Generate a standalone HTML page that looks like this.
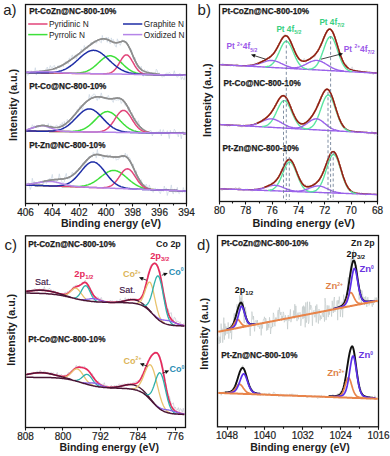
<!DOCTYPE html>
<html><head><meta charset="utf-8"><style>
html,body{margin:0;padding:0;background:#fff;width:390px;height:456px;overflow:hidden;}
body{position:relative;font-family:"Liberation Sans",sans-serif;}
</style></head><body>
<svg width="390" height="456" viewBox="0 0 390 456" style="position:absolute;left:0;top:0">
<g font-family='"Liberation Sans", sans-serif'>
<rect x="25.5" y="4.5" width="161.00" height="199.00" fill="none" stroke="#141414" stroke-width="1.3"/>
<line x1="25.50" y1="203.5" x2="25.50" y2="206.5" stroke="#141414" stroke-width="1.1"/>
<line x1="52.50" y1="203.5" x2="52.50" y2="206.5" stroke="#141414" stroke-width="1.1"/>
<line x1="79.50" y1="203.5" x2="79.50" y2="206.5" stroke="#141414" stroke-width="1.1"/>
<line x1="106.50" y1="203.5" x2="106.50" y2="206.5" stroke="#141414" stroke-width="1.1"/>
<line x1="132.50" y1="203.5" x2="132.50" y2="206.5" stroke="#141414" stroke-width="1.1"/>
<line x1="159.50" y1="203.5" x2="159.50" y2="206.5" stroke="#141414" stroke-width="1.1"/>
<line x1="186.50" y1="203.5" x2="186.50" y2="206.5" stroke="#141414" stroke-width="1.1"/>
<line x1="38.50" y1="203.5" x2="38.50" y2="205.5" stroke="#141414" stroke-width="1.1"/>
<line x1="65.50" y1="203.5" x2="65.50" y2="205.5" stroke="#141414" stroke-width="1.1"/>
<line x1="92.50" y1="203.5" x2="92.50" y2="205.5" stroke="#141414" stroke-width="1.1"/>
<line x1="119.50" y1="203.5" x2="119.50" y2="205.5" stroke="#141414" stroke-width="1.1"/>
<line x1="146.50" y1="203.5" x2="146.50" y2="205.5" stroke="#141414" stroke-width="1.1"/>
<line x1="173.50" y1="203.5" x2="173.50" y2="205.5" stroke="#141414" stroke-width="1.1"/>
<text x="3.2" y="14.7" font-size="15" fill="#222" font-weight="normal" text-anchor="start" >a)</text>
<text x="25.5" y="215.5" font-size="10" fill="#1e1e1e" font-weight="normal" text-anchor="middle" stroke="#1e1e1e" stroke-width="0.2" >406</text>
<text x="52.33333333333333" y="215.5" font-size="10" fill="#1e1e1e" font-weight="normal" text-anchor="middle" stroke="#1e1e1e" stroke-width="0.2" >404</text>
<text x="79.16666666666666" y="215.5" font-size="10" fill="#1e1e1e" font-weight="normal" text-anchor="middle" stroke="#1e1e1e" stroke-width="0.2" >402</text>
<text x="106.0" y="215.5" font-size="10" fill="#1e1e1e" font-weight="normal" text-anchor="middle" stroke="#1e1e1e" stroke-width="0.2" >400</text>
<text x="132.83333333333331" y="215.5" font-size="10" fill="#1e1e1e" font-weight="normal" text-anchor="middle" stroke="#1e1e1e" stroke-width="0.2" >398</text>
<text x="159.66666666666666" y="215.5" font-size="10" fill="#1e1e1e" font-weight="normal" text-anchor="middle" stroke="#1e1e1e" stroke-width="0.2" >396</text>
<text x="186.5" y="215.5" font-size="10" fill="#1e1e1e" font-weight="normal" text-anchor="middle" stroke="#1e1e1e" stroke-width="0.2" >394</text>
<text x="111" y="227.1" font-size="10.62" fill="#1c1c1c" font-weight="bold" text-anchor="middle" >Binding energy (eV)</text>
<text x="17.3" y="105" font-size="10.6" fill="#1c1c1c" font-weight="bold" text-anchor="middle" transform="rotate(-90 17.3 105)">Intensity (a.u.)</text>
<path d="M26.3 72.3L27.3 75.2L28.3 74.9L29.3 71.0L30.3 71.4L31.3 70.8L32.3 73.2L33.3 71.7L34.3 73.4L35.3 67.7L36.3 75.1L37.3 71.3L38.3 73.0L39.3 71.1L40.3 70.4L41.3 72.2L42.3 72.9L43.3 70.5L44.3 70.5L45.3 72.2L46.3 68.6L47.3 67.0L48.3 71.0L49.3 68.5L50.3 65.5L51.3 67.7L52.3 68.2L53.3 66.3L54.3 65.3L55.3 68.3L56.3 69.9L57.3 67.0L58.3 65.4L59.3 67.5L60.3 67.7L61.3 65.0L62.3 66.3L63.3 66.9L64.3 63.5L65.3 61.6L66.3 63.5L67.3 62.7L68.3 63.9L69.3 58.0L70.3 58.7L71.3 57.6L72.3 54.9L73.3 58.2L74.3 58.4L75.3 54.8L76.3 58.8L77.3 56.7L78.3 55.5L79.3 54.3L80.3 54.7L81.3 48.9L82.3 52.4L83.3 51.5L84.3 45.5L85.3 49.4L86.3 47.3L87.3 48.8L88.3 45.3L89.3 45.5L90.3 45.6L91.3 42.1L92.3 44.7L93.3 42.5L94.3 43.1L95.3 40.3L96.3 43.3L97.3 41.7L98.3 39.5L99.3 40.9L100.3 42.0L101.3 42.9L102.3 35.4L103.3 40.7L104.3 39.9L105.3 38.8L106.3 37.0L107.3 42.3L108.3 37.2L109.3 41.7L110.3 43.8L111.3 37.9L112.3 41.2L113.3 39.4L114.3 43.1L115.3 46.0L116.3 47.2L117.3 38.8L118.3 41.2L119.3 43.7L120.3 45.3L121.3 42.4L122.3 39.7L123.3 41.9L124.3 41.5L125.3 41.6L126.3 41.3L127.3 45.0L128.3 46.3L129.3 47.3L130.3 49.1L131.3 49.1L132.3 53.2L133.3 59.2L134.3 58.4L135.3 57.8L136.3 65.9L137.3 65.9L138.3 70.9L139.3 67.7L140.3 67.6L141.3 66.3L142.3 73.1L143.3 76.3L144.3 69.5L145.3 70.3L146.3 73.3L147.3 70.5L148.3 71.9L149.3 72.0L150.3 73.3L151.3 75.5L152.3 73.3L153.3 75.4L154.3 72.6L155.3 74.4L156.3 69.1L157.3 70.7L158.3 75.8L159.3 72.8L160.3 75.5L161.3 75.5L162.3 77.3L163.3 76.2L164.3 76.7L165.3 74.3L166.3 73.1L167.3 73.1L168.3 73.6L169.3 72.3L170.3 73.6L171.3 74.6L172.3 75.4L173.3 74.2L174.3 70.7L175.3 74.8L176.3 75.5L177.3 77.4L178.3 76.3L179.3 73.6L180.3 73.5L181.3 79.5L182.3 76.8L183.3 79.2L184.3 79.8L185.3 73.4" fill="none" stroke="#cad6e2" stroke-width="0.7" stroke-linejoin="round" />
<path d="M30.7 72.0L31.4 72.0L32.2 71.9L33.0 71.9L33.7 71.8L34.5 71.8L35.2 71.7L36.0 71.7L36.7 71.6L37.5 71.5L38.2 71.5L39.0 71.4L39.7 71.3L40.5 71.3L41.2 71.2L42.0 71.1L42.7 71.0L43.5 70.9L44.2 70.8L45.0 70.7L45.7 70.6L46.5 70.5L47.2 70.3L48.0 70.2L48.7 70.1L49.5 69.9L50.2 69.7L51.0 69.6L51.7 69.4L52.5 69.2L53.2 69.0L54.0 68.7L54.7 68.5L55.5 68.2L56.2 67.9L57.0 67.6L57.7 67.3L58.5 67.0L59.2 66.7L60.0 66.3L60.7 66.0L61.5 65.6L62.2 65.2L63.0 64.8L63.7 64.3L64.5 63.9L65.2 63.5L66.0 63.0L66.7 62.5L67.5 62.0L68.2 61.5L69.0 61.0L69.7 60.5L70.5 60.0L71.2 59.5L72.0 58.9L72.7 58.4L73.5 57.9L74.2 57.3L75.0 56.7L75.7 56.2L76.5 55.6L77.2 55.0L78.0 54.4L78.7 53.8L79.5 53.3L80.2 52.7L81.0 52.1L81.7 51.5L82.5 50.9L83.2 50.3L84.0 49.7L84.7 49.1L85.5 48.5L86.2 47.9L87.0 47.3L87.7 46.8L88.5 46.2L89.2 45.6L90.0 45.1L90.7 44.5L91.5 44.0L92.2 43.4L93.0 42.9L93.7 42.4L94.5 41.9L95.2 41.5L96.0 41.1L96.7 40.7L97.5 40.3L98.2 39.9L99.0 39.6L99.7 39.4L100.5 39.2L101.2 39.0L102.0 38.9L102.7 38.8L103.5 38.8L104.2 38.8L105.0 38.9L105.7 39.1L106.5 39.3L107.2 39.5L108.0 39.8L108.7 40.1L109.5 40.5L110.2 40.9L111.0 41.2L111.7 41.6L112.5 41.9L113.2 42.2L114.0 42.5L114.7 42.6L115.5 42.7L116.2 42.8L117.0 42.7L117.7 42.6L118.5 42.4L119.2 42.2L120.0 41.9L120.7 41.7L121.5 41.5L122.2 41.3L123.0 41.3L123.7 41.3L124.5 41.5L125.2 41.9L126.0 42.5L126.7 43.3L127.5 44.3L128.2 45.5L128.9 46.8L129.7 48.3L130.4 49.9L131.2 51.6L131.9 53.4L132.7 55.2L133.4 56.9L134.2 58.6L134.9 60.3L135.7 61.8L136.4 63.2L137.2 64.6L137.9 65.7L138.7 66.8L139.4 67.7L140.2 68.5L140.9 69.2L141.7 69.8L142.4 70.3L143.2 70.8L143.9 71.1L144.7 71.5L145.4 71.8L146.2 72.0L146.9 72.2L147.7 72.4L148.4 72.6L149.2 72.7L149.9 72.9L150.7 73.0L151.4 73.1L152.2 73.2L152.9 73.3L153.7 73.5L154.4 73.6L155.2 73.6L155.9 73.7L156.7 73.8L157.4 73.9L158.2 74.0L158.9 74.1L159.7 74.1" fill="none" stroke="#8e8e8e" stroke-width="1.5" stroke-linejoin="round"/>
<path d="M26.2 72.6L26.9 72.6L27.7 72.6L28.4 72.6L29.2 72.7L29.9 72.7L30.7 72.7L31.4 72.7L32.2 72.7L33.0 72.7L33.7 72.7L34.5 72.7L35.2 72.8L36.0 72.8L36.7 72.8L37.5 72.8L38.2 72.8L39.0 72.8L39.7 72.8L40.5 72.8L41.2 72.9L42.0 72.9L42.7 72.9L43.5 72.9L44.2 72.9L45.0 72.9L45.7 72.9L46.5 72.9L47.2 73.0L48.0 73.0L48.7 73.0L49.5 73.0L50.2 73.0L51.0 73.0L51.7 73.0L52.5 73.0L53.2 73.0L54.0 73.1L54.7 73.1L55.5 73.1L56.2 73.1L57.0 73.1L57.7 73.1L58.5 73.1L59.2 73.1L60.0 73.2L60.7 73.2L61.5 73.2L62.2 73.2L63.0 73.2L63.7 73.2L64.5 73.2L65.2 73.2L66.0 73.2L66.7 73.2L67.5 73.3L68.2 73.3L69.0 73.3L69.7 73.3L70.5 73.3L71.2 73.3L72.0 73.3L72.7 73.3L73.5 73.3L74.2 73.2L75.0 73.2L75.7 73.2L76.5 73.2L77.2 73.1L78.0 73.1L78.7 73.0L79.5 72.9L80.2 72.8L81.0 72.7L81.7 72.6L82.5 72.5L83.2 72.3L84.0 72.1L84.7 71.9L85.5 71.7L86.2 71.4L87.0 71.1L87.7 70.8L88.5 70.4L89.2 70.0L90.0 69.6L90.7 69.2L91.5 68.7L92.2 68.1L93.0 67.6L93.7 67.0L94.5 66.4L95.2 65.7L96.0 65.1L96.7 64.4L97.5 63.7L98.2 63.0L99.0 62.3L99.7 61.6L100.5 60.9L101.2 60.3L102.0 59.6L102.7 59.0L103.5 58.4L104.2 57.9L105.0 57.4L105.7 57.0L106.5 56.6L107.2 56.3L108.0 56.0L108.7 55.9L109.5 55.8L110.2 55.8L111.0 55.8L111.7 56.0L112.5 56.2L113.2 56.5L114.0 56.8L114.7 57.2L115.5 57.7L116.2 58.2L117.0 58.8L117.7 59.4L118.5 60.1L119.2 60.7L120.0 61.4L120.7 62.1L121.5 62.9L122.2 63.6L123.0 64.3L123.7 65.0L124.5 65.7L125.2 66.4L126.0 67.1L126.7 67.7L127.5 68.3L128.2 68.9L128.9 69.4L129.7 69.9L130.4 70.4L131.2 70.8L131.9 71.2L132.7 71.6L133.4 71.9L134.2 72.3L134.9 72.5L135.7 72.8L136.4 73.0L137.2 73.2L137.9 73.4L138.7 73.6L139.4 73.7L140.2 73.8L140.9 73.9L141.7 74.0L142.4 74.1L143.2 74.2L143.9 74.3L144.7 74.3L145.4 74.4L146.2 74.4L146.9 74.4L147.7 74.5L148.4 74.5L149.2 74.5L149.9 74.6L150.7 74.6L151.4 74.6L152.2 74.6L152.9 74.6L153.7 74.7L154.4 74.7L155.2 74.7L155.9 74.7L156.7 74.7L157.4 74.7L158.2 74.7L158.9 74.8L159.7 74.8L160.4 74.8L161.2 74.8L161.9 74.8L162.7 74.8L163.4 74.8L164.2 74.8L164.9 74.9L165.7 74.9L166.4 74.9L167.2 74.9L167.9 74.9L168.7 74.9L169.4 74.9L170.2 74.9L170.9 74.9L171.7 75.0L172.4 75.0L173.2 75.0L173.9 75.0L174.7 75.0L175.4 75.0L176.2 75.0L176.9 75.0L177.7 75.1L178.4 75.1L179.2 75.1L179.9 75.1L180.7 75.1L181.4 75.1L182.2 75.1L182.9 75.1L183.7 75.2L184.4 75.2L185.2 75.2L185.9 75.2" fill="none" stroke="#3ee03a" stroke-width="1.5" stroke-linejoin="round" />
<path d="M26.2 72.6L26.9 72.6L27.7 72.6L28.4 72.6L29.2 72.7L29.9 72.7L30.7 72.7L31.4 72.7L32.2 72.7L33.0 72.7L33.7 72.7L34.5 72.7L35.2 72.8L36.0 72.8L36.7 72.8L37.5 72.8L38.2 72.8L39.0 72.8L39.7 72.8L40.5 72.8L41.2 72.9L42.0 72.9L42.7 72.9L43.5 72.9L44.2 72.9L45.0 72.9L45.7 72.9L46.5 72.9L47.2 73.0L48.0 73.0L48.7 73.0L49.5 73.0L50.2 73.0L51.0 73.0L51.7 73.0L52.5 73.0L53.2 73.0L54.0 73.1L54.7 73.1L55.5 73.1L56.2 73.1L57.0 73.1L57.7 73.1L58.5 73.1L59.2 73.1L60.0 73.2L60.7 73.2L61.5 73.2L62.2 73.2L63.0 73.2L63.7 73.2L64.5 73.2L65.2 73.2L66.0 73.3L66.7 73.3L67.5 73.3L68.2 73.3L69.0 73.3L69.7 73.3L70.5 73.3L71.2 73.3L72.0 73.4L72.7 73.4L73.5 73.4L74.2 73.4L75.0 73.4L75.7 73.4L76.5 73.4L77.2 73.4L78.0 73.4L78.7 73.5L79.5 73.5L80.2 73.5L81.0 73.5L81.7 73.5L82.5 73.5L83.2 73.5L84.0 73.5L84.7 73.6L85.5 73.6L86.2 73.6L87.0 73.6L87.7 73.6L88.5 73.6L89.2 73.6L90.0 73.6L90.7 73.7L91.5 73.7L92.2 73.7L93.0 73.7L93.7 73.7L94.5 73.7L95.2 73.7L96.0 73.7L96.7 73.7L97.5 73.8L98.2 73.8L99.0 73.8L99.7 73.8L100.5 73.8L101.2 73.8L102.0 73.8L102.7 73.8L103.5 73.8L104.2 73.8L105.0 73.8L105.7 73.7L106.5 73.7L107.2 73.6L108.0 73.5L108.7 73.4L109.5 73.2L110.2 72.9L111.0 72.6L111.7 72.2L112.5 71.8L113.2 71.2L114.0 70.6L114.7 69.8L115.5 68.9L116.2 68.0L117.0 66.9L117.7 65.7L118.5 64.5L119.2 63.2L120.0 61.9L120.7 60.6L121.5 59.4L122.2 58.2L123.0 57.2L123.7 56.3L124.5 55.6L125.2 55.1L126.0 54.9L126.7 54.9L127.5 55.1L128.2 55.5L128.9 56.2L129.7 57.1L130.4 58.1L131.2 59.3L131.9 60.6L132.7 61.9L133.4 63.2L134.2 64.5L134.9 65.8L135.7 67.0L136.4 68.1L137.2 69.1L137.9 70.0L138.7 70.8L139.4 71.5L140.2 72.1L140.9 72.6L141.7 73.0L142.4 73.4L143.2 73.7L143.9 73.9L144.7 74.1L145.4 74.2L146.2 74.3L146.9 74.4L147.7 74.4L148.4 74.5L149.2 74.5L149.9 74.6L150.7 74.6L151.4 74.6L152.2 74.6L152.9 74.7L153.7 74.7L154.4 74.7L155.2 74.7L155.9 74.7L156.7 74.7L157.4 74.7L158.2 74.7L158.9 74.8L159.7 74.8L160.4 74.8L161.2 74.8L161.9 74.8L162.7 74.8L163.4 74.8L164.2 74.8L164.9 74.9L165.7 74.9L166.4 74.9L167.2 74.9L167.9 74.9L168.7 74.9L169.4 74.9L170.2 74.9L170.9 74.9L171.7 75.0L172.4 75.0L173.2 75.0L173.9 75.0L174.7 75.0L175.4 75.0L176.2 75.0L176.9 75.0L177.7 75.1L178.4 75.1L179.2 75.1L179.9 75.1L180.7 75.1L181.4 75.1L182.2 75.1L182.9 75.1L183.7 75.2L184.4 75.2L185.2 75.2L185.9 75.2" fill="none" stroke="#e2457a" stroke-width="1.5" stroke-linejoin="round" />
<path d="M26.2 72.6L26.9 72.6L27.7 72.6L28.4 72.6L29.2 72.7L29.9 72.7L30.7 72.7L31.4 72.7L32.2 72.7L33.0 72.7L33.7 72.7L34.5 72.7L35.2 72.7L36.0 72.8L36.7 72.8L37.5 72.8L38.2 72.8L39.0 72.8L39.7 72.8L40.5 72.8L41.2 72.8L42.0 72.8L42.7 72.8L43.5 72.8L44.2 72.8L45.0 72.8L45.7 72.8L46.5 72.7L47.2 72.7L48.0 72.7L48.7 72.7L49.5 72.6L50.2 72.6L51.0 72.6L51.7 72.5L52.5 72.4L53.2 72.4L54.0 72.3L54.7 72.2L55.5 72.1L56.2 72.0L57.0 71.8L57.7 71.7L58.5 71.5L59.2 71.3L60.0 71.1L60.7 70.9L61.5 70.7L62.2 70.4L63.0 70.1L63.7 69.8L64.5 69.5L65.2 69.2L66.0 68.8L66.7 68.4L67.5 68.0L68.2 67.5L69.0 67.0L69.7 66.5L70.5 66.0L71.2 65.4L72.0 64.9L72.7 64.3L73.5 63.7L74.2 63.0L75.0 62.4L75.7 61.7L76.5 61.0L77.2 60.4L78.0 59.7L78.7 59.0L79.5 58.3L80.2 57.6L81.0 56.9L81.7 56.3L82.5 55.6L83.2 55.0L84.0 54.4L84.7 53.8L85.5 53.3L86.2 52.8L87.0 52.3L87.7 51.9L88.5 51.5L89.2 51.2L90.0 50.9L90.7 50.7L91.5 50.5L92.2 50.4L93.0 50.3L93.7 50.3L94.5 50.4L95.2 50.5L96.0 50.6L96.7 50.8L97.5 51.1L98.2 51.4L99.0 51.8L99.7 52.2L100.5 52.7L101.2 53.2L102.0 53.7L102.7 54.3L103.5 54.9L104.2 55.5L105.0 56.2L105.7 56.8L106.5 57.5L107.2 58.2L108.0 58.9L108.7 59.7L109.5 60.4L110.2 61.1L111.0 61.8L111.7 62.5L112.5 63.2L113.2 63.8L114.0 64.5L114.7 65.1L115.5 65.7L116.2 66.3L117.0 66.9L117.7 67.4L118.5 68.0L119.2 68.4L120.0 68.9L120.7 69.4L121.5 69.8L122.2 70.2L123.0 70.5L123.7 70.9L124.5 71.2L125.2 71.5L126.0 71.8L126.7 72.0L127.5 72.3L128.2 72.5L128.9 72.7L129.7 72.9L130.4 73.1L131.2 73.2L131.9 73.3L132.7 73.5L133.4 73.6L134.2 73.7L134.9 73.8L135.7 73.9L136.4 74.0L137.2 74.0L137.9 74.1L138.7 74.1L139.4 74.2L140.2 74.2L140.9 74.3L141.7 74.3L142.4 74.4L143.2 74.4L143.9 74.4L144.7 74.4L145.4 74.5L146.2 74.5L146.9 74.5L147.7 74.5L148.4 74.6L149.2 74.6L149.9 74.6L150.7 74.6L151.4 74.6L152.2 74.6L152.9 74.6L153.7 74.7L154.4 74.7L155.2 74.7L155.9 74.7L156.7 74.7L157.4 74.7L158.2 74.7L158.9 74.8L159.7 74.8L160.4 74.8L161.2 74.8L161.9 74.8L162.7 74.8L163.4 74.8L164.2 74.8L164.9 74.9L165.7 74.9L166.4 74.9L167.2 74.9L167.9 74.9L168.7 74.9L169.4 74.9L170.2 74.9L170.9 74.9L171.7 75.0L172.4 75.0L173.2 75.0L173.9 75.0L174.7 75.0L175.4 75.0L176.2 75.0L176.9 75.0L177.7 75.1L178.4 75.1L179.2 75.1L179.9 75.1L180.7 75.1L181.4 75.1L182.2 75.1L182.9 75.1L183.7 75.2L184.4 75.2L185.2 75.2L185.9 75.2" fill="none" stroke="#1e2da6" stroke-width="1.5" stroke-linejoin="round" />
<path d="M26.2 72.3L26.9 72.2L27.7 72.2L28.4 72.2L29.2 72.2L29.9 72.1L30.7 72.1L31.4 72.1L32.2 72.0L33.0 72.0L33.7 72.0L34.5 71.9L35.2 71.9L36.0 71.9L36.7 71.8L37.5 71.8L38.2 71.8L39.0 71.8L39.7 71.7L40.5 71.7L41.2 71.7L42.0 71.7L42.7 71.7L43.5 71.7L44.2 71.7L45.0 71.7L45.7 71.7L46.5 71.7L47.2 71.8L48.0 71.8L48.7 71.8L49.5 71.9L50.2 71.9L51.0 71.9L51.7 72.0L52.5 72.0L53.2 72.1L54.0 72.2L54.7 72.2L55.5 72.3L56.2 72.3L57.0 72.4L57.7 72.4L58.5 72.5L59.2 72.5L60.0 72.6L60.7 72.7L61.5 72.7L62.2 72.8L63.0 72.8L63.7 72.9L64.5 72.9L65.2 73.0L66.0 73.0L66.7 73.0L67.5 73.1L68.2 73.1L69.0 73.1L69.7 73.2L70.5 73.2L71.2 73.2L72.0 73.3L72.7 73.3L73.5 73.3L74.2 73.3L75.0 73.3L75.7 73.4L76.5 73.4L77.2 73.4L78.0 73.4L78.7 73.4L79.5 73.5L80.2 73.5L81.0 73.5L81.7 73.5L82.5 73.5L83.2 73.5L84.0 73.5L84.7 73.6L85.5 73.6L86.2 73.6L87.0 73.6L87.7 73.6L88.5 73.6L89.2 73.6L90.0 73.6L90.7 73.7L91.5 73.7L92.2 73.7L93.0 73.7L93.7 73.7L94.5 73.7L95.2 73.7L96.0 73.7L96.7 73.7L97.5 73.8L98.2 73.8L99.0 73.8L99.7 73.8L100.5 73.8L101.2 73.8L102.0 73.8L102.7 73.8L103.5 73.9L104.2 73.9L105.0 73.9L105.7 73.9L106.5 73.9L107.2 73.9L108.0 73.9L108.7 73.9L109.5 74.0L110.2 74.0L111.0 74.0L111.7 74.0L112.5 74.0L113.2 74.0L114.0 74.0L114.7 74.0L115.5 74.1L116.2 74.1L117.0 74.1L117.7 74.1L118.5 74.1L119.2 74.1L120.0 74.1L120.7 74.1L121.5 74.1L122.2 74.2L123.0 74.2L123.7 74.2L124.5 74.2L125.2 74.2L126.0 74.2L126.7 74.2L127.5 74.2L128.2 74.3L128.9 74.3L129.7 74.3L130.4 74.3L131.2 74.3L131.9 74.3L132.7 74.3L133.4 74.3L134.2 74.4L134.9 74.4L135.7 74.4L136.4 74.4L137.2 74.4L137.9 74.4L138.7 74.4L139.4 74.4L140.2 74.5L140.9 74.5L141.7 74.5L142.4 74.5L143.2 74.5L143.9 74.5L144.7 74.5L145.4 74.5L146.2 74.5L146.9 74.6L147.7 74.6L148.4 74.6L149.2 74.6L149.9 74.6L150.7 74.6L151.4 74.6L152.2 74.6L152.9 74.7L153.7 74.7L154.4 74.7L155.2 74.7L155.9 74.7L156.7 74.7L157.4 74.7L158.2 74.7L158.9 74.8L159.7 74.8L160.4 74.8L161.2 74.8L161.9 74.8L162.7 74.8L163.4 74.8L164.2 74.8L164.9 74.9L165.7 74.9L166.4 74.9L167.2 74.9L167.9 74.9L168.7 74.9L169.4 74.9L170.2 74.9L170.9 74.9L171.7 75.0L172.4 75.0L173.2 75.0L173.9 75.0L174.7 75.0L175.4 75.0L176.2 75.0L176.9 75.0L177.7 75.1L178.4 75.1L179.2 75.1L179.9 75.1L180.7 75.1L181.4 75.1L182.2 75.1L182.9 75.1L183.7 75.2L184.4 75.2L185.2 75.2L185.9 75.2" fill="none" stroke="#b585e8" stroke-width="1.5" stroke-linejoin="round" />
<path d="M53.2 69.0L54.0 68.7L54.7 68.5L55.5 68.2L56.2 67.9L57.0 67.6L57.7 67.3L58.5 67.0L59.2 66.7L60.0 66.3L60.7 66.0L61.5 65.6L62.2 65.2L63.0 64.8L63.7 64.3L64.5 63.9L65.2 63.5L66.0 63.0L66.7 62.5L67.5 62.0L68.2 61.5L69.0 61.0L69.7 60.5L70.5 60.0L71.2 59.5L72.0 58.9L72.7 58.4L73.5 57.9L74.2 57.3L75.0 56.7L75.7 56.2L76.5 55.6L77.2 55.0L78.0 54.4L78.7 53.8L79.5 53.3L80.2 52.7L81.0 52.1L81.7 51.5L82.5 50.9L83.2 50.3L84.0 49.7L84.7 49.1L85.5 48.5L86.2 47.9L87.0 47.3L87.7 46.8L88.5 46.2L89.2 45.6L90.0 45.1L90.7 44.5L91.5 44.0L92.2 43.4L93.0 42.9L93.7 42.4L94.5 41.9L95.2 41.5L96.0 41.1L96.7 40.7L97.5 40.3L98.2 39.9L99.0 39.6L99.7 39.4L100.5 39.2L101.2 39.0L102.0 38.9L102.7 38.8L103.5 38.8L104.2 38.8L105.0 38.9L105.7 39.1L106.5 39.3L107.2 39.5L108.0 39.8L108.7 40.1L109.5 40.5L110.2 40.9L111.0 41.2L111.7 41.6L112.5 41.9L113.2 42.2L114.0 42.5L114.7 42.6L115.5 42.7L116.2 42.8L117.0 42.7L117.7 42.6L118.5 42.4L119.2 42.2L120.0 41.9L120.7 41.7L121.5 41.5L122.2 41.3L123.0 41.3L123.7 41.3L124.5 41.5L125.2 41.9L126.0 42.5L126.7 43.3L127.5 44.3L128.2 45.5L128.9 46.8L129.7 48.3L130.4 49.9L131.2 51.6L131.9 53.4L132.7 55.2L133.4 56.9L134.2 58.6L134.9 60.3L135.7 61.8L136.4 63.2L137.2 64.6L137.9 65.7L138.7 66.8L139.4 67.7L140.2 68.5L140.9 69.2L141.7 69.8L142.4 70.3" fill="none" stroke="#8e8e8e" stroke-width="1.5" stroke-linejoin="round"/>
<text x="29.2" y="14.3" font-size="8.2" fill="#1c1c1c" font-weight="bold" text-anchor="start" stroke="#1c1c1c" stroke-width="0.25" >Pt-CoZn@NC-800-10%</text>
<path d="M26.3 130.7L27.3 130.6L28.3 130.5L29.3 130.2L30.3 129.1L31.3 128.7L32.3 124.7L33.3 127.3L34.3 125.6L35.3 127.2L36.3 125.6L37.3 127.7L38.3 127.8L39.3 126.5L40.3 126.4L41.3 125.8L42.3 124.6L43.3 125.2L44.3 124.6L45.3 126.6L46.3 126.0L47.3 127.4L48.3 123.5L49.3 128.6L50.3 125.2L51.3 125.5L52.3 126.8L53.3 126.2L54.3 128.2L55.3 126.3L56.3 125.2L57.3 125.6L58.3 130.2L59.3 127.2L60.3 124.2L61.3 126.4L62.3 122.5L63.3 129.3L64.3 121.4L65.3 125.1L66.3 124.5L67.3 119.3L68.3 122.2L69.3 122.8L70.3 120.6L71.3 119.1L72.3 119.5L73.3 116.7L74.3 115.9L75.3 113.7L76.3 114.1L77.3 109.5L78.3 112.1L79.3 108.0L80.3 105.5L81.3 107.6L82.3 109.4L83.3 106.7L84.3 102.5L85.3 104.2L86.3 100.8L87.3 100.7L88.3 100.4L89.3 94.4L90.3 99.3L91.3 96.1L92.3 96.4L93.3 94.3L94.3 93.9L95.3 95.0L96.3 98.7L97.3 100.5L98.3 96.7L99.3 99.2L100.3 96.4L101.3 92.9L102.3 97.6L103.3 98.5L104.3 96.8L105.3 98.7L106.3 99.5L107.3 96.5L108.3 95.4L109.3 98.2L110.3 98.3L111.3 98.0L112.3 100.9L113.3 102.4L114.3 97.6L115.3 99.9L116.3 100.3L117.3 99.7L118.3 100.4L119.3 97.4L120.3 100.2L121.3 103.5L122.3 101.5L123.3 99.3L124.3 103.1L125.3 105.8L126.3 105.4L127.3 105.0L128.3 111.4L129.3 107.1L130.3 112.9L131.3 113.6L132.3 112.9L133.3 120.0L134.3 119.8L135.3 118.1L136.3 123.5L137.3 122.6L138.3 120.7L139.3 124.5L140.3 127.6L141.3 129.4L142.3 129.2L143.3 129.7L144.3 131.2L145.3 130.3L146.3 133.8L147.3 131.9L148.3 132.5L149.3 133.3L150.3 130.0L151.3 131.0L152.3 136.0L153.3 133.5L154.3 132.2L155.3 133.6L156.3 131.8L157.3 133.5L158.3 131.5L159.3 133.6L160.3 129.5L161.3 135.9L162.3 131.9L163.3 129.6L164.3 132.6L165.3 132.3L166.3 133.4L167.3 130.6L168.3 134.0L169.3 138.6L170.3 130.3L171.3 133.9L172.3 132.5L173.3 133.6L174.3 129.2L175.3 130.7L176.3 134.3L177.3 133.2L178.3 136.9L179.3 131.7L180.3 133.7L181.3 138.8L182.3 131.7L183.3 131.4L184.3 133.3L185.3 133.3" fill="none" stroke="#cad6e2" stroke-width="0.7" stroke-linejoin="round" />
<path d="M26.2 129.8L26.9 129.7L27.7 129.5L28.4 129.3L29.2 129.0L29.9 128.8L30.7 128.6L31.4 128.3L32.2 128.0L33.0 127.8L33.7 127.5L34.5 127.2L35.2 127.0L36.0 126.7L36.7 126.5L37.5 126.3L38.2 126.1L39.0 125.9L39.7 125.8L40.5 125.7L41.2 125.6L42.0 125.5L42.7 125.5L43.5 125.6L44.2 125.6L45.0 125.7L45.7 125.8L46.5 126.0L47.2 126.1L48.0 126.3L48.7 126.5L49.5 126.7L50.2 126.8L51.0 127.0L51.7 127.1L52.5 127.3L53.2 127.4L54.0 127.5L54.7 127.5L55.5 127.6L56.2 127.6L57.0 127.5L57.7 127.4L58.5 127.3L59.2 127.1L60.0 126.9L60.7 126.6L61.5 126.3L62.2 126.0L63.0 125.6L63.7 125.1L64.5 124.7L65.2 124.1L66.0 123.6L66.7 123.0L67.5 122.3L68.2 121.7L69.0 121.0L69.7 120.2L70.5 119.5L71.2 118.7L72.0 117.8L72.7 117.0L73.5 116.1L74.2 115.3L75.0 114.4L75.7 113.5L76.5 112.6L77.2 111.6L78.0 110.7L78.7 109.8L79.5 108.9L80.2 108.1L81.0 107.2L81.7 106.3L82.5 105.5L83.2 104.7L84.0 104.0L84.7 103.2L85.5 102.5L86.2 101.9L87.0 101.2L87.7 100.6L88.5 100.1L89.2 99.6L90.0 99.1L90.7 98.7L91.5 98.3L92.2 98.0L93.0 97.7L93.7 97.4L94.5 97.2L95.2 97.0L96.0 96.9L96.7 96.8L97.5 96.8L98.2 96.8L99.0 96.8L99.7 96.9L100.5 97.0L101.2 97.1L102.0 97.2L102.7 97.4L103.5 97.6L104.2 97.7L105.0 97.9L105.7 98.1L106.5 98.3L107.2 98.4L108.0 98.6L108.7 98.7L109.5 98.7L110.2 98.8L111.0 98.8L111.7 98.8L112.5 98.7L113.2 98.6L114.0 98.5L114.7 98.4L115.5 98.3L116.2 98.2L117.0 98.1L117.7 98.1L118.5 98.2L119.2 98.3L120.0 98.5L120.7 98.7L121.5 99.1L122.2 99.7L123.0 100.3L123.7 101.1L124.5 101.9L125.2 102.9L126.0 104.0L126.7 105.2L127.5 106.5L128.2 107.8L128.9 109.2L129.7 110.6L130.4 112.0L131.2 113.5L131.9 114.9L132.7 116.2L133.4 117.6L134.2 118.9L134.9 120.1L135.7 121.3L136.4 122.4L137.2 123.4L137.9 124.4L138.7 125.3L139.4 126.2L140.2 127.0L140.9 127.7L141.7 128.3L142.4 129.0L143.2 129.5L143.9 130.0L144.7 130.4L145.4 130.8L146.2 131.2L146.9 131.5L147.7 131.7L148.4 131.9L149.2 132.1" fill="none" stroke="#8e8e8e" stroke-width="1.5" stroke-linejoin="round"/>
<path d="M26.2 131.0L26.9 131.0L27.7 131.0L28.4 131.0L29.2 131.1L29.9 131.1L30.7 131.1L31.4 131.1L32.2 131.1L33.0 131.1L33.7 131.1L34.5 131.1L35.2 131.1L36.0 131.2L36.7 131.2L37.5 131.2L38.2 131.2L39.0 131.2L39.7 131.2L40.5 131.2L41.2 131.2L42.0 131.2L42.7 131.3L43.5 131.3L44.2 131.3L45.0 131.3L45.7 131.3L46.5 131.3L47.2 131.3L48.0 131.3L48.7 131.3L49.5 131.4L50.2 131.4L51.0 131.4L51.7 131.4L52.5 131.4L53.2 131.4L54.0 131.4L54.7 131.4L55.5 131.4L56.2 131.5L57.0 131.5L57.7 131.5L58.5 131.5L59.2 131.5L60.0 131.5L60.7 131.5L61.5 131.5L62.2 131.5L63.0 131.5L63.7 131.5L64.5 131.5L65.2 131.6L66.0 131.6L66.7 131.6L67.5 131.5L68.2 131.5L69.0 131.5L69.7 131.5L70.5 131.5L71.2 131.5L72.0 131.4L72.7 131.4L73.5 131.3L74.2 131.3L75.0 131.2L75.7 131.1L76.5 131.0L77.2 130.9L78.0 130.8L78.7 130.6L79.5 130.5L80.2 130.3L81.0 130.0L81.7 129.8L82.5 129.5L83.2 129.2L84.0 128.9L84.7 128.5L85.5 128.1L86.2 127.6L87.0 127.2L87.7 126.6L88.5 126.1L89.2 125.5L90.0 124.9L90.7 124.2L91.5 123.6L92.2 122.9L93.0 122.1L93.7 121.4L94.5 120.6L95.2 119.9L96.0 119.1L96.7 118.3L97.5 117.6L98.2 116.8L99.0 116.1L99.7 115.4L100.5 114.8L101.2 114.2L102.0 113.6L102.7 113.1L103.5 112.7L104.2 112.3L105.0 112.0L105.7 111.8L106.5 111.7L107.2 111.6L108.0 111.6L108.7 111.7L109.5 111.9L110.2 112.2L111.0 112.5L111.7 112.9L112.5 113.4L113.2 113.9L114.0 114.5L114.7 115.1L115.5 115.8L116.2 116.5L117.0 117.3L117.7 118.0L118.5 118.8L119.2 119.6L120.0 120.4L120.7 121.2L121.5 121.9L122.2 122.7L123.0 123.5L123.7 124.2L124.5 124.9L125.2 125.5L126.0 126.2L126.7 126.8L127.5 127.3L128.2 127.9L128.9 128.4L129.7 128.8L130.4 129.3L131.2 129.6L131.9 130.0L132.7 130.3L133.4 130.6L134.2 130.9L134.9 131.1L135.7 131.3L136.4 131.5L137.2 131.7L137.9 131.9L138.7 132.0L139.4 132.1L140.2 132.2L140.9 132.3L141.7 132.4L142.4 132.4L143.2 132.5L143.9 132.6L144.7 132.6L145.4 132.6L146.2 132.7L146.9 132.7L147.7 132.7L148.4 132.8L149.2 132.8L149.9 132.8L150.7 132.8L151.4 132.9L152.2 132.9L152.9 132.9L153.7 132.9L154.4 132.9L155.2 132.9L155.9 132.9L156.7 133.0L157.4 133.0L158.2 133.0L158.9 133.0L159.7 133.0L160.4 133.0L161.2 133.0L161.9 133.0L162.7 133.0L163.4 133.1L164.2 133.1L164.9 133.1L165.7 133.1L166.4 133.1L167.2 133.1L167.9 133.1L168.7 133.1L169.4 133.1L170.2 133.2L170.9 133.2L171.7 133.2L172.4 133.2L173.2 133.2L173.9 133.2L174.7 133.2L175.4 133.2L176.2 133.2L176.9 133.3L177.7 133.3L178.4 133.3L179.2 133.3L179.9 133.3L180.7 133.3L181.4 133.3L182.2 133.3L182.9 133.3L183.7 133.4L184.4 133.4L185.2 133.4L185.9 133.4" fill="none" stroke="#3ee03a" stroke-width="1.5" stroke-linejoin="round" />
<path d="M26.2 131.0L26.9 131.0L27.7 131.0L28.4 131.0L29.2 131.1L29.9 131.1L30.7 131.1L31.4 131.1L32.2 131.1L33.0 131.1L33.7 131.1L34.5 131.1L35.2 131.1L36.0 131.2L36.7 131.2L37.5 131.2L38.2 131.2L39.0 131.2L39.7 131.2L40.5 131.2L41.2 131.2L42.0 131.2L42.7 131.3L43.5 131.3L44.2 131.3L45.0 131.3L45.7 131.3L46.5 131.3L47.2 131.3L48.0 131.3L48.7 131.3L49.5 131.4L50.2 131.4L51.0 131.4L51.7 131.4L52.5 131.4L53.2 131.4L54.0 131.4L54.7 131.4L55.5 131.4L56.2 131.5L57.0 131.5L57.7 131.5L58.5 131.5L59.2 131.5L60.0 131.5L60.7 131.5L61.5 131.5L62.2 131.5L63.0 131.6L63.7 131.6L64.5 131.6L65.2 131.6L66.0 131.6L66.7 131.6L67.5 131.6L68.2 131.6L69.0 131.6L69.7 131.7L70.5 131.7L71.2 131.7L72.0 131.7L72.7 131.7L73.5 131.7L74.2 131.7L75.0 131.7L75.7 131.7L76.5 131.8L77.2 131.8L78.0 131.8L78.7 131.8L79.5 131.8L80.2 131.8L81.0 131.8L81.7 131.8L82.5 131.8L83.2 131.9L84.0 131.9L84.7 131.9L85.5 131.9L86.2 131.9L87.0 131.9L87.7 131.9L88.5 131.9L89.2 131.9L90.0 132.0L90.7 132.0L91.5 132.0L92.2 132.0L93.0 132.0L93.7 132.0L94.5 132.0L95.2 132.0L96.0 131.9L96.7 131.9L97.5 131.9L98.2 131.8L99.0 131.8L99.7 131.7L100.5 131.6L101.2 131.4L102.0 131.3L102.7 131.0L103.5 130.8L104.2 130.5L105.0 130.1L105.7 129.7L106.5 129.3L107.2 128.7L108.0 128.1L108.7 127.4L109.5 126.6L110.2 125.8L111.0 124.8L111.7 123.9L112.5 122.8L113.2 121.7L114.0 120.6L114.7 119.4L115.5 118.2L116.2 117.1L117.0 115.9L117.7 114.9L118.5 113.9L119.2 113.0L120.0 112.2L120.7 111.5L121.5 111.0L122.2 110.6L123.0 110.4L123.7 110.4L124.5 110.5L125.2 110.8L126.0 111.3L126.7 111.9L127.5 112.7L128.2 113.6L128.9 114.5L129.7 115.6L130.4 116.7L131.2 117.9L131.9 119.1L132.7 120.3L133.4 121.5L134.2 122.6L134.9 123.7L135.7 124.8L136.4 125.7L137.2 126.6L137.9 127.5L138.7 128.2L139.4 128.9L140.2 129.5L140.9 130.0L141.7 130.5L142.4 130.9L143.2 131.2L143.9 131.5L144.7 131.8L145.4 132.0L146.2 132.2L146.9 132.3L147.7 132.4L148.4 132.5L149.2 132.6L149.9 132.7L150.7 132.7L151.4 132.8L152.2 132.8L152.9 132.8L153.7 132.9L154.4 132.9L155.2 132.9L155.9 132.9L156.7 132.9L157.4 133.0L158.2 133.0L158.9 133.0L159.7 133.0L160.4 133.0L161.2 133.0L161.9 133.0L162.7 133.0L163.4 133.1L164.2 133.1L164.9 133.1L165.7 133.1L166.4 133.1L167.2 133.1L167.9 133.1L168.7 133.1L169.4 133.1L170.2 133.2L170.9 133.2L171.7 133.2L172.4 133.2L173.2 133.2L173.9 133.2L174.7 133.2L175.4 133.2L176.2 133.2L176.9 133.3L177.7 133.3L178.4 133.3L179.2 133.3L179.9 133.3L180.7 133.3L181.4 133.3L182.2 133.3L182.9 133.3L183.7 133.4L184.4 133.4L185.2 133.4L185.9 133.4" fill="none" stroke="#e2457a" stroke-width="1.5" stroke-linejoin="round" />
<path d="M26.2 131.0L26.9 131.0L27.7 131.0L28.4 131.0L29.2 131.1L29.9 131.1L30.7 131.1L31.4 131.1L32.2 131.1L33.0 131.1L33.7 131.1L34.5 131.1L35.2 131.1L36.0 131.1L36.7 131.2L37.5 131.2L38.2 131.2L39.0 131.2L39.7 131.2L40.5 131.2L41.2 131.2L42.0 131.2L42.7 131.2L43.5 131.2L44.2 131.2L45.0 131.2L45.7 131.2L46.5 131.2L47.2 131.2L48.0 131.2L48.7 131.1L49.5 131.1L50.2 131.1L51.0 131.0L51.7 131.0L52.5 130.9L53.2 130.9L54.0 130.8L54.7 130.7L55.5 130.6L56.2 130.5L57.0 130.3L57.7 130.2L58.5 130.0L59.2 129.8L60.0 129.6L60.7 129.4L61.5 129.1L62.2 128.8L63.0 128.5L63.7 128.1L64.5 127.7L65.2 127.3L66.0 126.8L66.7 126.3L67.5 125.8L68.2 125.3L69.0 124.7L69.7 124.1L70.5 123.4L71.2 122.8L72.0 122.1L72.7 121.3L73.5 120.6L74.2 119.8L75.0 119.0L75.7 118.3L76.5 117.5L77.2 116.7L78.0 115.9L78.7 115.2L79.5 114.4L80.2 113.7L81.0 113.0L81.7 112.4L82.5 111.7L83.2 111.2L84.0 110.7L84.7 110.2L85.5 109.8L86.2 109.5L87.0 109.2L87.7 109.0L88.5 108.9L89.2 108.9L90.0 108.9L90.7 109.0L91.5 109.2L92.2 109.4L93.0 109.7L93.7 110.1L94.5 110.6L95.2 111.1L96.0 111.6L96.7 112.2L97.5 112.9L98.2 113.6L99.0 114.3L99.7 115.1L100.5 115.8L101.2 116.6L102.0 117.4L102.7 118.2L103.5 119.1L104.2 119.9L105.0 120.6L105.7 121.4L106.5 122.2L107.2 122.9L108.0 123.6L108.7 124.3L109.5 125.0L110.2 125.6L111.0 126.2L111.7 126.7L112.5 127.3L113.2 127.8L114.0 128.2L114.7 128.6L115.5 129.0L116.2 129.4L117.0 129.7L117.7 130.1L118.5 130.3L119.2 130.6L120.0 130.8L120.7 131.0L121.5 131.2L122.2 131.4L123.0 131.5L123.7 131.7L124.5 131.8L125.2 131.9L126.0 132.0L126.7 132.1L127.5 132.2L128.2 132.2L128.9 132.3L129.7 132.3L130.4 132.4L131.2 132.4L131.9 132.5L132.7 132.5L133.4 132.5L134.2 132.5L134.9 132.6L135.7 132.6L136.4 132.6L137.2 132.6L137.9 132.6L138.7 132.7L139.4 132.7L140.2 132.7L140.9 132.7L141.7 132.7L142.4 132.7L143.2 132.7L143.9 132.8L144.7 132.8L145.4 132.8L146.2 132.8L146.9 132.8L147.7 132.8L148.4 132.8L149.2 132.8L149.9 132.9L150.7 132.9L151.4 132.9L152.2 132.9L152.9 132.9L153.7 132.9L154.4 132.9L155.2 132.9L155.9 132.9L156.7 133.0L157.4 133.0L158.2 133.0L158.9 133.0L159.7 133.0L160.4 133.0L161.2 133.0L161.9 133.0L162.7 133.0L163.4 133.1L164.2 133.1L164.9 133.1L165.7 133.1L166.4 133.1L167.2 133.1L167.9 133.1L168.7 133.1L169.4 133.1L170.2 133.2L170.9 133.2L171.7 133.2L172.4 133.2L173.2 133.2L173.9 133.2L174.7 133.2L175.4 133.2L176.2 133.2L176.9 133.3L177.7 133.3L178.4 133.3L179.2 133.3L179.9 133.3L180.7 133.3L181.4 133.3L182.2 133.3L182.9 133.3L183.7 133.4L184.4 133.4L185.2 133.4L185.9 133.4" fill="none" stroke="#1e2da6" stroke-width="1.5" stroke-linejoin="round" />
<path d="M26.2 129.8L26.9 129.7L27.7 129.5L28.4 129.3L29.2 129.1L29.9 128.8L30.7 128.6L31.4 128.3L32.2 128.1L33.0 127.8L33.7 127.5L34.5 127.3L35.2 127.0L36.0 126.8L36.7 126.5L37.5 126.3L38.2 126.2L39.0 126.0L39.7 125.9L40.5 125.8L41.2 125.8L42.0 125.7L42.7 125.8L43.5 125.8L44.2 125.9L45.0 126.1L45.7 126.2L46.5 126.4L47.2 126.7L48.0 126.9L48.7 127.2L49.5 127.5L50.2 127.7L51.0 128.0L51.7 128.3L52.5 128.6L53.2 128.9L54.0 129.1L54.7 129.4L55.5 129.6L56.2 129.9L57.0 130.1L57.7 130.3L58.5 130.5L59.2 130.6L60.0 130.8L60.7 130.9L61.5 131.0L62.2 131.1L63.0 131.2L63.7 131.3L64.5 131.3L65.2 131.4L66.0 131.4L66.7 131.5L67.5 131.5L68.2 131.6L69.0 131.6L69.7 131.6L70.5 131.6L71.2 131.7L72.0 131.7L72.7 131.7L73.5 131.7L74.2 131.7L75.0 131.7L75.7 131.7L76.5 131.8L77.2 131.8L78.0 131.8L78.7 131.8L79.5 131.8L80.2 131.8L81.0 131.8L81.7 131.8L82.5 131.8L83.2 131.9L84.0 131.9L84.7 131.9L85.5 131.9L86.2 131.9L87.0 131.9L87.7 131.9L88.5 131.9L89.2 131.9L90.0 132.0L90.7 132.0L91.5 132.0L92.2 132.0L93.0 132.0L93.7 132.0L94.5 132.0L95.2 132.0L96.0 132.1L96.7 132.1L97.5 132.1L98.2 132.1L99.0 132.1L99.7 132.1L100.5 132.1L101.2 132.1L102.0 132.1L102.7 132.2L103.5 132.2L104.2 132.2L105.0 132.2L105.7 132.2L106.5 132.2L107.2 132.2L108.0 132.2L108.7 132.2L109.5 132.3L110.2 132.3L111.0 132.3L111.7 132.3L112.5 132.3L113.2 132.3L114.0 132.3L114.7 132.3L115.5 132.3L116.2 132.4L117.0 132.4L117.7 132.4L118.5 132.4L119.2 132.4L120.0 132.4L120.7 132.4L121.5 132.4L122.2 132.4L123.0 132.5L123.7 132.5L124.5 132.5L125.2 132.5L126.0 132.5L126.7 132.5L127.5 132.5L128.2 132.5L128.9 132.5L129.7 132.6L130.4 132.6L131.2 132.6L131.9 132.6L132.7 132.6L133.4 132.6L134.2 132.6L134.9 132.6L135.7 132.6L136.4 132.7L137.2 132.7L137.9 132.7L138.7 132.7L139.4 132.7L140.2 132.7L140.9 132.7L141.7 132.7L142.4 132.7L143.2 132.8L143.9 132.8L144.7 132.8L145.4 132.8L146.2 132.8L146.9 132.8L147.7 132.8L148.4 132.8L149.2 132.8L149.9 132.9L150.7 132.9L151.4 132.9L152.2 132.9L152.9 132.9L153.7 132.9L154.4 132.9L155.2 132.9L155.9 132.9L156.7 133.0L157.4 133.0L158.2 133.0L158.9 133.0L159.7 133.0L160.4 133.0L161.2 133.0L161.9 133.0L162.7 133.0L163.4 133.1L164.2 133.1L164.9 133.1L165.7 133.1L166.4 133.1L167.2 133.1L167.9 133.1L168.7 133.1L169.4 133.1L170.2 133.2L170.9 133.2L171.7 133.2L172.4 133.2L173.2 133.2L173.9 133.2L174.7 133.2L175.4 133.2L176.2 133.2L176.9 133.3L177.7 133.3L178.4 133.3L179.2 133.3L179.9 133.3L180.7 133.3L181.4 133.3L182.2 133.3L182.9 133.3L183.7 133.4L184.4 133.4L185.2 133.4L185.9 133.4" fill="none" stroke="#b585e8" stroke-width="1.5" stroke-linejoin="round" />
<path d="M35.2 127.0L36.0 126.7L36.7 126.5L37.5 126.3L38.2 126.1L39.0 125.9L39.7 125.8L40.5 125.7L41.2 125.6L42.0 125.5L42.7 125.5L43.5 125.6L44.2 125.6L45.0 125.7L45.7 125.8L46.5 126.0L47.2 126.1L48.0 126.3L48.7 126.5L49.5 126.7L50.2 126.8L51.0 127.0L51.7 127.1L52.5 127.3L53.2 127.4M57.7 127.4L58.5 127.3L59.2 127.1L60.0 126.9L60.7 126.6L61.5 126.3L62.2 126.0L63.0 125.6L63.7 125.1L64.5 124.7L65.2 124.1L66.0 123.6L66.7 123.0L67.5 122.3L68.2 121.7L69.0 121.0L69.7 120.2L70.5 119.5L71.2 118.7L72.0 117.8L72.7 117.0L73.5 116.1L74.2 115.3L75.0 114.4L75.7 113.5L76.5 112.6L77.2 111.6L78.0 110.7L78.7 109.8L79.5 108.9L80.2 108.1L81.0 107.2L81.7 106.3L82.5 105.5L83.2 104.7L84.0 104.0L84.7 103.2L85.5 102.5L86.2 101.9L87.0 101.2L87.7 100.6L88.5 100.1L89.2 99.6L90.0 99.1L90.7 98.7L91.5 98.3L92.2 98.0L93.0 97.7L93.7 97.4L94.5 97.2L95.2 97.0L96.0 96.9L96.7 96.8L97.5 96.8L98.2 96.8L99.0 96.8L99.7 96.9L100.5 97.0L101.2 97.1L102.0 97.2L102.7 97.4L103.5 97.6L104.2 97.7L105.0 97.9L105.7 98.1L106.5 98.3L107.2 98.4L108.0 98.6L108.7 98.7L109.5 98.7L110.2 98.8L111.0 98.8L111.7 98.8L112.5 98.7L113.2 98.6L114.0 98.5L114.7 98.4L115.5 98.3L116.2 98.2L117.0 98.1L117.7 98.1L118.5 98.2L119.2 98.3L120.0 98.5L120.7 98.7L121.5 99.1L122.2 99.7L123.0 100.3L123.7 101.1L124.5 101.9L125.2 102.9L126.0 104.0L126.7 105.2L127.5 106.5L128.2 107.8L128.9 109.2L129.7 110.6L130.4 112.0L131.2 113.5L131.9 114.9L132.7 116.2L133.4 117.6L134.2 118.9L134.9 120.1L135.7 121.3L136.4 122.4L137.2 123.4L137.9 124.4L138.7 125.3L139.4 126.2L140.2 127.0L140.9 127.7L141.7 128.3" fill="none" stroke="#8e8e8e" stroke-width="1.5" stroke-linejoin="round"/>
<text x="29.2" y="88.9" font-size="8.2" fill="#1c1c1c" font-weight="bold" text-anchor="start" stroke="#1c1c1c" stroke-width="0.25" >Pt-Co@NC-800-10%</text>
<path d="M26.3 186.2L27.3 184.6L28.3 182.6L29.3 184.6L30.3 189.5L31.3 186.7L32.3 178.2L33.3 183.2L34.3 181.4L35.3 184.6L36.3 182.6L37.3 187.0L38.3 184.6L39.3 184.3L40.3 182.5L41.3 181.8L42.3 182.4L43.3 184.3L44.3 182.4L45.3 180.3L46.3 183.6L47.3 181.1L48.3 180.3L49.3 178.6L50.3 178.9L51.3 178.6L52.3 174.4L53.3 182.0L54.3 180.9L55.3 179.1L56.3 181.8L57.3 180.3L58.3 180.1L59.3 173.8L60.3 178.6L61.3 180.2L62.3 182.5L63.3 182.9L64.3 181.8L65.3 175.9L66.3 173.4L67.3 179.2L68.3 177.6L69.3 179.2L70.3 176.3L71.3 176.5L72.3 172.1L73.3 175.6L74.3 172.9L75.3 173.7L76.3 173.0L77.3 170.7L78.3 170.6L79.3 168.7L80.3 169.3L81.3 167.5L82.3 164.0L83.3 162.7L84.3 166.7L85.3 161.5L86.3 162.8L87.3 160.4L88.3 157.4L89.3 156.1L90.3 157.2L91.3 156.8L92.3 157.1L93.3 152.5L94.3 153.6L95.3 154.5L96.3 158.1L97.3 149.4L98.3 155.6L99.3 153.6L100.3 156.0L101.3 154.2L102.3 156.3L103.3 159.2L104.3 156.7L105.3 157.1L106.3 157.1L107.3 154.7L108.3 157.7L109.3 156.1L110.3 154.8L111.3 156.6L112.3 156.3L113.3 158.6L114.3 156.9L115.3 155.9L116.3 160.3L117.3 159.2L118.3 159.7L119.3 158.0L120.3 156.2L121.3 155.3L122.3 155.4L123.3 158.1L124.3 156.3L125.3 153.1L126.3 156.8L127.3 154.6L128.3 159.1L129.3 157.4L130.3 158.9L131.3 163.7L132.3 165.3L133.3 163.9L134.3 171.4L135.3 176.6L136.3 170.7L137.3 180.1L138.3 176.5L139.3 178.7L140.3 181.0L141.3 179.6L142.3 186.9L143.3 186.2L144.3 184.3L145.3 186.2L146.3 184.1L147.3 187.1L148.3 190.4L149.3 184.9L150.3 188.0L151.3 189.5L152.3 191.6L153.3 192.4L154.3 188.6L155.3 188.0L156.3 190.7L157.3 189.0L158.3 189.2L159.3 192.3L160.3 193.7L161.3 190.6L162.3 189.7L163.3 191.4L164.3 186.0L165.3 190.2L166.3 187.9L167.3 195.5L168.3 191.9L169.3 190.7L170.3 190.0L171.3 184.9L172.3 192.0L173.3 194.1L174.3 188.9L175.3 192.1L176.3 192.2L177.3 187.3L178.3 192.8L179.3 193.7L180.3 191.3L181.3 190.7L182.3 192.6L183.3 187.5L184.3 191.1L185.3 193.3" fill="none" stroke="#cad6e2" stroke-width="0.7" stroke-linejoin="round" />
<path d="M26.2 184.4L26.9 184.3L27.7 184.3L28.4 184.2L29.2 184.1L29.9 184.0L30.7 183.9L31.4 183.8L32.2 183.7L33.0 183.6L33.7 183.5L34.5 183.3L35.2 183.2L36.0 183.1L36.7 182.9L37.5 182.7L38.2 182.6L39.0 182.4L39.7 182.3L40.5 182.1L41.2 181.9L42.0 181.8L42.7 181.6L43.5 181.4L44.2 181.3L45.0 181.1L45.7 180.9L46.5 180.8L47.2 180.7L48.0 180.5L48.7 180.4L49.5 180.3L50.2 180.2L51.0 180.0L51.7 179.9L52.5 179.8L53.2 179.8L54.0 179.7L54.7 179.6L55.5 179.5L56.2 179.5L57.0 179.4L57.7 179.4L58.5 179.3L59.2 179.2L60.0 179.2L60.7 179.1L61.5 179.1L62.2 179.0L63.0 178.9L63.7 178.8L64.5 178.6L65.2 178.5L66.0 178.3L66.7 178.1L67.5 177.9L68.2 177.6L69.0 177.3L69.7 176.9L70.5 176.5L71.2 176.1L72.0 175.6L72.7 175.1L73.5 174.5L74.2 173.9L75.0 173.3L75.7 172.6L76.5 171.8L77.2 171.1L78.0 170.3L78.7 169.4L79.5 168.6L80.2 167.7L81.0 166.8L81.7 165.9L82.5 165.0L83.2 164.1L84.0 163.2L84.7 162.4L85.5 161.5L86.2 160.7L87.0 159.9L87.7 159.2L88.5 158.5L89.2 157.8L90.0 157.2L90.7 156.7L91.5 156.2L92.2 155.8L93.0 155.4L93.7 155.1L94.5 154.9L95.2 154.7L96.0 154.6L96.7 154.6L97.5 154.6L98.2 154.6L99.0 154.7L99.7 154.9L100.5 155.0L101.2 155.2L102.0 155.4L102.7 155.6L103.5 155.8L104.2 155.9L105.0 156.1L105.7 156.2L106.5 156.3L107.2 156.4L108.0 156.4L108.7 156.5L109.5 156.6L110.2 156.6L111.0 156.7L111.7 156.7L112.5 156.8L113.2 156.9L114.0 157.0L114.7 157.0L115.5 157.1L116.2 157.1L117.0 157.1L117.7 157.0L118.5 156.9L119.2 156.7L120.0 156.5L120.7 156.4L121.5 156.2L122.2 156.1L123.0 156.0L123.7 156.0L124.5 156.1L125.2 156.3L126.0 156.7L126.7 157.2L127.5 157.8L128.2 158.6L128.9 159.6L129.7 160.7L130.4 161.9L131.2 163.3L131.9 164.7L132.7 166.3L133.4 167.9L134.2 169.5L134.9 171.1L135.7 172.7L136.4 174.3L137.2 175.9L137.9 177.3L138.7 178.7L139.4 180.0L140.2 181.2L140.9 182.3L141.7 183.3L142.4 184.2L143.2 185.0L143.9 185.7L144.7 186.3L145.4 186.9L146.2 187.3L146.9 187.7L147.7 188.1L148.4 188.4L149.2 188.6L149.9 188.8L150.7 189.0" fill="none" stroke="#8e8e8e" stroke-width="1.5" stroke-linejoin="round"/>
<path d="M26.2 185.0L26.9 185.1L27.7 185.1L28.4 185.1L29.2 185.1L29.9 185.2L30.7 185.2L31.4 185.2L32.2 185.2L33.0 185.3L33.7 185.3L34.5 185.3L35.2 185.4L36.0 185.4L36.7 185.4L37.5 185.4L38.2 185.5L39.0 185.5L39.7 185.5L40.5 185.6L41.2 185.6L42.0 185.6L42.7 185.6L43.5 185.7L44.2 185.7L45.0 185.7L45.7 185.8L46.5 185.8L47.2 185.8L48.0 185.8L48.7 185.9L49.5 185.9L50.2 185.9L51.0 185.9L51.7 186.0L52.5 186.0L53.2 186.0L54.0 186.1L54.7 186.1L55.5 186.1L56.2 186.1L57.0 186.2L57.7 186.2L58.5 186.2L59.2 186.3L60.0 186.3L60.7 186.3L61.5 186.3L62.2 186.4L63.0 186.4L63.7 186.4L64.5 186.4L65.2 186.5L66.0 186.5L66.7 186.5L67.5 186.5L68.2 186.6L69.0 186.6L69.7 186.6L70.5 186.6L71.2 186.6L72.0 186.6L72.7 186.6L73.5 186.6L74.2 186.6L75.0 186.6L75.7 186.6L76.5 186.6L77.2 186.6L78.0 186.5L78.7 186.5L79.5 186.4L80.2 186.4L81.0 186.3L81.7 186.2L82.5 186.1L83.2 186.0L84.0 185.9L84.7 185.7L85.5 185.5L86.2 185.3L87.0 185.1L87.7 184.9L88.5 184.6L89.2 184.3L90.0 184.0L90.7 183.7L91.5 183.3L92.2 182.9L93.0 182.5L93.7 182.1L94.5 181.6L95.2 181.1L96.0 180.6L96.7 180.1L97.5 179.5L98.2 179.0L99.0 178.4L99.7 177.8L100.5 177.2L101.2 176.6L102.0 176.0L102.7 175.5L103.5 174.9L104.2 174.3L105.0 173.8L105.7 173.3L106.5 172.8L107.2 172.3L108.0 171.9L108.7 171.6L109.5 171.2L110.2 171.0L111.0 170.7L111.7 170.6L112.5 170.4L113.2 170.4L114.0 170.4L114.7 170.5L115.5 170.6L116.2 170.8L117.0 171.0L117.7 171.3L118.5 171.6L119.2 172.0L120.0 172.4L120.7 172.9L121.5 173.4L122.2 174.0L123.0 174.5L123.7 175.1L124.5 175.7L125.2 176.4L126.0 177.0L126.7 177.7L127.5 178.3L128.2 179.0L128.9 179.6L129.7 180.2L130.4 180.9L131.2 181.5L131.9 182.0L132.7 182.6L133.4 183.1L134.2 183.7L134.9 184.2L135.7 184.6L136.4 185.1L137.2 185.5L137.9 185.9L138.7 186.2L139.4 186.6L140.2 186.9L140.9 187.2L141.7 187.4L142.4 187.7L143.2 187.9L143.9 188.1L144.7 188.3L145.4 188.5L146.2 188.6L146.9 188.8L147.7 188.9L148.4 189.0L149.2 189.1L149.9 189.2L150.7 189.3L151.4 189.4L152.2 189.5L152.9 189.5L153.7 189.6L154.4 189.7L155.2 189.7L155.9 189.8L156.7 189.8L157.4 189.8L158.2 189.9L158.9 189.9L159.7 190.0L160.4 190.0L161.2 190.0L161.9 190.1L162.7 190.1L163.4 190.1L164.2 190.2L164.9 190.2L165.7 190.2L166.4 190.2L167.2 190.3L167.9 190.3L168.7 190.3L169.4 190.4L170.2 190.4L170.9 190.4L171.7 190.4L172.4 190.5L173.2 190.5L173.9 190.5L174.7 190.6L175.4 190.6L176.2 190.6L176.9 190.6L177.7 190.7L178.4 190.7L179.2 190.7L179.9 190.8L180.7 190.8L181.4 190.8L182.2 190.8L182.9 190.9L183.7 190.9L184.4 190.9L185.2 191.0L185.9 191.0" fill="none" stroke="#3ee03a" stroke-width="1.5" stroke-linejoin="round" />
<path d="M26.2 185.0L26.9 185.1L27.7 185.1L28.4 185.1L29.2 185.1L29.9 185.2L30.7 185.2L31.4 185.2L32.2 185.2L33.0 185.3L33.7 185.3L34.5 185.3L35.2 185.4L36.0 185.4L36.7 185.4L37.5 185.4L38.2 185.5L39.0 185.5L39.7 185.5L40.5 185.6L41.2 185.6L42.0 185.6L42.7 185.6L43.5 185.7L44.2 185.7L45.0 185.7L45.7 185.8L46.5 185.8L47.2 185.8L48.0 185.8L48.7 185.9L49.5 185.9L50.2 185.9L51.0 185.9L51.7 186.0L52.5 186.0L53.2 186.0L54.0 186.1L54.7 186.1L55.5 186.1L56.2 186.1L57.0 186.2L57.7 186.2L58.5 186.2L59.2 186.3L60.0 186.3L60.7 186.3L61.5 186.3L62.2 186.4L63.0 186.4L63.7 186.4L64.5 186.5L65.2 186.5L66.0 186.5L66.7 186.5L67.5 186.6L68.2 186.6L69.0 186.6L69.7 186.6L70.5 186.7L71.2 186.7L72.0 186.7L72.7 186.8L73.5 186.8L74.2 186.8L75.0 186.8L75.7 186.9L76.5 186.9L77.2 186.9L78.0 187.0L78.7 187.0L79.5 187.0L80.2 187.0L81.0 187.1L81.7 187.1L82.5 187.1L83.2 187.2L84.0 187.2L84.7 187.2L85.5 187.2L86.2 187.3L87.0 187.3L87.7 187.3L88.5 187.3L89.2 187.4L90.0 187.4L90.7 187.4L91.5 187.5L92.2 187.5L93.0 187.5L93.7 187.5L94.5 187.6L95.2 187.6L96.0 187.6L96.7 187.6L97.5 187.7L98.2 187.7L99.0 187.7L99.7 187.7L100.5 187.7L101.2 187.7L102.0 187.7L102.7 187.7L103.5 187.7L104.2 187.6L105.0 187.6L105.7 187.5L106.5 187.4L107.2 187.2L108.0 187.1L108.7 186.8L109.5 186.6L110.2 186.2L111.0 185.8L111.7 185.4L112.5 184.8L113.2 184.2L114.0 183.5L114.7 182.8L115.5 181.9L116.2 181.0L117.0 180.0L117.7 179.0L118.5 177.9L119.2 176.8L120.0 175.7L120.7 174.6L121.5 173.5L122.2 172.5L123.0 171.6L123.7 170.8L124.5 170.1L125.2 169.5L126.0 169.1L126.7 168.9L127.5 168.8L128.2 168.9L128.9 169.2L129.7 169.6L130.4 170.2L131.2 171.0L131.9 171.8L132.7 172.8L133.4 173.9L134.2 175.0L134.9 176.1L135.7 177.3L136.4 178.4L137.2 179.6L137.9 180.7L138.7 181.7L139.4 182.7L140.2 183.6L140.9 184.4L141.7 185.2L142.4 185.9L143.2 186.5L143.9 187.0L144.7 187.5L145.4 187.9L146.2 188.2L146.9 188.5L147.7 188.7L148.4 188.9L149.2 189.1L149.9 189.2L150.7 189.4L151.4 189.5L152.2 189.6L152.9 189.6L153.7 189.7L154.4 189.7L155.2 189.8L155.9 189.8L156.7 189.9L157.4 189.9L158.2 189.9L158.9 190.0L159.7 190.0L160.4 190.0L161.2 190.1L161.9 190.1L162.7 190.1L163.4 190.1L164.2 190.2L164.9 190.2L165.7 190.2L166.4 190.3L167.2 190.3L167.9 190.3L168.7 190.3L169.4 190.4L170.2 190.4L170.9 190.4L171.7 190.4L172.4 190.5L173.2 190.5L173.9 190.5L174.7 190.6L175.4 190.6L176.2 190.6L176.9 190.6L177.7 190.7L178.4 190.7L179.2 190.7L179.9 190.8L180.7 190.8L181.4 190.8L182.2 190.8L182.9 190.9L183.7 190.9L184.4 190.9L185.2 191.0L185.9 191.0" fill="none" stroke="#e2457a" stroke-width="1.5" stroke-linejoin="round" />
<path d="M26.2 185.0L26.9 185.1L27.7 185.1L28.4 185.1L29.2 185.1L29.9 185.2L30.7 185.2L31.4 185.2L32.2 185.2L33.0 185.3L33.7 185.3L34.5 185.3L35.2 185.4L36.0 185.4L36.7 185.4L37.5 185.4L38.2 185.5L39.0 185.5L39.7 185.5L40.5 185.6L41.2 185.6L42.0 185.6L42.7 185.6L43.5 185.7L44.2 185.7L45.0 185.7L45.7 185.7L46.5 185.8L47.2 185.8L48.0 185.8L48.7 185.8L49.5 185.9L50.2 185.9L51.0 185.9L51.7 185.9L52.5 185.9L53.2 185.9L54.0 185.9L54.7 185.9L55.5 185.9L56.2 185.9L57.0 185.9L57.7 185.8L58.5 185.8L59.2 185.7L60.0 185.6L60.7 185.6L61.5 185.5L62.2 185.3L63.0 185.2L63.7 185.0L64.5 184.8L65.2 184.6L66.0 184.4L66.7 184.1L67.5 183.8L68.2 183.4L69.0 183.0L69.7 182.6L70.5 182.1L71.2 181.6L72.0 181.0L72.7 180.4L73.5 179.8L74.2 179.1L75.0 178.4L75.7 177.6L76.5 176.8L77.2 176.0L78.0 175.1L78.7 174.2L79.5 173.3L80.2 172.4L81.0 171.5L81.7 170.6L82.5 169.6L83.2 168.7L84.0 167.9L84.7 167.0L85.5 166.2L86.2 165.4L87.0 164.7L87.7 164.1L88.5 163.5L89.2 163.0L90.0 162.6L90.7 162.3L91.5 162.1L92.2 162.0L93.0 161.9L93.7 162.0L94.5 162.1L95.2 162.4L96.0 162.7L96.7 163.1L97.5 163.7L98.2 164.3L99.0 164.9L99.7 165.7L100.5 166.4L101.2 167.3L102.0 168.2L102.7 169.1L103.5 170.0L104.2 171.0L105.0 172.0L105.7 173.0L106.5 173.9L107.2 174.9L108.0 175.9L108.7 176.8L109.5 177.7L110.2 178.6L111.0 179.4L111.7 180.2L112.5 181.0L113.2 181.7L114.0 182.4L114.7 183.0L115.5 183.6L116.2 184.1L117.0 184.6L117.7 185.1L118.5 185.5L119.2 185.9L120.0 186.2L120.7 186.6L121.5 186.9L122.2 187.1L123.0 187.3L123.7 187.6L124.5 187.7L125.2 187.9L126.0 188.1L126.7 188.2L127.5 188.3L128.2 188.4L128.9 188.5L129.7 188.6L130.4 188.7L131.2 188.7L131.9 188.8L132.7 188.9L133.4 188.9L134.2 189.0L134.9 189.0L135.7 189.0L136.4 189.1L137.2 189.1L137.9 189.2L138.7 189.2L139.4 189.2L140.2 189.3L140.9 189.3L141.7 189.3L142.4 189.4L143.2 189.4L143.9 189.4L144.7 189.4L145.4 189.5L146.2 189.5L146.9 189.5L147.7 189.6L148.4 189.6L149.2 189.6L149.9 189.6L150.7 189.7L151.4 189.7L152.2 189.7L152.9 189.7L153.7 189.8L154.4 189.8L155.2 189.8L155.9 189.9L156.7 189.9L157.4 189.9L158.2 189.9L158.9 190.0L159.7 190.0L160.4 190.0L161.2 190.1L161.9 190.1L162.7 190.1L163.4 190.1L164.2 190.2L164.9 190.2L165.7 190.2L166.4 190.3L167.2 190.3L167.9 190.3L168.7 190.3L169.4 190.4L170.2 190.4L170.9 190.4L171.7 190.4L172.4 190.5L173.2 190.5L173.9 190.5L174.7 190.6L175.4 190.6L176.2 190.6L176.9 190.6L177.7 190.7L178.4 190.7L179.2 190.7L179.9 190.8L180.7 190.8L181.4 190.8L182.2 190.8L182.9 190.9L183.7 190.9L184.4 190.9L185.2 191.0L185.9 191.0" fill="none" stroke="#1e2da6" stroke-width="1.5" stroke-linejoin="round" />
<path d="M26.2 184.4L26.9 184.3L27.7 184.3L28.4 184.2L29.2 184.1L29.9 184.1L30.7 184.0L31.4 183.9L32.2 183.8L33.0 183.6L33.7 183.5L34.5 183.4L35.2 183.3L36.0 183.1L36.7 183.0L37.5 182.8L38.2 182.7L39.0 182.6L39.7 182.4L40.5 182.3L41.2 182.1L42.0 182.0L42.7 181.9L43.5 181.8L44.2 181.7L45.0 181.6L45.7 181.5L46.5 181.5L47.2 181.4L48.0 181.4L48.7 181.4L49.5 181.4L50.2 181.4L51.0 181.5L51.7 181.5L52.5 181.6L53.2 181.7L54.0 181.8L54.7 181.9L55.5 182.1L56.2 182.2L57.0 182.4L57.7 182.5L58.5 182.7L59.2 182.9L60.0 183.1L60.7 183.3L61.5 183.5L62.2 183.7L63.0 183.9L63.7 184.1L64.5 184.3L65.2 184.5L66.0 184.6L66.7 184.8L67.5 185.0L68.2 185.2L69.0 185.3L69.7 185.5L70.5 185.6L71.2 185.8L72.0 185.9L72.7 186.0L73.5 186.1L74.2 186.2L75.0 186.3L75.7 186.4L76.5 186.5L77.2 186.6L78.0 186.7L78.7 186.7L79.5 186.8L80.2 186.8L81.0 186.9L81.7 187.0L82.5 187.0L83.2 187.1L84.0 187.1L84.7 187.1L85.5 187.2L86.2 187.2L87.0 187.3L87.7 187.3L88.5 187.3L89.2 187.4L90.0 187.4L90.7 187.4L91.5 187.4L92.2 187.5L93.0 187.5L93.7 187.5L94.5 187.6L95.2 187.6L96.0 187.6L96.7 187.7L97.5 187.7L98.2 187.7L99.0 187.7L99.7 187.8L100.5 187.8L101.2 187.8L102.0 187.8L102.7 187.9L103.5 187.9L104.2 187.9L105.0 188.0L105.7 188.0L106.5 188.0L107.2 188.0L108.0 188.1L108.7 188.1L109.5 188.1L110.2 188.2L111.0 188.2L111.7 188.2L112.5 188.2L113.2 188.3L114.0 188.3L114.7 188.3L115.5 188.4L116.2 188.4L117.0 188.4L117.7 188.4L118.5 188.5L119.2 188.5L120.0 188.5L120.7 188.5L121.5 188.6L122.2 188.6L123.0 188.6L123.7 188.7L124.5 188.7L125.2 188.7L126.0 188.7L126.7 188.8L127.5 188.8L128.2 188.8L128.9 188.9L129.7 188.9L130.4 188.9L131.2 188.9L131.9 189.0L132.7 189.0L133.4 189.0L134.2 189.1L134.9 189.1L135.7 189.1L136.4 189.1L137.2 189.2L137.9 189.2L138.7 189.2L139.4 189.2L140.2 189.3L140.9 189.3L141.7 189.3L142.4 189.4L143.2 189.4L143.9 189.4L144.7 189.4L145.4 189.5L146.2 189.5L146.9 189.5L147.7 189.6L148.4 189.6L149.2 189.6L149.9 189.6L150.7 189.7L151.4 189.7L152.2 189.7L152.9 189.7L153.7 189.8L154.4 189.8L155.2 189.8L155.9 189.9L156.7 189.9L157.4 189.9L158.2 189.9L158.9 190.0L159.7 190.0L160.4 190.0L161.2 190.1L161.9 190.1L162.7 190.1L163.4 190.1L164.2 190.2L164.9 190.2L165.7 190.2L166.4 190.3L167.2 190.3L167.9 190.3L168.7 190.3L169.4 190.4L170.2 190.4L170.9 190.4L171.7 190.4L172.4 190.5L173.2 190.5L173.9 190.5L174.7 190.6L175.4 190.6L176.2 190.6L176.9 190.6L177.7 190.7L178.4 190.7L179.2 190.7L179.9 190.8L180.7 190.8L181.4 190.8L182.2 190.8L182.9 190.9L183.7 190.9L184.4 190.9L185.2 191.0L185.9 191.0" fill="none" stroke="#b585e8" stroke-width="1.5" stroke-linejoin="round" />
<path d="M42.7 181.6L43.5 181.4L44.2 181.3L45.0 181.1L45.7 180.9L46.5 180.8L47.2 180.7L48.0 180.5L48.7 180.4L49.5 180.3L50.2 180.2L51.0 180.0L51.7 179.9L52.5 179.8L53.2 179.8L54.0 179.7L54.7 179.6L55.5 179.5L56.2 179.5L57.0 179.4L57.7 179.4L58.5 179.3L59.2 179.2L60.0 179.2L60.7 179.1L61.5 179.1L62.2 179.0L63.0 178.9L63.7 178.8L64.5 178.6L65.2 178.5L66.0 178.3L66.7 178.1L67.5 177.9L68.2 177.6L69.0 177.3L69.7 176.9L70.5 176.5L71.2 176.1L72.0 175.6L72.7 175.1L73.5 174.5L74.2 173.9L75.0 173.3L75.7 172.6L76.5 171.8L77.2 171.1L78.0 170.3L78.7 169.4L79.5 168.6L80.2 167.7L81.0 166.8L81.7 165.9L82.5 165.0L83.2 164.1L84.0 163.2L84.7 162.4L85.5 161.5L86.2 160.7L87.0 159.9L87.7 159.2L88.5 158.5L89.2 157.8L90.0 157.2L90.7 156.7L91.5 156.2L92.2 155.8L93.0 155.4L93.7 155.1L94.5 154.9L95.2 154.7L96.0 154.6L96.7 154.6L97.5 154.6L98.2 154.6L99.0 154.7L99.7 154.9L100.5 155.0L101.2 155.2L102.0 155.4L102.7 155.6L103.5 155.8L104.2 155.9L105.0 156.1L105.7 156.2L106.5 156.3L107.2 156.4L108.0 156.4L108.7 156.5L109.5 156.6L110.2 156.6L111.0 156.7L111.7 156.7L112.5 156.8L113.2 156.9L114.0 157.0L114.7 157.0L115.5 157.1L116.2 157.1L117.0 157.1L117.7 157.0L118.5 156.9L119.2 156.7L120.0 156.5L120.7 156.4L121.5 156.2L122.2 156.1L123.0 156.0L123.7 156.0L124.5 156.1L125.2 156.3L126.0 156.7L126.7 157.2L127.5 157.8L128.2 158.6L128.9 159.6L129.7 160.7L130.4 161.9L131.2 163.3L131.9 164.7L132.7 166.3L133.4 167.9L134.2 169.5L134.9 171.1L135.7 172.7L136.4 174.3L137.2 175.9L137.9 177.3L138.7 178.7L139.4 180.0L140.2 181.2L140.9 182.3L141.7 183.3L142.4 184.2L143.2 185.0" fill="none" stroke="#8e8e8e" stroke-width="1.5" stroke-linejoin="round"/>
<text x="29.2" y="147.8" font-size="8.2" fill="#1c1c1c" font-weight="bold" text-anchor="start" stroke="#1c1c1c" stroke-width="0.25" >Pt-Zn@NC-800-10%</text>
<line x1="28.2" y1="24" x2="47.5" y2="24" stroke="#e2457a" stroke-width="1.5"/>
<text x="49.0" y="27.1" font-size="8.3" fill="#222" font-weight="normal" text-anchor="start" >Pyridinic N</text>
<line x1="28.2" y1="34.6" x2="47.5" y2="34.6" stroke="#3ee03a" stroke-width="1.5"/>
<text x="49.0" y="37.7" font-size="8.3" fill="#222" font-weight="normal" text-anchor="start" >Pyrrolic N</text>
<line x1="123" y1="24" x2="142.3" y2="24" stroke="#1e2da6" stroke-width="1.5"/>
<text x="143.8" y="27.1" font-size="8.3" fill="#222" font-weight="normal" text-anchor="start" >Graphite N</text>
<line x1="123" y1="34.6" x2="142.3" y2="34.6" stroke="#b585e8" stroke-width="1.5"/>
<text x="143.8" y="37.7" font-size="8.3" fill="#222" font-weight="normal" text-anchor="start" >Oxidized N</text>
<rect x="219.5" y="4.5" width="158.00" height="197.00" fill="none" stroke="#141414" stroke-width="1.3"/>
<line x1="219.50" y1="201.5" x2="219.50" y2="204.5" stroke="#141414" stroke-width="1.1"/>
<line x1="245.50" y1="201.5" x2="245.50" y2="204.5" stroke="#141414" stroke-width="1.1"/>
<line x1="272.50" y1="201.5" x2="272.50" y2="204.5" stroke="#141414" stroke-width="1.1"/>
<line x1="298.50" y1="201.5" x2="298.50" y2="204.5" stroke="#141414" stroke-width="1.1"/>
<line x1="324.50" y1="201.5" x2="324.50" y2="204.5" stroke="#141414" stroke-width="1.1"/>
<line x1="351.50" y1="201.5" x2="351.50" y2="204.5" stroke="#141414" stroke-width="1.1"/>
<line x1="377.50" y1="201.5" x2="377.50" y2="204.5" stroke="#141414" stroke-width="1.1"/>
<line x1="232.50" y1="201.5" x2="232.50" y2="203.5" stroke="#141414" stroke-width="1.1"/>
<line x1="259.50" y1="201.5" x2="259.50" y2="203.5" stroke="#141414" stroke-width="1.1"/>
<line x1="285.50" y1="201.5" x2="285.50" y2="203.5" stroke="#141414" stroke-width="1.1"/>
<line x1="311.50" y1="201.5" x2="311.50" y2="203.5" stroke="#141414" stroke-width="1.1"/>
<line x1="338.50" y1="201.5" x2="338.50" y2="203.5" stroke="#141414" stroke-width="1.1"/>
<line x1="364.50" y1="201.5" x2="364.50" y2="203.5" stroke="#141414" stroke-width="1.1"/>
<text x="197.6" y="14.5" font-size="15" fill="#222" font-weight="normal" text-anchor="start" >b)</text>
<text x="219.5" y="213.7" font-size="10" fill="#1e1e1e" font-weight="normal" text-anchor="middle" stroke="#1e1e1e" stroke-width="0.2" >80</text>
<text x="245.83333333333334" y="213.7" font-size="10" fill="#1e1e1e" font-weight="normal" text-anchor="middle" stroke="#1e1e1e" stroke-width="0.2" >78</text>
<text x="272.1666666666667" y="213.7" font-size="10" fill="#1e1e1e" font-weight="normal" text-anchor="middle" stroke="#1e1e1e" stroke-width="0.2" >76</text>
<text x="298.5" y="213.7" font-size="10" fill="#1e1e1e" font-weight="normal" text-anchor="middle" stroke="#1e1e1e" stroke-width="0.2" >74</text>
<text x="324.8333333333333" y="213.7" font-size="10" fill="#1e1e1e" font-weight="normal" text-anchor="middle" stroke="#1e1e1e" stroke-width="0.2" >72</text>
<text x="351.16666666666663" y="213.7" font-size="10" fill="#1e1e1e" font-weight="normal" text-anchor="middle" stroke="#1e1e1e" stroke-width="0.2" >70</text>
<text x="377.5" y="213.7" font-size="10" fill="#1e1e1e" font-weight="normal" text-anchor="middle" stroke="#1e1e1e" stroke-width="0.2" >68</text>
<text x="303.6" y="226.9" font-size="10.85" fill="#1c1c1c" font-weight="bold" text-anchor="middle" >Binding energy (eV)</text>
<text x="210.9" y="100.2" font-size="10.85" fill="#1c1c1c" font-weight="bold" text-anchor="middle" transform="rotate(-90 210.9 100.2)">Intensity (a.u.)</text>
<path d="M220.2 63.8L220.9 64.5L221.7 65.1L222.4 63.1L223.2 63.4L223.9 64.1L224.7 64.5L225.4 64.4L226.2 64.9L226.9 65.2L227.7 64.8L228.4 64.9L229.2 64.5L229.9 65.7L230.7 66.1L231.4 65.1L232.2 64.2L232.9 65.2L233.7 66.6L234.4 65.6L235.2 65.4L235.9 64.9L236.7 64.2L237.4 64.3L238.2 65.2L238.9 66.0L239.7 65.3L240.4 65.6L241.2 66.6L241.9 66.3L242.7 66.4L243.4 66.1L244.2 65.4L244.9 65.9L245.7 65.9L246.4 66.1L247.2 65.3L247.9 65.6L248.7 65.9L249.4 64.8L250.2 64.3L250.9 64.7L251.7 66.3L252.4 66.5L253.2 66.0L253.9 64.1L254.7 62.9L255.4 63.4L256.2 63.1L256.9 63.8L257.7 64.3L258.4 63.3L259.2 63.2L259.9 62.2L260.7 61.0L261.4 60.7L262.2 61.2L262.9 61.7L263.7 61.3L264.4 61.4L265.2 59.8L265.9 58.3L266.7 58.9L267.4 57.9L268.2 57.0L268.9 58.1L269.7 58.6L270.4 58.1L271.2 56.7L271.9 55.2L272.7 55.1L273.4 54.1L274.2 52.7L274.9 52.7L275.7 51.1L276.4 48.6L277.2 47.5L277.9 46.8L278.7 45.7L279.4 43.9L280.2 42.5L280.9 40.0L281.7 37.8L282.4 37.8L283.2 36.7L283.9 35.0L284.7 34.3L285.4 34.3L286.2 35.1L286.9 35.3L287.7 36.2L288.4 38.9L289.2 39.8L289.9 40.9L290.7 42.7L291.4 42.9L292.2 44.3L292.9 46.2L293.7 48.7L294.4 50.4L295.2 52.4L295.9 55.1L296.7 54.4L297.4 55.8L298.2 59.3L298.9 59.2L299.7 59.6L300.4 59.6L301.2 59.6L301.9 60.0L302.7 60.4L303.4 60.4L304.2 58.3L304.9 59.6L305.7 62.6L306.4 61.7L307.2 60.5L307.9 60.6L308.7 59.4L309.4 59.3L310.2 60.1L310.9 58.4L311.7 57.2L312.4 57.6L313.2 55.7L313.9 55.8L314.7 57.3L315.4 54.8L316.2 53.7L316.9 53.4L317.7 51.0L318.4 50.7L319.2 49.6L319.9 47.4L320.7 46.6L321.4 45.6L322.2 43.4L322.9 39.8L323.7 36.4L324.4 36.3L325.2 35.0L325.9 32.8L326.7 31.3L327.4 29.9L328.2 28.9L328.9 29.5L329.7 29.5L330.4 28.6L331.2 29.6L331.9 31.4L332.7 31.9L333.4 32.7L334.2 35.3L334.9 37.8L335.7 40.5L336.4 42.3L337.2 44.6L337.9 47.2L338.7 49.8L339.4 52.3L340.2 53.8L340.9 56.0L341.7 58.5L342.4 61.8L343.2 62.8L343.9 62.9L344.7 65.4L345.4 64.9L346.2 63.8L346.9 65.1L347.7 66.8L348.4 69.7L349.2 70.5L349.9 70.1L350.7 70.0L351.4 67.9L352.2 66.8L352.9 69.3L353.7 71.1L354.4 69.8L355.2 70.5L355.9 70.5L356.7 70.7L357.4 72.7L358.2 71.6L358.9 70.1L359.7 71.2L360.4 71.3L361.2 71.4L361.9 71.5L362.7 71.5L363.4 72.4L364.2 71.7L364.9 71.2L365.7 71.7L366.4 71.1L367.2 70.9L367.9 71.9L368.7 72.6L369.4 72.1L370.2 72.8L370.9 73.5L371.7 71.7L372.4 72.9L373.2 74.8L373.9 73.8L374.7 72.2L375.4 72.4L376.2 72.6L376.9 72.4" fill="none" stroke="#cfcfd6" stroke-width="0.7" stroke-linejoin="round" />
<path d="M220.2 64.6L220.9 64.7L221.7 64.7L222.4 64.8L223.2 64.8L223.9 64.8L224.7 64.9L225.4 64.9L226.2 65.0L226.9 65.0L227.7 65.0L228.4 65.1L229.2 65.1L229.9 65.2L230.7 65.2L231.4 65.2L232.2 65.3L232.9 65.3L233.7 65.3L234.4 65.4L235.2 65.4L235.9 65.4L236.7 65.5L237.4 65.5L238.2 65.5L238.9 65.6L239.7 65.6L240.4 65.6L241.2 65.6L241.9 65.6L242.7 65.6L243.4 65.7L244.2 65.7L244.9 65.6L245.7 65.6L246.4 65.6L247.2 65.6L247.9 65.5L248.7 65.5L249.4 65.4L250.2 65.3L250.9 65.2L251.7 65.1L252.4 64.9L253.2 64.8L253.9 64.6L254.7 64.4L255.4 64.2L256.2 64.0L256.9 63.7L257.7 63.5L258.4 63.2L259.2 62.9L259.9 62.5L260.7 62.2L261.4 61.8L262.2 61.5L262.9 61.1L263.7 60.7L264.4 60.4L265.2 60.0L265.9 59.6L266.7 59.1L267.4 58.7L268.2 58.2L268.9 57.8L269.7 57.2L270.4 56.7L271.2 56.0L271.9 55.3L272.7 54.5L273.4 53.7L274.2 52.7L274.9 51.6L275.7 50.5L276.4 49.2L277.2 47.9L277.9 46.4L278.7 45.0L279.4 43.5L280.2 42.1L280.9 40.7L281.7 39.4L282.4 38.2L283.2 37.2L283.9 36.5L284.7 36.0L285.4 35.7L286.2 35.8L286.9 36.1L287.7 36.7L288.4 37.6L289.2 38.8L289.9 40.2L290.7 41.7L291.4 43.4L292.2 45.2L292.9 47.0L293.7 48.8L294.4 50.6L295.2 52.3L295.9 53.9L296.7 55.3L297.4 56.6L298.2 57.7L298.9 58.7L299.7 59.5L300.4 60.1L301.2 60.6L301.9 60.9L302.7 61.1L303.4 61.2L304.2 61.2L304.9 61.1L305.7 60.9L306.4 60.6L307.2 60.3L307.9 59.9L308.7 59.5L309.4 59.1L310.2 58.6L310.9 58.1L311.7 57.6L312.4 57.0L313.2 56.4L313.9 55.7L314.7 55.0L315.4 54.1L316.2 53.2L316.9 52.2L317.7 51.1L318.4 49.9L319.2 48.5L319.9 47.0L320.7 45.4L321.4 43.7L322.2 42.0L322.9 40.2L323.7 38.3L324.4 36.6L325.2 34.8L325.9 33.3L326.7 31.9L327.4 30.7L328.2 29.9L328.9 29.3L329.7 29.1L330.4 29.3L331.2 29.8L331.9 30.8L332.7 32.0L333.4 33.6L334.2 35.5L334.9 37.6L335.7 39.9L336.4 42.3L337.2 44.8L337.9 47.2L338.7 49.7L339.4 52.1L340.2 54.3L340.9 56.4L341.7 58.3L342.4 60.1L343.2 61.7L343.9 63.1L344.7 64.3L345.4 65.3L346.2 66.2L346.9 67.0L347.7 67.7L348.4 68.2L349.2 68.7L349.9 69.1L350.7 69.4L351.4 69.7L352.2 69.9L352.9 70.1L353.7 70.3L354.4 70.5L355.2 70.6L355.9 70.8L356.7 70.9L357.4 71.0L358.2 71.2L358.9 71.3L359.7 71.4L360.4 71.5L361.2 71.6L361.9 71.7L362.7 71.8L363.4 71.9L364.2 71.9L364.9 72.0L365.7 72.1L366.4 72.2L367.2 72.3L367.9 72.3L368.7 72.4L369.4 72.5L370.2 72.5L370.9 72.6L371.7 72.7L372.4 72.7L373.2 72.8L373.9 72.8L374.7 72.9L375.4 73.0L376.2 73.0L376.9 73.1" fill="none" stroke="#8c1c16" stroke-width="1.3" stroke-linejoin="round" />
<path d="M220.2 64.6L220.9 64.7L221.7 64.7L222.4 64.8L223.2 64.8L223.9 64.8L224.7 64.9L225.4 64.9L226.2 65.0L226.9 65.0L227.7 65.0L228.4 65.1L229.2 65.1L229.9 65.2L230.7 65.2L231.4 65.3L232.2 65.3L232.9 65.3L233.7 65.4L234.4 65.4L235.2 65.5L235.9 65.5L236.7 65.5L237.4 65.6L238.2 65.6L238.9 65.7L239.7 65.7L240.4 65.7L241.2 65.8L241.9 65.8L242.7 65.9L243.4 65.9L244.2 65.9L244.9 66.0L245.7 66.0L246.4 66.1L247.2 66.1L247.9 66.1L248.7 66.2L249.4 66.2L250.2 66.3L250.9 66.3L251.7 66.4L252.4 66.4L253.2 66.4L253.9 66.5L254.7 66.5L255.4 66.6L256.2 66.6L256.9 66.6L257.7 66.7L258.4 66.7L259.2 66.8L259.9 66.8L260.7 66.8L261.4 66.9L262.2 66.9L262.9 67.0L263.7 67.0L264.4 67.0L265.2 67.1L265.9 67.1L266.7 67.2L267.4 67.2L268.2 67.3L268.9 67.3L269.7 67.3L270.4 67.4L271.2 67.4L271.9 67.5L272.7 67.5L273.4 67.5L274.2 67.6L274.9 67.6L275.7 67.7L276.4 67.7L277.2 67.7L277.9 67.8L278.7 67.8L279.4 67.9L280.2 67.9L280.9 67.9L281.7 68.0L282.4 68.0L283.2 68.1L283.9 68.1L284.7 68.1L285.4 68.2L286.2 68.2L286.9 68.3L287.7 68.3L288.4 68.4L289.2 68.4L289.9 68.4L290.7 68.5L291.4 68.5L292.2 68.6L292.9 68.6L293.7 68.6L294.4 68.7L295.2 68.7L295.9 68.8L296.7 68.8L297.4 68.8L298.2 68.9L298.9 68.9L299.7 69.0L300.4 69.0L301.2 69.0L301.9 69.1L302.7 69.1L303.4 69.2L304.2 69.2L304.9 69.3L305.7 69.3L306.4 69.3L307.2 69.4L307.9 69.4L308.7 69.5L309.4 69.5L310.2 69.5L310.9 69.6L311.7 69.6L312.4 69.7L313.2 69.7L313.9 69.7L314.7 69.8L315.4 69.8L316.2 69.9L316.9 69.9L317.7 69.9L318.4 70.0L319.2 70.0L319.9 70.1L320.7 70.1L321.4 70.1L322.2 70.2L322.9 70.2L323.7 70.3L324.4 70.3L325.2 70.4L325.9 70.4L326.7 70.4L327.4 70.5L328.2 70.5L328.9 70.6L329.7 70.6L330.4 70.6L331.2 70.7L331.9 70.7L332.7 70.8L333.4 70.8L334.2 70.8L334.9 70.9L335.7 70.9L336.4 71.0L337.2 71.0L337.9 71.0L338.7 71.1L339.4 71.1L340.2 71.2L340.9 71.2L341.7 71.3L342.4 71.3L343.2 71.3L343.9 71.4L344.7 71.4L345.4 71.5L346.2 71.5L346.9 71.5L347.7 71.6L348.4 71.6L349.2 71.7L349.9 71.7L350.7 71.7L351.4 71.8L352.2 71.8L352.9 71.9L353.7 71.9L354.4 71.9L355.2 72.0L355.9 72.0L356.7 72.1L357.4 72.1L358.2 72.1L358.9 72.2L359.7 72.2L360.4 72.3L361.2 72.3L361.9 72.4L362.7 72.4L363.4 72.4L364.2 72.5L364.9 72.5L365.7 72.6L366.4 72.6L367.2 72.6L367.9 72.7L368.7 72.7L369.4 72.8L370.2 72.8L370.9 72.8L371.7 72.9L372.4 72.9L373.2 73.0L373.9 73.0L374.7 73.0L375.4 73.1L376.2 73.1L376.9 73.2" fill="none" stroke="#9a62ea" stroke-width="1.4" stroke-linejoin="round" />
<path d="M265.2 66.8L265.9 66.7L266.7 66.7L267.4 66.5L268.2 66.3L268.9 66.1L269.7 65.8L270.4 65.4L271.2 64.9L271.9 64.2L272.7 63.5L273.4 62.7L274.2 61.7L274.9 60.5L275.7 59.3L276.4 57.9L277.2 56.4L277.9 54.8L278.7 53.1L279.4 51.4L280.2 49.7L280.9 48.0L281.7 46.4L282.4 45.0L283.2 43.7L283.9 42.7L284.7 41.9L285.4 41.4L286.2 41.2L286.9 41.4L287.7 41.8L288.4 42.5L289.2 43.5L289.9 44.7L290.7 46.1L291.4 47.7L292.2 49.4L292.9 51.2L293.7 53.0L294.4 54.7L295.2 56.5L295.9 58.1L296.7 59.7L297.4 61.1L298.2 62.4L298.9 63.5L299.7 64.5L300.4 65.4L301.2 66.2L301.9 66.8L302.7 67.3L303.4 67.8L304.2 68.1L304.9 68.4L305.7 68.7L306.4 68.9L307.2 69.0" fill="none" stroke="#5ae6a2" stroke-width="1.4" stroke-linejoin="round"/>
<path d="M308.7 69.2L309.4 69.1L310.2 69.1L310.9 68.9L311.7 68.7L312.4 68.5L313.2 68.2L313.9 67.7L314.7 67.2L315.4 66.6L316.2 65.8L316.9 64.8L317.7 63.7L318.4 62.4L319.2 61.0L319.9 59.4L320.7 57.6L321.4 55.7L322.2 53.6L322.9 51.5L323.7 49.4L324.4 47.2L325.2 45.1L325.9 43.1L326.7 41.3L327.4 39.7L328.2 38.5L328.9 37.5L329.7 36.9L330.4 36.6L331.2 36.8L331.9 37.3L332.7 38.3L333.4 39.5L334.2 41.1L334.9 42.9L335.7 44.9L336.4 47.0L337.2 49.2L337.9 51.5L338.7 53.7L339.4 55.8L340.2 57.9L340.9 59.8L341.7 61.6L342.4 63.2L343.2 64.6L343.9 65.9L344.7 66.9L345.4 67.9L346.2 68.7L346.9 69.3L347.7 69.9L348.4 70.3L349.2 70.7L349.9 71.0L350.7 71.2L351.4 71.4L352.2 71.5" fill="none" stroke="#5ae6a2" stroke-width="1.4" stroke-linejoin="round"/>
<path d="M246.4 65.8L247.2 65.8L247.9 65.8L248.7 65.7L249.4 65.7L250.2 65.6L250.9 65.5L251.7 65.5L252.4 65.4L253.2 65.2L253.9 65.1L254.7 64.9L255.4 64.8L256.2 64.6L256.9 64.4L257.7 64.2L258.4 63.9L259.2 63.7L259.9 63.4L260.7 63.1L261.4 62.9L262.2 62.6L262.9 62.3L263.7 62.0L264.4 61.8L265.2 61.5L265.9 61.3L266.7 61.1L267.4 60.9L268.2 60.7L268.9 60.6L269.7 60.5L270.4 60.5L271.2 60.4L271.9 60.5L272.7 60.5L273.4 60.6L274.2 60.7L274.9 60.9L275.7 61.1L276.4 61.4L277.2 61.6L277.9 61.9L278.7 62.2L279.4 62.6L280.2 62.9L280.9 63.3L281.7 63.6L282.4 64.0L283.2 64.3L283.9 64.7L284.7 65.0L285.4 65.4L286.2 65.7L286.9 66.0L287.7 66.3L288.4 66.5L289.2 66.8L289.9 67.0L290.7 67.3L291.4 67.5L292.2 67.6L292.9 67.8L293.7 68.0L294.4 68.1L295.2 68.2L295.9 68.4L296.7 68.5L297.4 68.6" fill="none" stroke="#9a62ea" stroke-width="1.4" stroke-linejoin="round"/>
<path d="M290.7 68.2L291.4 68.2L292.2 68.1L292.9 68.1L293.7 68.0L294.4 67.9L295.2 67.8L295.9 67.7L296.7 67.6L297.4 67.4L298.2 67.3L298.9 67.1L299.7 66.8L300.4 66.6L301.2 66.3L301.9 66.0L302.7 65.7L303.4 65.4L304.2 65.0L304.9 64.7L305.7 64.3L306.4 63.9L307.2 63.5L307.9 63.1L308.7 62.7L309.4 62.4L310.2 62.0L310.9 61.7L311.7 61.4L312.4 61.1L313.2 60.9L313.9 60.7L314.7 60.5L315.4 60.4L316.2 60.4L316.9 60.4L317.7 60.5L318.4 60.6L319.2 60.8L319.9 61.0L320.7 61.2L321.4 61.5L322.2 61.9L322.9 62.3L323.7 62.7L324.4 63.1L325.2 63.6L325.9 64.0L326.7 64.5L327.4 65.0L328.2 65.4L328.9 65.9L329.7 66.4L330.4 66.8L331.2 67.2L331.9 67.6L332.7 68.0L333.4 68.3L334.2 68.7L334.9 69.0L335.7 69.3L336.4 69.5L337.2 69.8L337.9 70.0L338.7 70.2L339.4 70.4L340.2 70.5L340.9 70.7L341.7 70.8L342.4 70.9L343.2 71.0L343.9 71.1" fill="none" stroke="#9a62ea" stroke-width="1.4" stroke-linejoin="round"/>
<path d="M257.7 63.5L258.4 63.2L259.2 62.9L259.9 62.5L260.7 62.2L261.4 61.8L262.2 61.5L262.9 61.1L263.7 60.7L264.4 60.4L265.2 60.0L265.9 59.6L266.7 59.1L267.4 58.7L268.2 58.2L268.9 57.8L269.7 57.2L270.4 56.7L271.2 56.0L271.9 55.3L272.7 54.5L273.4 53.7L274.2 52.7L274.9 51.6L275.7 50.5L276.4 49.2L277.2 47.9L277.9 46.4L278.7 45.0L279.4 43.5L280.2 42.1L280.9 40.7L281.7 39.4L282.4 38.2L283.2 37.2L283.9 36.5L284.7 36.0L285.4 35.7L286.2 35.8L286.9 36.1L287.7 36.7L288.4 37.6L289.2 38.8L289.9 40.2L290.7 41.7L291.4 43.4L292.2 45.2L292.9 47.0L293.7 48.8L294.4 50.6L295.2 52.3L295.9 53.9L296.7 55.3L297.4 56.6L298.2 57.7L298.9 58.7L299.7 59.5L300.4 60.1L301.2 60.6L301.9 60.9L302.7 61.1L303.4 61.2L304.2 61.2L304.9 61.1L305.7 60.9L306.4 60.6L307.2 60.3L307.9 59.9L308.7 59.5L309.4 59.1L310.2 58.6L310.9 58.1L311.7 57.6L312.4 57.0L313.2 56.4L313.9 55.7L314.7 55.0L315.4 54.1L316.2 53.2L316.9 52.2L317.7 51.1L318.4 49.9L319.2 48.5L319.9 47.0L320.7 45.4L321.4 43.7L322.2 42.0L322.9 40.2L323.7 38.3L324.4 36.6L325.2 34.8L325.9 33.3L326.7 31.9L327.4 30.7L328.2 29.9L328.9 29.3L329.7 29.1L330.4 29.3L331.2 29.8L331.9 30.8L332.7 32.0L333.4 33.6L334.2 35.5L334.9 37.6L335.7 39.9L336.4 42.3L337.2 44.8L337.9 47.2L338.7 49.7L339.4 52.1L340.2 54.3L340.9 56.4L341.7 58.3L342.4 60.1L343.2 61.7L343.9 63.1L344.7 64.3L345.4 65.3L346.2 66.2L346.9 67.0L347.7 67.7L348.4 68.2" fill="none" stroke="#e9b98a" stroke-width="1.7" stroke-linejoin="round"/>
<path d="M257.7 63.5L258.4 63.2L259.2 62.9L259.9 62.5L260.7 62.2L261.4 61.8L262.2 61.5L262.9 61.1L263.7 60.7L264.4 60.4L265.2 60.0L265.9 59.6L266.7 59.1L267.4 58.7L268.2 58.2L268.9 57.8L269.7 57.2L270.4 56.7L271.2 56.0L271.9 55.3L272.7 54.5L273.4 53.7L274.2 52.7L274.9 51.6L275.7 50.5L276.4 49.2L277.2 47.9L277.9 46.4L278.7 45.0L279.4 43.5L280.2 42.1L280.9 40.7L281.7 39.4L282.4 38.2L283.2 37.2L283.9 36.5L284.7 36.0L285.4 35.7L286.2 35.8L286.9 36.1L287.7 36.7L288.4 37.6L289.2 38.8L289.9 40.2L290.7 41.7L291.4 43.4L292.2 45.2L292.9 47.0L293.7 48.8L294.4 50.6L295.2 52.3L295.9 53.9L296.7 55.3L297.4 56.6L298.2 57.7L298.9 58.7L299.7 59.5L300.4 60.1L301.2 60.6L301.9 60.9L302.7 61.1L303.4 61.2L304.2 61.2L304.9 61.1L305.7 60.9L306.4 60.6L307.2 60.3L307.9 59.9L308.7 59.5L309.4 59.1L310.2 58.6L310.9 58.1L311.7 57.6L312.4 57.0L313.2 56.4L313.9 55.7L314.7 55.0L315.4 54.1L316.2 53.2L316.9 52.2L317.7 51.1L318.4 49.9L319.2 48.5L319.9 47.0L320.7 45.4L321.4 43.7L322.2 42.0L322.9 40.2L323.7 38.3L324.4 36.6L325.2 34.8L325.9 33.3L326.7 31.9L327.4 30.7L328.2 29.9L328.9 29.3L329.7 29.1L330.4 29.3L331.2 29.8L331.9 30.8L332.7 32.0L333.4 33.6L334.2 35.5L334.9 37.6L335.7 39.9L336.4 42.3L337.2 44.8L337.9 47.2L338.7 49.7L339.4 52.1L340.2 54.3L340.9 56.4L341.7 58.3L342.4 60.1L343.2 61.7L343.9 63.1L344.7 64.3L345.4 65.3L346.2 66.2L346.9 67.0L347.7 67.7L348.4 68.2" fill="none" stroke="#8c1c16" stroke-width="1.45" stroke-linejoin="round"/>
<text x="222.0" y="14.3" font-size="8.2" fill="#1c1c1c" font-weight="bold" text-anchor="start" stroke="#1c1c1c" stroke-width="0.25" >Pt-CoZn@NC-800-10%</text>
<path d="M220.2 125.5L220.9 125.8L221.7 124.9L222.4 125.0L223.2 124.9L223.9 125.2L224.7 125.8L225.4 125.1L226.2 124.7L226.9 126.4L227.7 126.7L228.4 125.1L229.2 126.2L229.9 126.3L230.7 124.4L231.4 124.9L232.2 125.0L232.9 124.4L233.7 125.2L234.4 125.4L235.2 124.8L235.9 124.6L236.7 124.7L237.4 125.8L238.2 125.7L238.9 124.7L239.7 126.4L240.4 126.4L241.2 126.1L241.9 127.3L242.7 126.3L243.4 124.6L244.2 125.0L244.9 126.2L245.7 126.5L246.4 126.1L247.2 126.2L247.9 127.0L248.7 125.5L249.4 125.5L250.2 126.1L250.9 124.8L251.7 124.4L252.4 125.7L253.2 126.3L253.9 123.9L254.7 123.1L255.4 123.8L256.2 123.4L256.9 122.9L257.7 121.8L258.4 122.3L259.2 122.2L259.9 121.1L260.7 120.9L261.4 120.3L262.2 120.6L262.9 120.8L263.7 119.5L264.4 118.1L265.2 117.7L265.9 118.3L266.7 118.0L267.4 116.9L268.2 115.9L268.9 114.9L269.7 114.3L270.4 112.5L271.2 112.3L271.9 111.9L272.7 109.4L273.4 109.5L274.2 108.7L274.9 106.6L275.7 104.7L276.4 102.4L277.2 101.5L277.9 101.8L278.7 99.9L279.4 98.9L280.2 97.7L280.9 95.6L281.7 96.0L282.4 96.1L283.2 96.1L283.9 95.7L284.7 95.1L285.4 95.1L286.2 95.9L286.9 97.5L287.7 98.8L288.4 101.1L289.2 103.3L289.9 103.7L290.7 107.4L291.4 110.0L292.2 109.6L292.9 112.7L293.7 115.8L294.4 116.0L295.2 115.9L295.9 117.3L296.7 120.1L297.4 121.5L298.2 121.2L298.9 122.1L299.7 123.8L300.4 123.4L301.2 122.7L301.9 122.8L302.7 124.3L303.4 126.1L304.2 125.1L304.9 123.6L305.7 123.0L306.4 121.3L307.2 120.5L307.9 120.3L308.7 118.5L309.4 118.1L310.2 117.8L310.9 117.7L311.7 117.3L312.4 116.0L313.2 113.9L313.9 112.9L314.7 112.0L315.4 110.9L316.2 109.0L316.9 105.0L317.7 103.6L318.4 104.9L319.2 103.7L319.9 100.5L320.7 99.0L321.4 97.7L322.2 95.8L322.9 93.7L323.7 92.1L324.4 91.3L325.2 90.0L325.9 88.5L326.7 88.7L327.4 89.9L328.2 90.6L328.9 91.0L329.7 91.9L330.4 94.5L331.2 96.0L331.9 97.0L332.7 100.1L333.4 101.8L334.2 103.1L334.9 106.1L335.7 109.5L336.4 111.4L337.2 113.0L337.9 115.1L338.7 116.2L339.4 118.8L340.2 121.2L340.9 121.1L341.7 122.6L342.4 123.8L343.2 124.4L343.9 126.4L344.7 127.2L345.4 128.6L346.2 128.8L346.9 128.8L347.7 130.4L348.4 131.5L349.2 131.9L349.9 131.4L350.7 131.1L351.4 131.1L352.2 131.8L352.9 131.6L353.7 131.3L354.4 131.8L355.2 131.7L355.9 131.6L356.7 132.9L357.4 132.7L358.2 131.6L358.9 132.2L359.7 132.5L360.4 132.7L361.2 132.6L361.9 133.0L362.7 131.9L363.4 131.4L364.2 131.6L364.9 131.8L365.7 131.9L366.4 131.2L367.2 131.9L367.9 133.4L368.7 133.8L369.4 133.2L370.2 133.8L370.9 133.1L371.7 131.0L372.4 131.4L373.2 132.5L373.9 133.6L374.7 135.1L375.4 133.6L376.2 133.8L376.9 135.6" fill="none" stroke="#cfcfd6" stroke-width="0.7" stroke-linejoin="round" />
<path d="M220.2 124.5L220.9 124.6L221.7 124.6L222.4 124.7L223.2 124.7L223.9 124.7L224.7 124.8L225.4 124.8L226.2 124.9L226.9 124.9L227.7 124.9L228.4 125.0L229.2 125.0L229.9 125.1L230.7 125.1L231.4 125.1L232.2 125.2L232.9 125.2L233.7 125.3L234.4 125.3L235.2 125.3L235.9 125.4L236.7 125.4L237.4 125.4L238.2 125.5L238.9 125.5L239.7 125.5L240.4 125.5L241.2 125.6L241.9 125.6L242.7 125.6L243.4 125.6L244.2 125.6L244.9 125.6L245.7 125.5L246.4 125.5L247.2 125.5L247.9 125.4L248.7 125.3L249.4 125.3L250.2 125.2L250.9 125.0L251.7 124.9L252.4 124.7L253.2 124.6L253.9 124.4L254.7 124.1L255.4 123.9L256.2 123.6L256.9 123.3L257.7 123.0L258.4 122.6L259.2 122.3L259.9 121.9L260.7 121.5L261.4 121.1L262.2 120.6L262.9 120.1L263.7 119.6L264.4 119.1L265.2 118.6L265.9 118.0L266.7 117.4L267.4 116.7L268.2 116.0L268.9 115.2L269.7 114.4L270.4 113.5L271.2 112.5L271.9 111.4L272.7 110.3L273.4 109.0L274.2 107.8L274.9 106.4L275.7 105.1L276.4 103.7L277.2 102.3L277.9 101.0L278.7 99.7L279.4 98.6L280.2 97.6L280.9 96.8L281.7 96.2L282.4 95.8L283.2 95.6L283.9 95.8L284.7 96.2L285.4 96.8L286.2 97.8L286.9 98.9L287.7 100.3L288.4 101.8L289.2 103.5L289.9 105.3L290.7 107.1L291.4 109.0L292.2 110.9L292.9 112.7L293.7 114.4L294.4 116.0L295.2 117.5L295.9 118.8L296.7 120.0L297.4 121.0L298.2 121.9L298.9 122.6L299.7 123.1L300.4 123.5L301.2 123.8L301.9 123.9L302.7 123.8L303.4 123.7L304.2 123.5L304.9 123.1L305.7 122.7L306.4 122.2L307.2 121.6L307.9 120.9L308.7 120.2L309.4 119.3L310.2 118.5L310.9 117.5L311.7 116.5L312.4 115.4L313.2 114.3L313.9 113.0L314.7 111.7L315.4 110.3L316.2 108.8L316.9 107.2L317.7 105.6L318.4 103.9L319.2 102.1L319.9 100.4L320.7 98.6L321.4 96.9L322.2 95.2L322.9 93.7L323.7 92.3L324.4 91.2L325.2 90.2L325.9 89.6L326.7 89.3L327.4 89.3L328.2 89.6L328.9 90.3L329.7 91.3L330.4 92.7L331.2 94.3L331.9 96.2L332.7 98.3L333.4 100.5L334.2 102.9L334.9 105.4L335.7 107.8L336.4 110.2L337.2 112.6L337.9 114.8L338.7 116.9L339.4 118.9L340.2 120.6L340.9 122.3L341.7 123.7L342.4 124.9L343.2 126.0L343.9 127.0L344.7 127.8L345.4 128.5L346.2 129.0L346.9 129.5L347.7 129.9L348.4 130.2L349.2 130.5L349.9 130.7L350.7 130.9L351.4 131.1L352.2 131.2L352.9 131.3L353.7 131.4L354.4 131.5L355.2 131.6L355.9 131.6L356.7 131.7L357.4 131.8L358.2 131.9L358.9 131.9L359.7 132.0L360.4 132.0L361.2 132.1L361.9 132.1L362.7 132.2L363.4 132.3L364.2 132.3L364.9 132.4L365.7 132.4L366.4 132.5L367.2 132.5L367.9 132.6L368.7 132.6L369.4 132.7L370.2 132.7L370.9 132.8L371.7 132.8L372.4 132.9L373.2 132.9L373.9 133.0L374.7 133.0L375.4 133.0L376.2 133.1L376.9 133.1" fill="none" stroke="#8c1c16" stroke-width="1.3" stroke-linejoin="round" />
<path d="M220.2 124.5L220.9 124.6L221.7 124.6L222.4 124.7L223.2 124.7L223.9 124.7L224.7 124.8L225.4 124.8L226.2 124.9L226.9 124.9L227.7 125.0L228.4 125.0L229.2 125.0L229.9 125.1L230.7 125.1L231.4 125.2L232.2 125.2L232.9 125.2L233.7 125.3L234.4 125.3L235.2 125.4L235.9 125.4L236.7 125.4L237.4 125.5L238.2 125.5L238.9 125.6L239.7 125.6L240.4 125.7L241.2 125.7L241.9 125.7L242.7 125.8L243.4 125.8L244.2 125.9L244.9 125.9L245.7 125.9L246.4 126.0L247.2 126.0L247.9 126.1L248.7 126.1L249.4 126.1L250.2 126.2L250.9 126.2L251.7 126.3L252.4 126.3L253.2 126.4L253.9 126.4L254.7 126.4L255.4 126.5L256.2 126.5L256.9 126.6L257.7 126.6L258.4 126.6L259.2 126.7L259.9 126.7L260.7 126.8L261.4 126.8L262.2 126.9L262.9 126.9L263.7 126.9L264.4 127.0L265.2 127.0L265.9 127.1L266.7 127.1L267.4 127.1L268.2 127.2L268.9 127.2L269.7 127.3L270.4 127.3L271.2 127.3L271.9 127.4L272.7 127.4L273.4 127.5L274.2 127.5L274.9 127.6L275.7 127.6L276.4 127.6L277.2 127.7L277.9 127.7L278.7 127.8L279.4 127.8L280.2 127.8L280.9 127.9L281.7 127.9L282.4 128.0L283.2 128.0L283.9 128.0L284.7 128.1L285.4 128.1L286.2 128.2L286.9 128.2L287.7 128.3L288.4 128.3L289.2 128.3L289.9 128.4L290.7 128.4L291.4 128.5L292.2 128.5L292.9 128.5L293.7 128.6L294.4 128.6L295.2 128.7L295.9 128.7L296.7 128.8L297.4 128.8L298.2 128.8L298.9 128.9L299.7 128.9L300.4 129.0L301.2 129.0L301.9 129.0L302.7 129.1L303.4 129.1L304.2 129.2L304.9 129.2L305.7 129.2L306.4 129.3L307.2 129.3L307.9 129.4L308.7 129.4L309.4 129.5L310.2 129.5L310.9 129.5L311.7 129.6L312.4 129.6L313.2 129.7L313.9 129.7L314.7 129.7L315.4 129.8L316.2 129.8L316.9 129.9L317.7 129.9L318.4 129.9L319.2 130.0L319.9 130.0L320.7 130.1L321.4 130.1L322.2 130.2L322.9 130.2L323.7 130.2L324.4 130.3L325.2 130.3L325.9 130.4L326.7 130.4L327.4 130.4L328.2 130.5L328.9 130.5L329.7 130.6L330.4 130.6L331.2 130.7L331.9 130.7L332.7 130.7L333.4 130.8L334.2 130.8L334.9 130.9L335.7 130.9L336.4 130.9L337.2 131.0L337.9 131.0L338.7 131.1L339.4 131.1L340.2 131.1L340.9 131.2L341.7 131.2L342.4 131.3L343.2 131.3L343.9 131.4L344.7 131.4L345.4 131.4L346.2 131.5L346.9 131.5L347.7 131.6L348.4 131.6L349.2 131.6L349.9 131.7L350.7 131.7L351.4 131.8L352.2 131.8L352.9 131.8L353.7 131.9L354.4 131.9L355.2 132.0L355.9 132.0L356.7 132.1L357.4 132.1L358.2 132.1L358.9 132.2L359.7 132.2L360.4 132.3L361.2 132.3L361.9 132.3L362.7 132.4L363.4 132.4L364.2 132.5L364.9 132.5L365.7 132.6L366.4 132.6L367.2 132.6L367.9 132.7L368.7 132.7L369.4 132.8L370.2 132.8L370.9 132.8L371.7 132.9L372.4 132.9L373.2 133.0L373.9 133.0L374.7 133.0L375.4 133.1L376.2 133.1L376.9 133.2" fill="none" stroke="#9a62ea" stroke-width="1.4" stroke-linejoin="round" />
<path d="M262.2 126.5L262.9 126.5L263.7 126.4L264.4 126.2L265.2 126.0L265.9 125.8L266.7 125.5L267.4 125.1L268.2 124.6L268.9 124.0L269.7 123.3L270.4 122.5L271.2 121.6L271.9 120.6L272.7 119.4L273.4 118.1L274.2 116.7L274.9 115.2L275.7 113.6L276.4 112.0L277.2 110.3L277.9 108.7L278.7 107.1L279.4 105.6L280.2 104.3L280.9 103.1L281.7 102.1L282.4 101.3L283.2 100.8L283.9 100.6L284.7 100.6L285.4 101.0L286.2 101.6L286.9 102.4L287.7 103.5L288.4 104.8L289.2 106.3L289.9 107.8L290.7 109.5L291.4 111.2L292.2 112.9L292.9 114.7L293.7 116.3L294.4 117.9L295.2 119.4L295.9 120.7L296.7 122.0L297.4 123.1L298.2 124.1L298.9 125.0L299.7 125.8L300.4 126.4L301.2 127.0L301.9 127.4L302.7 127.8L303.4 128.2L304.2 128.4L304.9 128.6L305.7 128.8L306.4 129.0" fill="none" stroke="#5ae6a2" stroke-width="1.4" stroke-linejoin="round"/>
<path d="M305.7 129.0L306.4 128.9L307.2 128.8L307.9 128.6L308.7 128.4L309.4 128.2L310.2 127.9L310.9 127.4L311.7 126.9L312.4 126.3L313.2 125.5L313.9 124.6L314.7 123.5L315.4 122.2L316.2 120.8L316.9 119.3L317.7 117.5L318.4 115.7L319.2 113.7L319.9 111.6L320.7 109.4L321.4 107.3L322.2 105.1L322.9 103.1L323.7 101.1L324.4 99.4L325.2 97.9L325.9 96.7L326.7 95.7L327.4 95.2L328.2 95.0L328.9 95.2L329.7 95.7L330.4 96.6L331.2 97.8L331.9 99.4L332.7 101.1L333.4 103.1L334.2 105.2L334.9 107.4L335.7 109.7L336.4 111.9L337.2 114.1L337.9 116.2L338.7 118.2L339.4 120.0L340.2 121.7L340.9 123.3L341.7 124.6L342.4 125.8L343.2 126.9L343.9 127.8L344.7 128.5L345.4 129.2L346.2 129.7L346.9 130.2L347.7 130.5L348.4 130.8L349.2 131.1L349.9 131.2L350.7 131.4" fill="none" stroke="#5ae6a2" stroke-width="1.4" stroke-linejoin="round"/>
<path d="M244.9 125.7L245.7 125.6L246.4 125.6L247.2 125.6L247.9 125.5L248.7 125.5L249.4 125.4L250.2 125.3L250.9 125.2L251.7 125.1L252.4 124.9L253.2 124.8L253.9 124.6L254.7 124.4L255.4 124.1L256.2 123.9L256.9 123.6L257.7 123.3L258.4 123.0L259.2 122.7L259.9 122.4L260.7 122.0L261.4 121.7L262.2 121.3L262.9 121.0L263.7 120.7L264.4 120.3L265.2 120.0L265.9 119.8L266.7 119.5L267.4 119.3L268.2 119.1L268.9 119.0L269.7 118.9L270.4 118.9L271.2 118.9L271.9 118.9L272.7 119.0L273.4 119.1L274.2 119.3L274.9 119.5L275.7 119.8L276.4 120.1L277.2 120.5L277.9 120.8L278.7 121.2L279.4 121.6L280.2 122.0L280.9 122.4L281.7 122.9L282.4 123.3L283.2 123.7L283.9 124.1L284.7 124.5L285.4 124.9L286.2 125.3L286.9 125.6L287.7 126.0L288.4 126.3L289.2 126.6L289.9 126.8L290.7 127.1L291.4 127.3L292.2 127.5L292.9 127.7L293.7 127.9L294.4 128.0L295.2 128.2L295.9 128.3L296.7 128.4L297.4 128.5" fill="none" stroke="#9a62ea" stroke-width="1.4" stroke-linejoin="round"/>
<path d="M293.7 128.3L294.4 128.2L295.2 128.2L295.9 128.1L296.7 128.0L297.4 127.9L298.2 127.7L298.9 127.6L299.7 127.4L300.4 127.1L301.2 126.8L301.9 126.5L302.7 126.1L303.4 125.7L304.2 125.3L304.9 124.8L305.7 124.3L306.4 123.8L307.2 123.3L307.9 122.7L308.7 122.2L309.4 121.7L310.2 121.1L310.9 120.6L311.7 120.2L312.4 119.8L313.2 119.5L313.9 119.2L314.7 119.0L315.4 118.9L316.2 118.8L316.9 118.9L317.7 119.0L318.4 119.2L319.2 119.5L319.9 119.9L320.7 120.3L321.4 120.8L322.2 121.4L322.9 121.9L323.7 122.6L324.4 123.2L325.2 123.8L325.9 124.4L326.7 125.0L327.4 125.6L328.2 126.2L328.9 126.8L329.7 127.3L330.4 127.7L331.2 128.2L331.9 128.6L332.7 128.9L333.4 129.3L334.2 129.6L334.9 129.8L335.7 130.0L336.4 130.2L337.2 130.4L337.9 130.6L338.7 130.7L339.4 130.8" fill="none" stroke="#9a62ea" stroke-width="1.4" stroke-linejoin="round"/>
<path d="M256.9 123.3L257.7 123.0L258.4 122.6L259.2 122.3L259.9 121.9L260.7 121.5L261.4 121.1L262.2 120.6L262.9 120.1L263.7 119.6L264.4 119.1L265.2 118.6L265.9 118.0L266.7 117.4L267.4 116.7L268.2 116.0L268.9 115.2L269.7 114.4L270.4 113.5L271.2 112.5L271.9 111.4L272.7 110.3L273.4 109.0L274.2 107.8L274.9 106.4L275.7 105.1L276.4 103.7L277.2 102.3L277.9 101.0L278.7 99.7L279.4 98.6L280.2 97.6L280.9 96.8L281.7 96.2L282.4 95.8L283.2 95.6L283.9 95.8L284.7 96.2L285.4 96.8L286.2 97.8L286.9 98.9L287.7 100.3L288.4 101.8L289.2 103.5L289.9 105.3L290.7 107.1L291.4 109.0L292.2 110.9L292.9 112.7L293.7 114.4L294.4 116.0L295.2 117.5L295.9 118.8L296.7 120.0L297.4 121.0L298.2 121.9L298.9 122.6L299.7 123.1L300.4 123.5L301.2 123.8L301.9 123.9L302.7 123.8L303.4 123.7L304.2 123.5L304.9 123.1L305.7 122.7L306.4 122.2L307.2 121.6L307.9 120.9L308.7 120.2L309.4 119.3L310.2 118.5L310.9 117.5L311.7 116.5L312.4 115.4L313.2 114.3L313.9 113.0L314.7 111.7L315.4 110.3L316.2 108.8L316.9 107.2L317.7 105.6L318.4 103.9L319.2 102.1L319.9 100.4L320.7 98.6L321.4 96.9L322.2 95.2L322.9 93.7L323.7 92.3L324.4 91.2L325.2 90.2L325.9 89.6L326.7 89.3L327.4 89.3L328.2 89.6L328.9 90.3L329.7 91.3L330.4 92.7L331.2 94.3L331.9 96.2L332.7 98.3L333.4 100.5L334.2 102.9L334.9 105.4L335.7 107.8L336.4 110.2L337.2 112.6L337.9 114.8L338.7 116.9L339.4 118.9L340.2 120.6L340.9 122.3L341.7 123.7L342.4 124.9L343.2 126.0L343.9 127.0L344.7 127.8" fill="none" stroke="#e9b98a" stroke-width="1.7" stroke-linejoin="round"/>
<path d="M256.9 123.3L257.7 123.0L258.4 122.6L259.2 122.3L259.9 121.9L260.7 121.5L261.4 121.1L262.2 120.6L262.9 120.1L263.7 119.6L264.4 119.1L265.2 118.6L265.9 118.0L266.7 117.4L267.4 116.7L268.2 116.0L268.9 115.2L269.7 114.4L270.4 113.5L271.2 112.5L271.9 111.4L272.7 110.3L273.4 109.0L274.2 107.8L274.9 106.4L275.7 105.1L276.4 103.7L277.2 102.3L277.9 101.0L278.7 99.7L279.4 98.6L280.2 97.6L280.9 96.8L281.7 96.2L282.4 95.8L283.2 95.6L283.9 95.8L284.7 96.2L285.4 96.8L286.2 97.8L286.9 98.9L287.7 100.3L288.4 101.8L289.2 103.5L289.9 105.3L290.7 107.1L291.4 109.0L292.2 110.9L292.9 112.7L293.7 114.4L294.4 116.0L295.2 117.5L295.9 118.8L296.7 120.0L297.4 121.0L298.2 121.9L298.9 122.6L299.7 123.1L300.4 123.5L301.2 123.8L301.9 123.9L302.7 123.8L303.4 123.7L304.2 123.5L304.9 123.1L305.7 122.7L306.4 122.2L307.2 121.6L307.9 120.9L308.7 120.2L309.4 119.3L310.2 118.5L310.9 117.5L311.7 116.5L312.4 115.4L313.2 114.3L313.9 113.0L314.7 111.7L315.4 110.3L316.2 108.8L316.9 107.2L317.7 105.6L318.4 103.9L319.2 102.1L319.9 100.4L320.7 98.6L321.4 96.9L322.2 95.2L322.9 93.7L323.7 92.3L324.4 91.2L325.2 90.2L325.9 89.6L326.7 89.3L327.4 89.3L328.2 89.6L328.9 90.3L329.7 91.3L330.4 92.7L331.2 94.3L331.9 96.2L332.7 98.3L333.4 100.5L334.2 102.9L334.9 105.4L335.7 107.8L336.4 110.2L337.2 112.6L337.9 114.8L338.7 116.9L339.4 118.9L340.2 120.6L340.9 122.3L341.7 123.7L342.4 124.9L343.2 126.0L343.9 127.0L344.7 127.8" fill="none" stroke="#8c1c16" stroke-width="1.45" stroke-linejoin="round"/>
<text x="223.6" y="86.2" font-size="8.2" fill="#1c1c1c" font-weight="bold" text-anchor="start" stroke="#1c1c1c" stroke-width="0.25" >Pt-Co@NC-800-10%</text>
<path d="M220.2 189.3L220.9 189.6L221.7 190.6L222.4 190.5L223.2 188.7L223.9 188.8L224.7 188.3L225.4 188.5L226.2 189.3L226.9 189.2L227.7 189.5L228.4 188.7L229.2 189.3L229.9 189.4L230.7 189.1L231.4 188.8L232.2 188.5L232.9 189.0L233.7 188.9L234.4 189.0L235.2 187.7L235.9 187.4L236.7 188.8L237.4 189.9L238.2 189.0L238.9 187.3L239.7 187.7L240.4 188.9L241.2 189.1L241.9 188.7L242.7 189.7L243.4 190.8L244.2 190.7L244.9 189.6L245.7 189.2L246.4 189.7L247.2 188.7L247.9 189.4L248.7 190.4L249.4 189.5L250.2 190.3L250.9 191.1L251.7 190.7L252.4 191.0L253.2 190.8L253.9 189.3L254.7 188.5L255.4 189.9L256.2 189.5L256.9 188.9L257.7 189.5L258.4 190.2L259.2 190.6L259.9 190.1L260.7 189.0L261.4 188.8L262.2 189.0L262.9 188.1L263.7 188.4L264.4 188.5L265.2 186.9L265.9 187.1L266.7 187.1L267.4 186.3L268.2 185.2L268.9 184.5L269.7 184.5L270.4 183.5L271.2 182.5L271.9 184.0L272.7 184.6L273.4 182.9L274.2 183.1L274.9 182.2L275.7 181.1L276.4 179.5L277.2 178.3L277.9 177.9L278.7 176.9L279.4 175.9L280.2 173.4L280.9 170.6L281.7 169.3L282.4 169.2L283.2 168.5L283.9 166.7L284.7 163.6L285.4 160.3L286.2 159.9L286.9 160.3L287.7 159.6L288.4 159.5L289.2 159.5L289.9 158.7L290.7 158.7L291.4 160.2L292.2 161.9L292.9 163.0L293.7 165.9L294.4 167.4L295.2 168.0L295.9 169.4L296.7 171.1L297.4 173.9L298.2 176.3L298.9 177.7L299.7 179.2L300.4 180.9L301.2 180.8L301.9 179.9L302.7 183.5L303.4 186.8L304.2 186.0L304.9 184.9L305.7 184.5L306.4 186.7L307.2 185.9L307.9 184.8L308.7 187.0L309.4 187.1L310.2 186.9L310.9 186.4L311.7 187.1L312.4 186.2L313.2 183.5L313.9 183.9L314.7 185.1L315.4 184.4L316.2 183.6L316.9 182.6L317.7 180.5L318.4 180.8L319.2 181.5L319.9 180.5L320.7 178.1L321.4 175.0L322.2 173.1L322.9 172.0L323.7 171.3L324.4 169.8L325.2 166.5L325.9 164.3L326.7 163.1L327.4 161.0L328.2 158.9L328.9 156.9L329.7 155.6L330.4 154.4L331.2 153.1L331.9 151.8L332.7 151.5L333.4 151.8L334.2 150.7L334.9 151.8L335.7 154.1L336.4 155.8L337.2 157.7L337.9 159.1L338.7 161.6L339.4 164.1L340.2 166.2L340.9 167.7L341.7 171.6L342.4 174.2L343.2 175.2L343.9 178.8L344.7 181.2L345.4 183.1L346.2 185.0L346.9 186.9L347.7 187.9L348.4 190.1L349.2 190.2L349.9 189.4L350.7 190.5L351.4 190.6L352.2 191.5L352.9 193.1L353.7 192.8L354.4 191.7L355.2 192.8L355.9 193.7L356.7 194.6L357.4 195.1L358.2 194.1L358.9 193.4L359.7 193.4L360.4 193.6L361.2 192.7L361.9 192.8L362.7 193.6L363.4 193.5L364.2 193.4L364.9 194.7L365.7 195.4L366.4 195.0L367.2 194.2L367.9 193.1L368.7 193.3L369.4 194.1L370.2 194.1L370.9 193.9L371.7 194.7L372.4 195.1L373.2 193.9L373.9 193.5L374.7 193.7L375.4 194.2L376.2 193.9L376.9 193.7" fill="none" stroke="#cfcfd6" stroke-width="0.7" stroke-linejoin="round" />
<path d="M220.2 188.8L220.9 188.9L221.7 188.9L222.4 188.9L223.2 188.9L223.9 189.0L224.7 189.0L225.4 189.0L226.2 189.0L226.9 189.1L227.7 189.1L228.4 189.1L229.2 189.2L229.9 189.2L230.7 189.2L231.4 189.2L232.2 189.3L232.9 189.3L233.7 189.3L234.4 189.3L235.2 189.4L235.9 189.4L236.7 189.4L237.4 189.4L238.2 189.5L238.9 189.5L239.7 189.5L240.4 189.5L241.2 189.6L241.9 189.6L242.7 189.6L243.4 189.6L244.2 189.7L244.9 189.7L245.7 189.7L246.4 189.7L247.2 189.7L247.9 189.7L248.7 189.7L249.4 189.7L250.2 189.7L250.9 189.7L251.7 189.7L252.4 189.7L253.2 189.6L253.9 189.6L254.7 189.5L255.4 189.5L256.2 189.4L256.9 189.3L257.7 189.2L258.4 189.0L259.2 188.9L259.9 188.7L260.7 188.5L261.4 188.3L262.2 188.1L262.9 187.9L263.7 187.6L264.4 187.3L265.2 187.0L265.9 186.7L266.7 186.4L267.4 186.1L268.2 185.8L268.9 185.4L269.7 185.1L270.4 184.7L271.2 184.3L271.9 183.9L272.7 183.4L273.4 182.9L274.2 182.3L274.9 181.6L275.7 180.9L276.4 180.0L277.2 179.1L277.9 178.0L278.7 176.8L279.4 175.5L280.2 174.1L280.9 172.6L281.7 171.0L282.4 169.4L283.2 167.7L283.9 166.1L284.7 164.6L285.4 163.2L286.2 162.0L286.9 160.9L287.7 160.1L288.4 159.6L289.2 159.4L289.9 159.5L290.7 159.9L291.4 160.7L292.2 161.7L292.9 163.0L293.7 164.5L294.4 166.2L295.2 168.0L295.9 169.9L296.7 171.9L297.4 173.8L298.2 175.7L298.9 177.4L299.7 179.1L300.4 180.6L301.2 181.9L301.9 183.1L302.7 184.1L303.4 184.9L304.2 185.5L304.9 186.0L305.7 186.4L306.4 186.6L307.2 186.7L307.9 186.7L308.7 186.7L309.4 186.5L310.2 186.3L310.9 186.1L311.7 185.7L312.4 185.4L313.2 185.0L313.9 184.6L314.7 184.1L315.4 183.5L316.2 183.0L316.9 182.3L317.7 181.5L318.4 180.7L319.2 179.7L319.9 178.6L320.7 177.4L321.4 176.0L322.2 174.5L322.9 172.8L323.7 171.0L324.4 169.1L325.2 167.1L325.9 165.0L326.7 163.0L327.4 160.9L328.2 158.9L328.9 157.1L329.7 155.4L330.4 154.0L331.2 152.9L331.9 152.1L332.7 151.7L333.4 151.7L334.2 152.0L334.9 152.8L335.7 153.9L336.4 155.4L337.2 157.2L337.9 159.3L338.7 161.6L339.4 164.0L340.2 166.5L340.9 169.0L341.7 171.5L342.4 174.0L343.2 176.4L343.9 178.6L344.7 180.6L345.4 182.5L346.2 184.2L346.9 185.7L347.7 187.0L348.4 188.1L349.2 189.1L349.9 189.9L350.7 190.6L351.4 191.1L352.2 191.6L352.9 192.0L353.7 192.3L354.4 192.6L355.2 192.8L355.9 193.0L356.7 193.1L357.4 193.2L358.2 193.3L358.9 193.4L359.7 193.5L360.4 193.6L361.2 193.6L361.9 193.7L362.7 193.7L363.4 193.8L364.2 193.8L364.9 193.9L365.7 193.9L366.4 194.0L367.2 194.0L367.9 194.1L368.7 194.1L369.4 194.1L370.2 194.2L370.9 194.2L371.7 194.3L372.4 194.3L373.2 194.3L373.9 194.4L374.7 194.4L375.4 194.4L376.2 194.5L376.9 194.5" fill="none" stroke="#8c1c16" stroke-width="1.3" stroke-linejoin="round" />
<path d="M220.2 188.8L220.9 188.9L221.7 188.9L222.4 188.9L223.2 188.9L223.9 189.0L224.7 189.0L225.4 189.0L226.2 189.0L226.9 189.1L227.7 189.1L228.4 189.1L229.2 189.2L229.9 189.2L230.7 189.2L231.4 189.2L232.2 189.3L232.9 189.3L233.7 189.3L234.4 189.3L235.2 189.4L235.9 189.4L236.7 189.4L237.4 189.5L238.2 189.5L238.9 189.5L239.7 189.5L240.4 189.6L241.2 189.6L241.9 189.6L242.7 189.7L243.4 189.7L244.2 189.7L244.9 189.7L245.7 189.8L246.4 189.8L247.2 189.8L247.9 189.8L248.7 189.9L249.4 189.9L250.2 189.9L250.9 190.0L251.7 190.0L252.4 190.0L253.2 190.0L253.9 190.1L254.7 190.1L255.4 190.1L256.2 190.1L256.9 190.2L257.7 190.2L258.4 190.2L259.2 190.3L259.9 190.3L260.7 190.3L261.4 190.3L262.2 190.4L262.9 190.4L263.7 190.4L264.4 190.5L265.2 190.5L265.9 190.5L266.7 190.5L267.4 190.6L268.2 190.6L268.9 190.6L269.7 190.6L270.4 190.7L271.2 190.7L271.9 190.7L272.7 190.8L273.4 190.8L274.2 190.8L274.9 190.8L275.7 190.9L276.4 190.9L277.2 190.9L277.9 190.9L278.7 191.0L279.4 191.0L280.2 191.0L280.9 191.1L281.7 191.1L282.4 191.1L283.2 191.1L283.9 191.2L284.7 191.2L285.4 191.2L286.2 191.2L286.9 191.3L287.7 191.3L288.4 191.3L289.2 191.4L289.9 191.4L290.7 191.4L291.4 191.4L292.2 191.5L292.9 191.5L293.7 191.5L294.4 191.6L295.2 191.6L295.9 191.6L296.7 191.6L297.4 191.7L298.2 191.7L298.9 191.7L299.7 191.7L300.4 191.8L301.2 191.8L301.9 191.8L302.7 191.9L303.4 191.9L304.2 191.9L304.9 191.9L305.7 192.0L306.4 192.0L307.2 192.0L307.9 192.0L308.7 192.1L309.4 192.1L310.2 192.1L310.9 192.2L311.7 192.2L312.4 192.2L313.2 192.2L313.9 192.3L314.7 192.3L315.4 192.3L316.2 192.3L316.9 192.4L317.7 192.4L318.4 192.4L319.2 192.5L319.9 192.5L320.7 192.5L321.4 192.5L322.2 192.6L322.9 192.6L323.7 192.6L324.4 192.7L325.2 192.7L325.9 192.7L326.7 192.7L327.4 192.8L328.2 192.8L328.9 192.8L329.7 192.8L330.4 192.9L331.2 192.9L331.9 192.9L332.7 193.0L333.4 193.0L334.2 193.0L334.9 193.0L335.7 193.1L336.4 193.1L337.2 193.1L337.9 193.1L338.7 193.2L339.4 193.2L340.2 193.2L340.9 193.3L341.7 193.3L342.4 193.3L343.2 193.3L343.9 193.4L344.7 193.4L345.4 193.4L346.2 193.5L346.9 193.5L347.7 193.5L348.4 193.5L349.2 193.6L349.9 193.6L350.7 193.6L351.4 193.6L352.2 193.7L352.9 193.7L353.7 193.7L354.4 193.8L355.2 193.8L355.9 193.8L356.7 193.8L357.4 193.9L358.2 193.9L358.9 193.9L359.7 193.9L360.4 194.0L361.2 194.0L361.9 194.0L362.7 194.1L363.4 194.1L364.2 194.1L364.9 194.1L365.7 194.2L366.4 194.2L367.2 194.2L367.9 194.2L368.7 194.3L369.4 194.3L370.2 194.3L370.9 194.4L371.7 194.4L372.4 194.4L373.2 194.4L373.9 194.5L374.7 194.5L375.4 194.5L376.2 194.6L376.9 194.6" fill="none" stroke="#9a62ea" stroke-width="1.4" stroke-linejoin="round" />
<path d="M268.2 190.3L268.9 190.3L269.7 190.2L270.4 190.0L271.2 189.8L271.9 189.6L272.7 189.3L273.4 188.9L274.2 188.3L274.9 187.7L275.7 187.0L276.4 186.1L277.2 185.1L277.9 183.9L278.7 182.6L279.4 181.1L280.2 179.5L280.9 177.8L281.7 176.0L282.4 174.1L283.2 172.2L283.9 170.4L284.7 168.6L285.4 166.9L286.2 165.4L286.9 164.1L287.7 163.1L288.4 162.4L289.2 162.0L289.9 161.9L290.7 162.2L291.4 162.7L292.2 163.7L292.9 164.8L293.7 166.3L294.4 167.9L295.2 169.7L295.9 171.6L296.7 173.5L297.4 175.4L298.2 177.3L298.9 179.2L299.7 180.9L300.4 182.5L301.2 184.0L301.9 185.3L302.7 186.5L303.4 187.5L304.2 188.4L304.9 189.1L305.7 189.7L306.4 190.2L307.2 190.7L307.9 191.0L308.7 191.3L309.4 191.5L310.2 191.7L310.9 191.8" fill="none" stroke="#5ae6a2" stroke-width="1.4" stroke-linejoin="round"/>
<path d="M310.9 191.9L311.7 191.8L312.4 191.7L313.2 191.5L313.9 191.3L314.7 191.1L315.4 190.7L316.2 190.3L316.9 189.7L317.7 189.0L318.4 188.2L319.2 187.2L319.9 186.1L320.7 184.8L321.4 183.3L322.2 181.6L322.9 179.7L323.7 177.7L324.4 175.5L325.2 173.2L325.9 170.8L326.7 168.4L327.4 166.0L328.2 163.7L328.9 161.6L329.7 159.6L330.4 157.9L331.2 156.5L331.9 155.4L332.7 154.8L333.4 154.5L334.2 154.6L334.9 155.2L335.7 156.2L336.4 157.5L337.2 159.1L337.9 161.1L338.7 163.2L339.4 165.5L340.2 167.9L340.9 170.4L341.7 172.8L342.4 175.2L343.2 177.5L343.9 179.7L344.7 181.7L345.4 183.5L346.2 185.1L346.9 186.6L347.7 187.8L348.4 188.9L349.2 189.9L349.9 190.7L350.7 191.3L351.4 191.9L352.2 192.3L352.9 192.7L353.7 192.9L354.4 193.2L355.2 193.4L355.9 193.5" fill="none" stroke="#5ae6a2" stroke-width="1.4" stroke-linejoin="round"/>
<path d="M253.2 189.7L253.9 189.7L254.7 189.7L255.4 189.6L256.2 189.5L256.9 189.4L257.7 189.3L258.4 189.2L259.2 189.1L259.9 188.9L260.7 188.8L261.4 188.6L262.2 188.4L262.9 188.2L263.7 187.9L264.4 187.7L265.2 187.4L265.9 187.2L266.7 186.9L267.4 186.7L268.2 186.5L268.9 186.2L269.7 186.0L270.4 185.8L271.2 185.7L271.9 185.5L272.7 185.4L273.4 185.4L274.2 185.3L274.9 185.3L275.7 185.4L276.4 185.5L277.2 185.6L277.9 185.7L278.7 185.9L279.4 186.1L280.2 186.4L280.9 186.6L281.7 186.9L282.4 187.2L283.2 187.5L283.9 187.8L284.7 188.1L285.4 188.4L286.2 188.7L286.9 189.0L287.7 189.3L288.4 189.5L289.2 189.8L289.9 190.0L290.7 190.2L291.4 190.4L292.2 190.6L292.9 190.7L293.7 190.9L294.4 191.0L295.2 191.1L295.9 191.2L296.7 191.3" fill="none" stroke="#9a62ea" stroke-width="1.4" stroke-linejoin="round"/>
<path d="M295.9 191.3L296.7 191.3L297.4 191.2L298.2 191.2L298.9 191.1L299.7 191.0L300.4 190.9L301.2 190.8L301.9 190.6L302.7 190.5L303.4 190.3L304.2 190.1L304.9 189.8L305.7 189.6L306.4 189.3L307.2 189.1L307.9 188.8L308.7 188.5L309.4 188.2L310.2 187.9L310.9 187.6L311.7 187.3L312.4 187.0L313.2 186.8L313.9 186.5L314.7 186.3L315.4 186.2L316.2 186.1L316.9 186.0L317.7 185.9L318.4 185.9L319.2 186.0L319.9 186.1L320.7 186.2L321.4 186.4L322.2 186.6L322.9 186.8L323.7 187.1L324.4 187.4L325.2 187.8L325.9 188.1L326.7 188.4L327.4 188.8L328.2 189.2L328.9 189.5L329.7 189.8L330.4 190.2L331.2 190.5L331.9 190.8L332.7 191.1L333.4 191.3L334.2 191.6L334.9 191.8L335.7 192.0L336.4 192.2L337.2 192.4L337.9 192.5L338.7 192.7L339.4 192.8L340.2 192.9L340.9 193.0" fill="none" stroke="#9a62ea" stroke-width="1.4" stroke-linejoin="round"/>
<path d="M264.4 187.3L265.2 187.0L265.9 186.7L266.7 186.4L267.4 186.1L268.2 185.8L268.9 185.4L269.7 185.1L270.4 184.7L271.2 184.3L271.9 183.9L272.7 183.4L273.4 182.9L274.2 182.3L274.9 181.6L275.7 180.9L276.4 180.0L277.2 179.1L277.9 178.0L278.7 176.8L279.4 175.5L280.2 174.1L280.9 172.6L281.7 171.0L282.4 169.4L283.2 167.7L283.9 166.1L284.7 164.6L285.4 163.2L286.2 162.0L286.9 160.9L287.7 160.1L288.4 159.6L289.2 159.4L289.9 159.5L290.7 159.9L291.4 160.7L292.2 161.7L292.9 163.0L293.7 164.5L294.4 166.2L295.2 168.0L295.9 169.9L296.7 171.9L297.4 173.8L298.2 175.7L298.9 177.4L299.7 179.1L300.4 180.6L301.2 181.9L301.9 183.1L302.7 184.1L303.4 184.9L304.2 185.5L304.9 186.0L305.7 186.4L306.4 186.6L307.2 186.7L307.9 186.7L308.7 186.7L309.4 186.5L310.2 186.3L310.9 186.1L311.7 185.7L312.4 185.4L313.2 185.0L313.9 184.6L314.7 184.1L315.4 183.5L316.2 183.0L316.9 182.3L317.7 181.5L318.4 180.7L319.2 179.7L319.9 178.6L320.7 177.4L321.4 176.0L322.2 174.5L322.9 172.8L323.7 171.0L324.4 169.1L325.2 167.1L325.9 165.0L326.7 163.0L327.4 160.9L328.2 158.9L328.9 157.1L329.7 155.4L330.4 154.0L331.2 152.9L331.9 152.1L332.7 151.7L333.4 151.7L334.2 152.0L334.9 152.8L335.7 153.9L336.4 155.4L337.2 157.2L337.9 159.3L338.7 161.6L339.4 164.0L340.2 166.5L340.9 169.0L341.7 171.5L342.4 174.0L343.2 176.4L343.9 178.6L344.7 180.6L345.4 182.5L346.2 184.2L346.9 185.7L347.7 187.0L348.4 188.1L349.2 189.1L349.9 189.9L350.7 190.6" fill="none" stroke="#e9b98a" stroke-width="1.7" stroke-linejoin="round"/>
<path d="M264.4 187.3L265.2 187.0L265.9 186.7L266.7 186.4L267.4 186.1L268.2 185.8L268.9 185.4L269.7 185.1L270.4 184.7L271.2 184.3L271.9 183.9L272.7 183.4L273.4 182.9L274.2 182.3L274.9 181.6L275.7 180.9L276.4 180.0L277.2 179.1L277.9 178.0L278.7 176.8L279.4 175.5L280.2 174.1L280.9 172.6L281.7 171.0L282.4 169.4L283.2 167.7L283.9 166.1L284.7 164.6L285.4 163.2L286.2 162.0L286.9 160.9L287.7 160.1L288.4 159.6L289.2 159.4L289.9 159.5L290.7 159.9L291.4 160.7L292.2 161.7L292.9 163.0L293.7 164.5L294.4 166.2L295.2 168.0L295.9 169.9L296.7 171.9L297.4 173.8L298.2 175.7L298.9 177.4L299.7 179.1L300.4 180.6L301.2 181.9L301.9 183.1L302.7 184.1L303.4 184.9L304.2 185.5L304.9 186.0L305.7 186.4L306.4 186.6L307.2 186.7L307.9 186.7L308.7 186.7L309.4 186.5L310.2 186.3L310.9 186.1L311.7 185.7L312.4 185.4L313.2 185.0L313.9 184.6L314.7 184.1L315.4 183.5L316.2 183.0L316.9 182.3L317.7 181.5L318.4 180.7L319.2 179.7L319.9 178.6L320.7 177.4L321.4 176.0L322.2 174.5L322.9 172.8L323.7 171.0L324.4 169.1L325.2 167.1L325.9 165.0L326.7 163.0L327.4 160.9L328.2 158.9L328.9 157.1L329.7 155.4L330.4 154.0L331.2 152.9L331.9 152.1L332.7 151.7L333.4 151.7L334.2 152.0L334.9 152.8L335.7 153.9L336.4 155.4L337.2 157.2L337.9 159.3L338.7 161.6L339.4 164.0L340.2 166.5L340.9 169.0L341.7 171.5L342.4 174.0L343.2 176.4L343.9 178.6L344.7 180.6L345.4 182.5L346.2 184.2L346.9 185.7L347.7 187.0L348.4 188.1L349.2 189.1L349.9 189.9L350.7 190.6" fill="none" stroke="#8c1c16" stroke-width="1.45" stroke-linejoin="round"/>
<text x="222.6" y="150.7" font-size="8.2" fill="#1c1c1c" font-weight="bold" text-anchor="start" stroke="#1c1c1c" stroke-width="0.25" >Pt-Zn@NC-800-10%</text>
<line x1="286.3" y1="40" x2="286.3" y2="200" stroke="#73839a" stroke-width="0.9" stroke-dasharray="3 2.3"/>
<line x1="283.5" y1="100" x2="283.5" y2="200" stroke="#73839a" stroke-width="0.9" stroke-dasharray="3 2.3"/>
<line x1="289.3" y1="157" x2="289.3" y2="200" stroke="#73839a" stroke-width="0.9" stroke-dasharray="3 2.3"/>
<line x1="330.6" y1="36" x2="330.6" y2="200" stroke="#73839a" stroke-width="0.9" stroke-dasharray="3 2.3"/>
<line x1="328.0" y1="92" x2="328.0" y2="200" stroke="#73839a" stroke-width="0.9" stroke-dasharray="3 2.3"/>
<line x1="333.2" y1="152" x2="333.2" y2="200" stroke="#73839a" stroke-width="0.9" stroke-dasharray="3 2.3"/>
<text x="226.5" y="49.3" font-size="8.3" fill="#9a58e8" font-weight="bold">Pt <tspan font-size="4.98" dy="-3.4">2+</tspan><tspan dy="3.4">4f</tspan><tspan font-size="5.15" dy="2.3">5/2</tspan></text>
<text x="343.8" y="51.8" font-size="8.3" fill="#9a58e8" font-weight="bold">Pt <tspan font-size="4.98" dy="-3.4">2+</tspan><tspan dy="3.4">4f</tspan><tspan font-size="5.15" dy="2.3">7/2</tspan></text>
<text x="276.4" y="31.5" font-size="8.2" fill="#38cf80" font-weight="bold">Pt 4f<tspan font-size="5.2" dy="2.2">5/2</tspan></text>
<text x="319.4" y="24.9" font-size="8.2" fill="#38cf80" font-weight="bold">Pt 4f<tspan font-size="5.2" dy="2.2">7/2</tspan></text>
<line x1="265.7" y1="59.2" x2="255.01" y2="55.85" stroke="#111" stroke-width="0.8"/>
<path d="M251.00,54.60 L255.61,53.95 L254.41,57.76 Z" fill="#111"/>
<line x1="321" y1="59.2" x2="338.93" y2="54.55" stroke="#111" stroke-width="0.8"/>
<path d="M343.00,53.50 L339.44,56.49 L338.43,52.62 Z" fill="#111"/>
<rect x="25.5" y="235.8" width="160.00" height="191.70" fill="none" stroke="#141414" stroke-width="1.3"/>
<line x1="25.50" y1="427.5" x2="25.50" y2="430.5" stroke="#141414" stroke-width="1.1"/>
<line x1="62.50" y1="427.5" x2="62.50" y2="430.5" stroke="#141414" stroke-width="1.1"/>
<line x1="100.50" y1="427.5" x2="100.50" y2="430.5" stroke="#141414" stroke-width="1.1"/>
<line x1="137.50" y1="427.5" x2="137.50" y2="430.5" stroke="#141414" stroke-width="1.1"/>
<line x1="175.50" y1="427.5" x2="175.50" y2="430.5" stroke="#141414" stroke-width="1.1"/>
<line x1="44.50" y1="427.5" x2="44.50" y2="429.5" stroke="#141414" stroke-width="1.1"/>
<line x1="81.50" y1="427.5" x2="81.50" y2="429.5" stroke="#141414" stroke-width="1.1"/>
<line x1="119.50" y1="427.5" x2="119.50" y2="429.5" stroke="#141414" stroke-width="1.1"/>
<line x1="156.50" y1="427.5" x2="156.50" y2="429.5" stroke="#141414" stroke-width="1.1"/>
<text x="4.6" y="249.5" font-size="15" fill="#222" font-weight="normal" text-anchor="start" >c)</text>
<text x="25.5" y="440" font-size="10" fill="#1e1e1e" font-weight="normal" text-anchor="middle" stroke="#1e1e1e" stroke-width="0.2" >808</text>
<text x="62.975" y="440" font-size="10" fill="#1e1e1e" font-weight="normal" text-anchor="middle" stroke="#1e1e1e" stroke-width="0.2" >800</text>
<text x="100.45" y="440" font-size="10" fill="#1e1e1e" font-weight="normal" text-anchor="middle" stroke="#1e1e1e" stroke-width="0.2" >792</text>
<text x="137.925" y="440" font-size="10" fill="#1e1e1e" font-weight="normal" text-anchor="middle" stroke="#1e1e1e" stroke-width="0.2" >784</text>
<text x="175.4" y="440" font-size="10" fill="#1e1e1e" font-weight="normal" text-anchor="middle" stroke="#1e1e1e" stroke-width="0.2" >776</text>
<text x="109.2" y="451.0" font-size="10.55" fill="#1c1c1c" font-weight="bold" text-anchor="middle" >Binding energy (eV)</text>
<text x="14.9" y="329.8" font-size="10.6" fill="#1c1c1c" font-weight="bold" text-anchor="middle" transform="rotate(-90 14.9 329.8)">Intensity (a.u.)</text>
<path d="M26.3 290.6L27.3 291.2L28.3 290.0L29.3 290.3L30.3 290.7L31.3 290.2L32.3 289.7L33.3 290.4L34.3 288.9L35.3 288.7L36.3 290.0L37.3 289.8L38.3 289.9L39.3 289.0L40.3 289.8L41.3 289.9L42.3 289.0L43.3 290.3L44.3 286.7L45.3 290.2L46.3 290.2L47.3 289.2L48.3 290.1L49.3 288.1L50.3 289.6L51.3 289.9L52.3 290.6L53.3 290.3L54.3 291.2L55.3 291.8L56.3 292.1L57.3 292.3L58.3 292.8L59.3 293.0L60.3 293.7L61.3 293.7L62.3 293.9L63.3 293.8L64.3 293.6L65.3 291.9L66.3 293.6L67.3 291.4L68.3 292.3L69.3 291.5L70.3 291.2L71.3 290.1L72.3 289.2L73.3 286.5L74.3 286.3L75.3 286.0L76.3 284.9L77.3 285.8L78.3 285.8L79.3 284.6L80.3 284.8L81.3 283.5L82.3 282.2L83.3 282.8L84.3 282.1L85.3 280.2L86.3 282.8L87.3 283.2L88.3 284.1L89.3 286.6L90.3 287.6L91.3 291.0L92.3 291.1L93.3 294.4L94.3 295.8L95.3 296.4L96.3 297.1L97.3 297.1L98.3 297.3L99.3 299.4L100.3 298.8L101.3 297.4L102.3 300.5L103.3 300.4L104.3 301.1L105.3 301.6L106.3 301.5L107.3 301.3L108.3 301.8L109.3 301.8L110.3 300.2L111.3 301.4L112.3 300.6L113.3 302.1L114.3 301.5L115.3 301.8L116.3 300.9L117.3 300.7L118.3 301.7L119.3 300.6L120.3 298.8L121.3 301.1L122.3 300.6L123.3 300.5L124.3 299.6L125.3 297.7L126.3 300.1L127.3 299.9L128.3 298.2L129.3 299.8L130.3 298.2L131.3 299.5L132.3 299.1L133.3 299.0L134.3 299.1L135.3 298.9L136.3 298.8L137.3 299.3L138.3 299.4L139.3 298.6L140.3 298.4L141.3 296.1L142.3 295.3L143.3 292.3L144.3 289.6L145.3 285.9L146.3 282.4L147.3 279.2L148.3 272.8L149.3 271.1L150.3 266.6L151.3 264.5L152.3 264.3L153.3 263.8L154.3 262.8L155.3 262.5L156.3 264.3L157.3 264.5L158.3 267.3L159.3 270.8L160.3 271.1L161.3 279.3L162.3 285.1L163.3 291.5L164.3 295.2L165.3 299.3L166.3 304.7L167.3 310.0L168.3 308.9L169.3 313.9L170.3 313.2L171.3 312.7L172.3 320.4L173.3 321.2L174.3 317.2L175.3 317.9L176.3 322.1L177.3 321.3L178.3 321.4L179.3 322.5L180.3 321.9L181.3 324.5L182.3 324.8L183.3 323.8L184.3 323.0" fill="none" stroke="#c6c6d0" stroke-width="0.7" stroke-linejoin="round" />
<path d="M26.2 291.4L26.9 291.3L27.7 291.2L28.4 291.1L29.2 291.0L29.9 290.9L30.7 290.8L31.4 290.8L32.2 290.7L33.0 290.6L33.7 290.5L34.5 290.5L35.2 290.4L36.0 290.3L36.7 290.3L37.5 290.3L38.2 290.2L39.0 290.2L39.7 290.2L40.5 290.2L41.2 290.2L42.0 290.3L42.7 290.3L43.5 290.3L44.2 290.4L45.0 290.5L45.7 290.6L46.5 290.6L47.2 290.8L48.0 290.9L48.7 291.0L49.5 291.1L50.2 291.3L51.0 291.4L51.7 291.6L52.5 291.8L53.2 291.9L54.0 292.1L54.7 292.3L55.5 292.5L56.2 292.7L57.0 292.9L57.7 293.1L58.5 293.3L59.2 293.5L60.0 293.7L60.7 293.9L61.5 294.1L62.2 294.2L63.0 294.3L63.7 294.3L64.5 294.3L65.2 294.2L66.0 294.0L66.7 293.8L67.5 293.4L68.2 292.9L69.0 292.4L69.7 291.7L70.5 291.0L71.2 290.3L72.0 289.6L72.7 288.9L73.5 288.3L74.2 287.7L75.0 287.3L75.7 286.9L76.5 286.6L77.2 286.4L78.0 286.1L78.7 285.9L79.5 285.5L80.2 285.1L81.0 284.6L81.7 284.1L82.5 283.5L83.2 283.0L84.0 282.6L84.7 282.4L85.5 282.5L86.2 282.9L87.0 283.7L87.7 284.7L88.5 286.0L89.2 287.4L90.0 288.9L90.7 290.5L91.5 291.9L92.2 293.3L93.0 294.5L93.7 295.6L94.5 296.5L95.2 297.3L96.0 297.9L96.7 298.4L97.5 298.9L98.2 299.3L99.0 299.7L99.7 300.0L100.5 300.3L101.2 300.6L102.0 300.9L102.7 301.1L103.5 301.3L104.2 301.5L105.0 301.7L105.7 301.8L106.5 301.9L107.2 302.0L108.0 302.1L108.7 302.2L109.5 302.2L110.2 302.3L111.0 302.3L111.7 302.3L112.5 302.3L113.2 302.3L114.0 302.3L114.7 302.3L115.5 302.2L116.2 302.2L117.0 302.1L117.7 302.1L118.5 302.0L119.2 301.9L120.0 301.8L120.7 301.7L121.5 301.5L122.2 301.4L123.0 301.2L123.7 301.1L124.5 300.9L125.2 300.7L126.0 300.5L126.7 300.4L127.5 300.2L128.2 300.0L128.9 299.9L129.7 299.8L130.4 299.7L131.2 299.6L131.9 299.6L132.7 299.6L133.4 299.6L134.2 299.6L134.9 299.7L135.7 299.8L136.4 299.9L137.2 299.9L137.9 299.9L138.7 299.7L139.4 299.4L140.2 298.9L140.9 298.2L141.7 297.1L142.4 295.7L143.2 294.0L143.9 291.8L144.7 289.4L145.4 286.7L146.2 283.8L146.9 280.8L147.7 277.8L148.4 274.9L149.2 272.3L149.9 270.0L150.7 268.0L151.4 266.4L152.2 265.1L152.9 264.2L153.7 263.6L154.4 263.4L155.2 263.5L155.9 263.9L156.7 264.8L157.4 266.1L158.2 267.9L158.9 270.2L159.7 273.1L160.4 276.4L161.2 280.0L161.9 284.0L162.7 288.2L163.4 292.3L164.2 296.4L164.9 300.3L165.7 303.9L166.4 307.2L167.2 310.1L167.9 312.5L168.7 314.6L169.4 316.3L170.2 317.8L170.9 318.9L171.7 319.9L172.4 320.7L173.2 321.3L173.9 321.9L174.7 322.4L175.4 322.8L176.2 323.2L176.9 323.5L177.7 323.8L178.4 324.1L179.2 324.4L179.9 324.6L180.7 324.9L181.4 325.0L182.2 325.2L182.9 325.3L183.7 325.5L184.4 325.6" fill="none" stroke="#e62a5c" stroke-width="1.7" stroke-linejoin="round" />
<path d="M62.2 295.3L63.0 295.3L63.7 295.3L64.5 295.2L65.2 295.0L66.0 294.8L66.7 294.4L67.5 294.0L68.2 293.5L69.0 292.9L69.7 292.2L70.5 291.5L71.2 290.8L72.0 290.0L72.7 289.4L73.5 288.8L74.2 288.4L75.0 288.2L75.7 288.2L76.5 288.4L77.2 288.8L78.0 289.4L78.7 290.2L79.5 291.1L80.2 292.1L81.0 293.1L81.7 294.2L82.5 295.2L83.2 296.2L84.0 297.1L84.7 297.9L85.5 298.6L86.2 299.2L87.0 299.7L87.7 300.1L88.5 300.4L89.2 300.7" fill="none" stroke="#e8c36e" stroke-width="1.3" stroke-linejoin="round"/>
<path d="M74.2 297.9L75.0 297.8L75.7 297.6L76.5 297.3L77.2 296.8L78.0 296.1L78.7 295.3L79.5 294.2L80.2 293.0L81.0 291.6L81.7 290.2L82.5 288.9L83.2 287.6L84.0 286.6L84.7 286.0L85.5 285.7L86.2 285.8L87.0 286.3L87.7 287.3L88.5 288.5L89.2 290.0L90.0 291.6L90.7 293.2L91.5 294.8L92.2 296.3L93.0 297.5L93.7 298.6L94.5 299.5L95.2 300.2L96.0 300.8L96.7 301.2L97.5 301.5" fill="none" stroke="#2fb0aa" stroke-width="1.3" stroke-linejoin="round"/>
<path d="M81.7 299.6L82.5 299.6L83.2 299.6L84.0 299.6L84.7 299.6L85.5 299.5L86.2 299.4L87.0 299.3L87.7 299.2L88.5 299.1L89.2 299.0L90.0 298.8L90.7 298.7L91.5 298.7L92.2 298.6L93.0 298.6L93.7 298.6L94.5 298.7L95.2 298.8L96.0 299.0L96.7 299.1L97.5 299.4L98.2 299.6L99.0 299.9L99.7 300.1L100.5 300.4L101.2 300.7L102.0 300.9L102.7 301.1L103.5 301.3L104.2 301.5L105.0 301.7L105.7 301.8L106.5 302.0" fill="none" stroke="#8a63e8" stroke-width="1.3" stroke-linejoin="round"/>
<path d="M116.2 302.2L117.0 302.1L117.7 302.1L118.5 302.0L119.2 301.9L120.0 301.8L120.7 301.7L121.5 301.5L122.2 301.4L123.0 301.2L123.7 301.1L124.5 300.9L125.2 300.7L126.0 300.5L126.7 300.4L127.5 300.2L128.2 300.0L128.9 299.9L129.7 299.8L130.4 299.7L131.2 299.6L131.9 299.6L132.7 299.6L133.4 299.6L134.2 299.7L134.9 299.9L135.7 300.0L136.4 300.3L137.2 300.5L137.9 300.8L138.7 301.2L139.4 301.6L140.2 302.0L140.9 302.5L141.7 303.0L142.4 303.6L143.2 304.1L143.9 304.7L144.7 305.4L145.4 306.1L146.2 306.8L146.9 307.5L147.7 308.2L148.4 309.0L149.2 309.8L149.9 310.7L150.7 311.5L151.4 312.3" fill="none" stroke="#4a1434" stroke-width="1.3" stroke-linejoin="round"/>
<path d="M136.4 303.3L137.2 303.2L137.9 303.0L138.7 302.8L139.4 302.3L140.2 301.7L140.9 300.8L141.7 299.6L142.4 298.1L143.2 296.4L143.9 294.4L144.7 292.2L145.4 289.9L146.2 287.7L146.9 285.6L147.7 283.9L148.4 282.7L149.2 282.1L149.9 282.2L150.7 283.0L151.4 284.7L152.2 287.0L152.9 289.8L153.7 293.1L154.4 296.6L155.2 300.1L155.9 303.6L156.7 306.9L157.4 310.0L158.2 312.6L158.9 314.9L159.7 316.9L160.4 318.5L161.2 319.8L161.9 320.9L162.7 321.7L163.4 322.4L164.2 323.0" fill="none" stroke="#e8c36e" stroke-width="1.3" stroke-linejoin="round"/>
<path d="M142.4 305.2L143.2 305.4L143.9 305.5L144.7 305.5L145.4 305.4L146.2 305.1L146.9 304.6L147.7 303.8L148.4 302.7L149.2 301.3L149.9 299.5L150.7 297.4L151.4 294.9L152.2 292.1L152.9 289.1L153.7 286.1L154.4 283.2L155.2 280.6L155.9 278.4L156.7 276.9L157.4 276.0L158.2 276.0L158.9 276.8L159.7 278.5L160.4 281.0L161.2 284.1L161.9 287.7L162.7 291.7L163.4 295.8L164.2 299.9L164.9 303.9L165.7 307.6L166.4 311.0L167.2 314.0L167.9 316.5L168.7 318.6L169.4 320.3L170.2 321.7L170.9 322.8L171.7 323.6L172.4 324.2L173.2 324.7L173.9 325.0L174.7 325.2" fill="none" stroke="#2fb0aa" stroke-width="1.3" stroke-linejoin="round"/>
<path d="M153.7 314.7L154.4 315.4L155.2 316.0L155.9 316.7L156.7 317.2L157.4 317.8L158.2 318.2L158.9 318.6L159.7 319.0L160.4 319.3L161.2 319.5L161.9 319.7L162.7 319.9L163.4 320.0L164.2 320.1L164.9 320.2L165.7 320.3L166.4 320.4L167.2 320.5L167.9 320.6L168.7 320.7L169.4 320.9L170.2 321.1L170.9 321.3L171.7 321.5L172.4 321.8L173.2 322.1L173.9 322.4L174.7 322.7L175.4 323.0L176.2 323.3L176.9 323.6L177.7 323.9L178.4 324.2L179.2 324.4L179.9 324.7L180.7 324.9L181.4 325.0L182.2 325.2L182.9 325.4L183.7 325.5L184.4 325.6" fill="none" stroke="#8a63e8" stroke-width="1.3" stroke-linejoin="round"/>
<path d="M26.2 291.4L26.9 291.3L27.7 291.2L28.4 291.1L29.2 291.0L29.9 290.9L30.7 290.8L31.4 290.8L32.2 290.7L33.0 290.6L33.7 290.5L34.5 290.5L35.2 290.4L36.0 290.3L36.7 290.3L37.5 290.3L38.2 290.2L39.0 290.2L39.7 290.2L40.5 290.2L41.2 290.2L42.0 290.3L42.7 290.3L43.5 290.3L44.2 290.4L45.0 290.5L45.7 290.6L46.5 290.6L47.2 290.8L48.0 290.9L48.7 291.0L49.5 291.1L50.2 291.3L51.0 291.4L51.7 291.6L52.5 291.8L53.2 291.9L54.0 292.1L54.7 292.3L55.5 292.5L56.2 292.7L57.0 292.9L57.7 293.1L58.5 293.4L59.2 293.6L60.0 293.8L60.7 294.0L61.5 294.3L62.2 294.5L63.0 294.7L63.7 295.0L64.5 295.2L65.2 295.4L66.0 295.7L66.7 295.9L67.5 296.1L68.2 296.3L69.0 296.6L69.7 296.8L70.5 297.0" fill="none" stroke="#4a1434" stroke-width="1.4" stroke-linejoin="round"/>
<path d="M26.2 293.1L26.9 293.1L27.7 293.1L28.4 293.1L29.2 293.1L29.9 293.1L30.7 293.2L31.4 293.2L32.2 293.2L33.0 293.2L33.7 293.2L34.5 293.2L35.2 293.2L36.0 293.3L36.7 293.3L37.5 293.3L38.2 293.3L39.0 293.3L39.7 293.4L40.5 293.4L41.2 293.4L42.0 293.5L42.7 293.5L43.5 293.5L44.2 293.6L45.0 293.6L45.7 293.6L46.5 293.7L47.2 293.7L48.0 293.8L48.7 293.9L49.5 293.9L50.2 294.0L51.0 294.0L51.7 294.1L52.5 294.2L53.2 294.3L54.0 294.4L54.7 294.4L55.5 294.5L56.2 294.6L57.0 294.7L57.7 294.9L58.5 295.0L59.2 295.1L60.0 295.2L60.7 295.3L61.5 295.5L62.2 295.6L63.0 295.8L63.7 295.9L64.5 296.1L65.2 296.2L66.0 296.4L66.7 296.6L67.5 296.7L68.2 296.9L69.0 297.1L69.7 297.3L70.5 297.4L71.2 297.6L72.0 297.8L72.7 298.0L73.5 298.1L74.2 298.3L75.0 298.5L75.7 298.7L76.5 298.9L77.2 299.0L78.0 299.2L78.7 299.4L79.5 299.5L80.2 299.7L81.0 299.8L81.7 300.0L82.5 300.1L83.2 300.2L84.0 300.4L84.7 300.5L85.5 300.6L86.2 300.7L87.0 300.8L87.7 300.9L88.5 301.0L89.2 301.1L90.0 301.2L90.7 301.3L91.5 301.4L92.2 301.5L93.0 301.5L93.7 301.6L94.5 301.7L95.2 301.7L96.0 301.8L96.7 301.9L97.5 301.9L98.2 301.9L99.0 302.0L99.7 302.0L100.5 302.1L101.2 302.1L102.0 302.1L102.7 302.2L103.5 302.2L104.2 302.2L105.0 302.3L105.7 302.3L106.5 302.3L107.2 302.3L108.0 302.3L108.7 302.4L109.5 302.4L110.2 302.4L111.0 302.4L111.7 302.4L112.5 302.4L113.2 302.5L114.0 302.5L114.7 302.5L115.5 302.5L116.2 302.5L117.0 302.5L117.7 302.5L118.5 302.6L119.2 302.6L120.0 302.6L120.7 302.6L121.5 302.6L122.2 302.6L123.0 302.6L123.7 302.7L124.5 302.7L125.2 302.7L126.0 302.7L126.7 302.8L127.5 302.8L128.2 302.8L128.9 302.9L129.7 302.9L130.4 303.0L131.2 303.0L131.9 303.1L132.7 303.1L133.4 303.2L134.2 303.3L134.9 303.4L135.7 303.5L136.4 303.7L137.2 303.8L137.9 304.0L138.7 304.2L139.4 304.4L140.2 304.7L140.9 304.9L141.7 305.2L142.4 305.6L143.2 306.0L143.9 306.4L144.7 306.8L145.4 307.3L146.2 307.9L146.9 308.4L147.7 309.1L148.4 309.7L149.2 310.4L149.9 311.1L150.7 311.9L151.4 312.7L152.2 313.4L152.9 314.2L153.7 315.0L154.4 315.8L155.2 316.6L155.9 317.4L156.7 318.1L157.4 318.8L158.2 319.5L158.9 320.1L159.7 320.7L160.4 321.2L161.2 321.7L161.9 322.2L162.7 322.6L163.4 323.0L164.2 323.3L164.9 323.6L165.7 323.9L166.4 324.1L167.2 324.4L167.9 324.6L168.7 324.7L169.4 324.9L170.2 325.0L170.9 325.1L171.7 325.2L172.4 325.3L173.2 325.4L173.9 325.5L174.7 325.6L175.4 325.6L176.2 325.7L176.9 325.7L177.7 325.7L178.4 325.8L179.2 325.8L179.9 325.8L180.7 325.8L181.4 325.9L182.2 325.9L182.9 325.9L183.7 325.9L184.4 325.9" fill="none" stroke="#4a1434" stroke-width="1.5" stroke-linejoin="round" />
<text x="28.3" y="246.8" font-size="8.2" fill="#1c1c1c" font-weight="bold" text-anchor="start" stroke="#1c1c1c" stroke-width="0.25" >Pt-CoZn@NC-800-10%</text>
<path d="M26.3 373.6L27.3 374.0L28.3 374.1L29.3 373.5L30.3 373.3L31.3 372.8L32.3 372.5L33.3 372.3L34.3 373.2L35.3 372.6L36.3 371.9L37.3 371.0L38.3 372.6L39.3 371.7L40.3 370.1L41.3 372.6L42.3 372.5L43.3 372.3L44.3 370.7L45.3 371.9L46.3 372.9L47.3 372.3L48.3 373.3L49.3 373.6L50.3 372.5L51.3 372.3L52.3 374.3L53.3 372.6L54.3 374.2L55.3 374.8L56.3 374.2L57.3 372.4L58.3 375.6L59.3 374.6L60.3 375.6L61.3 374.1L62.3 376.1L63.3 376.4L64.3 375.2L65.3 375.1L66.3 375.5L67.3 374.9L68.3 372.5L69.3 372.6L70.3 372.8L71.3 370.8L72.3 369.8L73.3 369.7L74.3 369.0L75.3 367.3L76.3 365.3L77.3 367.3L78.3 367.1L79.3 365.9L80.3 366.5L81.3 367.3L82.3 367.1L83.3 366.9L84.3 366.0L85.3 367.6L86.3 368.3L87.3 369.6L88.3 370.2L89.3 371.5L90.3 372.9L91.3 373.9L92.3 373.6L93.3 376.6L94.3 377.0L95.3 379.7L96.3 380.9L97.3 382.0L98.3 381.2L99.3 382.5L100.3 383.8L101.3 384.3L102.3 384.2L103.3 385.1L104.3 382.7L105.3 386.4L106.3 385.4L107.3 385.8L108.3 386.6L109.3 387.2L110.3 387.1L111.3 385.2L112.3 386.6L113.3 386.6L114.3 385.4L115.3 386.4L116.3 385.1L117.3 386.8L118.3 384.7L119.3 383.8L120.3 385.1L121.3 385.3L122.3 383.8L123.3 385.0L124.3 383.9L125.3 383.9L126.3 384.9L127.3 383.3L128.3 383.3L129.3 384.1L130.3 383.3L131.3 384.0L132.3 383.5L133.3 382.2L134.3 382.5L135.3 382.0L136.3 381.9L137.3 380.9L138.3 380.6L139.3 380.6L140.3 379.5L141.3 376.6L142.3 374.1L143.3 372.4L144.3 371.3L145.3 367.3L146.3 365.2L147.3 363.0L148.3 360.7L149.3 359.1L150.3 357.5L151.3 354.6L152.3 354.5L153.3 353.2L154.3 351.9L155.3 352.3L156.3 352.6L157.3 353.0L158.3 353.9L159.3 355.2L160.3 358.3L161.3 361.4L162.3 364.0L163.3 369.4L164.3 373.8L165.3 381.1L166.3 386.8L167.3 391.6L168.3 395.7L169.3 395.9L170.3 400.3L171.3 404.5L172.3 403.7L173.3 402.8L174.3 408.4L175.3 407.0L176.3 410.4L177.3 410.0L178.3 407.6L179.3 411.7L180.3 408.5L181.3 409.5L182.3 412.2L183.3 408.2L184.3 413.0" fill="none" stroke="#c6c6d0" stroke-width="0.7" stroke-linejoin="round" />
<path d="M26.2 374.6L26.9 374.5L27.7 374.3L28.4 374.2L29.2 374.0L29.9 373.9L30.7 373.8L31.4 373.6L32.2 373.5L33.0 373.4L33.7 373.2L34.5 373.1L35.2 373.0L36.0 373.0L36.7 372.9L37.5 372.8L38.2 372.8L39.0 372.7L39.7 372.7L40.5 372.7L41.2 372.7L42.0 372.7L42.7 372.8L43.5 372.8L44.2 372.9L45.0 373.0L45.7 373.0L46.5 373.2L47.2 373.3L48.0 373.4L48.7 373.5L49.5 373.7L50.2 373.8L51.0 374.0L51.7 374.2L52.5 374.3L53.2 374.5L54.0 374.7L54.7 374.9L55.5 375.1L56.2 375.3L57.0 375.4L57.7 375.6L58.5 375.8L59.2 376.0L60.0 376.1L60.7 376.2L61.5 376.4L62.2 376.4L63.0 376.4L63.7 376.4L64.5 376.3L65.2 376.2L66.0 376.0L66.7 375.7L67.5 375.3L68.2 374.8L69.0 374.2L69.7 373.6L70.5 372.9L71.2 372.1L72.0 371.4L72.7 370.6L73.5 369.9L74.2 369.2L75.0 368.6L75.7 368.1L76.5 367.8L77.2 367.5L78.0 367.3L78.7 367.2L79.5 367.2L80.2 367.3L81.0 367.4L81.7 367.5L82.5 367.6L83.2 367.8L84.0 368.0L84.7 368.3L85.5 368.6L86.2 369.0L87.0 369.5L87.7 370.1L88.5 370.8L89.2 371.7L90.0 372.6L90.7 373.7L91.5 374.8L92.2 375.9L93.0 377.0L93.7 378.0L94.5 379.1L95.2 380.0L96.0 380.9L96.7 381.7L97.5 382.4L98.2 383.1L99.0 383.7L99.7 384.2L100.5 384.7L101.2 385.1L102.0 385.5L102.7 385.8L103.5 386.1L104.2 386.4L105.0 386.6L105.7 386.8L106.5 387.0L107.2 387.1L108.0 387.2L108.7 387.3L109.5 387.4L110.2 387.4L111.0 387.4L111.7 387.4L112.5 387.4L113.2 387.3L114.0 387.3L114.7 387.2L115.5 387.1L116.2 387.0L117.0 386.9L117.7 386.8L118.5 386.6L119.2 386.5L120.0 386.3L120.7 386.2L121.5 386.0L122.2 385.8L123.0 385.7L123.7 385.5L124.5 385.3L125.2 385.2L126.0 385.0L126.7 384.9L127.5 384.8L128.2 384.7L128.9 384.6L129.7 384.5L130.4 384.4L131.2 384.3L131.9 384.3L132.7 384.2L133.4 384.1L134.2 384.0L134.9 383.8L135.7 383.6L136.4 383.3L137.2 382.9L137.9 382.4L138.7 381.7L139.4 380.8L140.2 379.8L140.9 378.6L141.7 377.2L142.4 375.7L143.2 374.0L143.9 372.2L144.7 370.3L145.4 368.4L146.2 366.5L146.9 364.6L147.7 362.8L148.4 361.1L149.2 359.6L149.9 358.2L150.7 357.0L151.4 355.9L152.2 355.0L152.9 354.2L153.7 353.6L154.4 353.1L155.2 352.8L155.9 352.7L156.7 352.8L157.4 353.3L158.2 354.2L158.9 355.6L159.7 357.4L160.4 359.7L161.2 362.5L161.9 365.8L162.7 369.4L163.4 373.3L164.2 377.3L164.9 381.4L165.7 385.4L166.4 389.2L167.2 392.8L167.9 396.0L168.7 398.9L169.4 401.4L170.2 403.5L170.9 405.3L171.7 406.8L172.4 408.1L173.2 409.1L173.9 409.9L174.7 410.6L175.4 411.1L176.2 411.6L176.9 412.0L177.7 412.3L178.4 412.6L179.2 412.9L179.9 413.1L180.7 413.3L181.4 413.5L182.2 413.7L182.9 413.8L183.7 413.9L184.4 414.0" fill="none" stroke="#e62a5c" stroke-width="1.7" stroke-linejoin="round" />
<path d="M61.5 378.0L62.2 377.9L63.0 377.8L63.7 377.7L64.5 377.5L65.2 377.2L66.0 376.9L66.7 376.5L67.5 376.0L68.2 375.5L69.0 374.9L69.7 374.2L70.5 373.4L71.2 372.6L72.0 371.9L72.7 371.1L73.5 370.4L74.2 369.8L75.0 369.3L75.7 369.0L76.5 368.8L77.2 368.9L78.0 369.1L78.7 369.6L79.5 370.2L80.2 371.0L81.0 371.9L81.7 372.9L82.5 374.0L83.2 375.2L84.0 376.4L84.7 377.5L85.5 378.6L86.2 379.7L87.0 380.7L87.7 381.5L88.5 382.3L89.2 383.0L90.0 383.6L90.7 384.2L91.5 384.6L92.2 385.0L93.0 385.3L93.7 385.6" fill="none" stroke="#e8c36e" stroke-width="1.3" stroke-linejoin="round"/>
<path d="M75.0 380.3L75.7 380.3L76.5 380.3L77.2 380.2L78.0 380.0L78.7 379.7L79.5 379.3L80.2 378.8L81.0 378.2L81.7 377.6L82.5 376.9L83.2 376.3L84.0 375.6L84.7 375.1L85.5 374.6L86.2 374.4L87.0 374.3L87.7 374.5L88.5 374.9L89.2 375.5L90.0 376.2L90.7 377.1L91.5 378.1L92.2 379.2L93.0 380.3L93.7 381.3L94.5 382.3L95.2 383.2L96.0 384.0L96.7 384.7L97.5 385.2L98.2 385.7L99.0 386.1L99.7 386.4L100.5 386.7" fill="none" stroke="#2fb0aa" stroke-width="1.3" stroke-linejoin="round"/>
<path d="M82.5 382.6L83.2 382.7L84.0 382.8L84.7 382.9L85.5 383.0L86.2 383.0L87.0 383.1L87.7 383.1L88.5 383.0L89.2 383.0L90.0 383.0L90.7 382.9L91.5 382.9L92.2 382.9L93.0 383.0L93.7 383.0L94.5 383.1L95.2 383.2L96.0 383.4L96.7 383.6L97.5 383.9L98.2 384.1L99.0 384.4L99.7 384.7L100.5 385.1L101.2 385.4L102.0 385.7L102.7 386.0L103.5 386.3L104.2 386.5L105.0 386.8L105.7 387.0L106.5 387.1L107.2 387.3" fill="none" stroke="#8a63e8" stroke-width="1.3" stroke-linejoin="round"/>
<path d="M110.2 387.5L111.0 387.5L111.7 387.5L112.5 387.4L113.2 387.4L114.0 387.3L114.7 387.2L115.5 387.1L116.2 387.0L117.0 386.9L117.7 386.8L118.5 386.6L119.2 386.5L120.0 386.3L120.7 386.2L121.5 386.0L122.2 385.8L123.0 385.7L123.7 385.5L124.5 385.3L125.2 385.2L126.0 385.0L126.7 384.9L127.5 384.8L128.2 384.7L128.9 384.6L129.7 384.6L130.4 384.6L131.2 384.6L131.9 384.7L132.7 384.8L133.4 384.9L134.2 385.1L134.9 385.3L135.7 385.6L136.4 385.9L137.2 386.2L137.9 386.6L138.7 387.0L139.4 387.5L140.2 388.0L140.9 388.6L141.7 389.2L142.4 389.8L143.2 390.5L143.9 391.2L144.7 392.0L145.4 392.8L146.2 393.6L146.9 394.5L147.7 395.4L148.4 396.3L149.2 397.2L149.9 398.1L150.7 399.0L151.4 400.0L152.2 400.9L152.9 401.8L153.7 402.7L154.4 403.6L155.2 404.4L155.9 405.2" fill="none" stroke="#4a1434" stroke-width="1.3" stroke-linejoin="round"/>
<path d="M131.9 388.8L132.7 388.7L133.4 388.6L134.2 388.5L134.9 388.3L135.7 388.0L136.4 387.6L137.2 387.0L137.9 386.3L138.7 385.5L139.4 384.5L140.2 383.3L140.9 381.9L141.7 380.4L142.4 378.7L143.2 376.9L143.9 375.0L144.7 373.0L145.4 371.2L146.2 369.4L146.9 367.8L147.7 366.5L148.4 365.5L149.2 364.9L149.9 364.7L150.7 365.0L151.4 365.8L152.2 367.1L152.9 368.9L153.7 371.0L154.4 373.5L155.2 376.3L155.9 379.3L156.7 382.4L157.4 385.6L158.2 388.7L158.9 391.7L159.7 394.6L160.4 397.3L161.2 399.8L161.9 402.0L162.7 404.0L163.4 405.7L164.2 407.2L164.9 408.4L165.7 409.5L166.4 410.4L167.2 411.1L167.9 411.7L168.7 412.2L169.4 412.6L170.2 412.9" fill="none" stroke="#e8c36e" stroke-width="1.3" stroke-linejoin="round"/>
<path d="M143.9 393.4L144.7 393.8L145.4 394.2L146.2 394.5L146.9 394.7L147.7 394.7L148.4 394.6L149.2 394.3L149.9 393.8L150.7 392.9L151.4 391.8L152.2 390.3L152.9 388.6L153.7 386.5L154.4 384.3L155.2 382.0L155.9 379.6L156.7 377.5L157.4 375.6L158.2 374.1L158.9 373.1L159.7 372.7L160.4 373.1L161.2 374.1L161.9 375.7L162.7 378.0L163.4 380.7L164.2 383.8L164.9 387.1L165.7 390.5L166.4 393.8L167.2 397.0L167.9 400.0L168.7 402.6L169.4 405.0L170.2 407.0L170.9 408.6L171.7 410.0L172.4 411.0L173.2 411.9L173.9 412.5L174.7 413.0L175.4 413.4L176.2 413.6" fill="none" stroke="#2fb0aa" stroke-width="1.3" stroke-linejoin="round"/>
<path d="M155.2 404.5L155.9 405.2L156.7 405.8L157.4 406.4L158.2 406.9L158.9 407.4L159.7 407.8L160.4 408.2L161.2 408.5L161.9 408.8L162.7 409.0L163.4 409.2L164.2 409.3L164.9 409.5L165.7 409.6L166.4 409.7L167.2 409.8L167.9 409.9L168.7 410.0L169.4 410.2L170.2 410.3L170.9 410.5L171.7 410.6L172.4 410.8L173.2 411.1L173.9 411.3L174.7 411.5L175.4 411.8L176.2 412.0L176.9 412.3L177.7 412.5L178.4 412.7L179.2 413.0L179.9 413.2L180.7 413.3L181.4 413.5L182.2 413.7L182.9 413.8L183.7 413.9L184.4 414.0" fill="none" stroke="#8a63e8" stroke-width="1.3" stroke-linejoin="round"/>
<path d="M26.2 374.6L26.9 374.5L27.7 374.3L28.4 374.2L29.2 374.0L29.9 373.9L30.7 373.8L31.4 373.6L32.2 373.5L33.0 373.4L33.7 373.2L34.5 373.1L35.2 373.0L36.0 373.0L36.7 372.9L37.5 372.8L38.2 372.8L39.0 372.7L39.7 372.7L40.5 372.7L41.2 372.7L42.0 372.7L42.7 372.8L43.5 372.8L44.2 372.9L45.0 373.0L45.7 373.0L46.5 373.2L47.2 373.3L48.0 373.4L48.7 373.5L49.5 373.7L50.2 373.8L51.0 374.0L51.7 374.2L52.5 374.3L53.2 374.5L54.0 374.7L54.7 374.9L55.5 375.1L56.2 375.3L57.0 375.5L57.7 375.7L58.5 375.9L59.2 376.1L60.0 376.3L60.7 376.5L61.5 376.7L62.2 376.9L63.0 377.1L63.7 377.3L64.5 377.5L65.2 377.7L66.0 377.9L66.7 378.1L67.5 378.3L68.2 378.5L69.0 378.7L69.7 379.0L70.5 379.2L71.2 379.4L72.0 379.6" fill="none" stroke="#4a1434" stroke-width="1.4" stroke-linejoin="round"/>
<path d="M26.2 377.3L26.9 377.3L27.7 377.3L28.4 377.3L29.2 377.3L29.9 377.3L30.7 377.3L31.4 377.3L32.2 377.3L33.0 377.3L33.7 377.4L34.5 377.4L35.2 377.4L36.0 377.4L36.7 377.4L37.5 377.4L38.2 377.4L39.0 377.4L39.7 377.4L40.5 377.4L41.2 377.4L42.0 377.4L42.7 377.4L43.5 377.4L44.2 377.5L45.0 377.5L45.7 377.5L46.5 377.5L47.2 377.5L48.0 377.5L48.7 377.6L49.5 377.6L50.2 377.6L51.0 377.6L51.7 377.7L52.5 377.7L53.2 377.7L54.0 377.8L54.7 377.8L55.5 377.8L56.2 377.9L57.0 377.9L57.7 378.0L58.5 378.0L59.2 378.1L60.0 378.2L60.7 378.2L61.5 378.3L62.2 378.4L63.0 378.5L63.7 378.6L64.5 378.7L65.2 378.8L66.0 378.9L66.7 379.0L67.5 379.1L68.2 379.3L69.0 379.4L69.7 379.5L70.5 379.7L71.2 379.8L72.0 380.0L72.7 380.2L73.5 380.4L74.2 380.6L75.0 380.7L75.7 381.0L76.5 381.2L77.2 381.4L78.0 381.6L78.7 381.8L79.5 382.0L80.2 382.3L81.0 382.5L81.7 382.7L82.5 382.9L83.2 383.2L84.0 383.4L84.7 383.6L85.5 383.8L86.2 384.1L87.0 384.3L87.7 384.5L88.5 384.7L89.2 384.9L90.0 385.1L90.7 385.3L91.5 385.4L92.2 385.6L93.0 385.8L93.7 385.9L94.5 386.1L95.2 386.2L96.0 386.4L96.7 386.5L97.5 386.6L98.2 386.7L99.0 386.9L99.7 387.0L100.5 387.1L101.2 387.1L102.0 387.2L102.7 387.3L103.5 387.4L104.2 387.4L105.0 387.5L105.7 387.6L106.5 387.6L107.2 387.7L108.0 387.7L108.7 387.8L109.5 387.8L110.2 387.9L111.0 387.9L111.7 387.9L112.5 388.0L113.2 388.0L114.0 388.0L114.7 388.1L115.5 388.1L116.2 388.1L117.0 388.2L117.7 388.2L118.5 388.2L119.2 388.2L120.0 388.3L120.7 388.3L121.5 388.3L122.2 388.4L123.0 388.4L123.7 388.4L124.5 388.5L125.2 388.5L126.0 388.6L126.7 388.6L127.5 388.7L128.2 388.7L128.9 388.8L129.7 388.9L130.4 389.0L131.2 389.0L131.9 389.2L132.7 389.3L133.4 389.4L134.2 389.5L134.9 389.7L135.7 389.9L136.4 390.1L137.2 390.3L137.9 390.6L138.7 390.9L139.4 391.2L140.2 391.5L140.9 391.9L141.7 392.3L142.4 392.7L143.2 393.2L143.9 393.7L144.7 394.3L145.4 394.9L146.2 395.5L146.9 396.2L147.7 396.9L148.4 397.6L149.2 398.4L149.9 399.2L150.7 400.0L151.4 400.8L152.2 401.6L152.9 402.4L153.7 403.2L154.4 404.0L155.2 404.8L155.9 405.6L156.7 406.3L157.4 407.0L158.2 407.6L158.9 408.2L159.7 408.8L160.4 409.3L161.2 409.8L161.9 410.3L162.7 410.7L163.4 411.1L164.2 411.5L164.9 411.8L165.7 412.1L166.4 412.3L167.2 412.6L167.9 412.8L168.7 413.0L169.4 413.1L170.2 413.3L170.9 413.4L171.7 413.6L172.4 413.7L173.2 413.8L173.9 413.8L174.7 413.9L175.4 414.0L176.2 414.0L176.9 414.1L177.7 414.1L178.4 414.2L179.2 414.2L179.9 414.3L180.7 414.3L181.4 414.3L182.2 414.3L182.9 414.4L183.7 414.4L184.4 414.4" fill="none" stroke="#4a1434" stroke-width="1.5" stroke-linejoin="round" />
<text x="28.3" y="341.5" font-size="8.2" fill="#1c1c1c" font-weight="bold" text-anchor="start" stroke="#1c1c1c" stroke-width="0.25" >Pt-Co@NC-800-10%</text>
<text x="156.1" y="246.8" font-size="8.9" fill="#1c1c1c" font-weight="bold" text-anchor="start" >Co 2p</text>
<text x="74.3" y="277.3" font-size="9.3" fill="#e62a5c" font-weight="bold">2p<tspan font-size="5.95" dy="1.9">1/2</tspan></text>
<text x="150.2" y="259.3" font-size="9.3" fill="#e62a5c" font-weight="bold">2p<tspan font-size="5.95" dy="1.9">3/2</tspan></text>
<text x="35.0" y="285" font-size="9.0" fill="#3e1444" font-weight="normal" text-anchor="start" stroke="#3e1444" stroke-width="0.15" >Sat.</text>
<text x="119.3" y="292.8" font-size="9.0" fill="#3e1444" font-weight="normal" text-anchor="start" stroke="#3e1444" stroke-width="0.15" >Sat.</text>
<text x="123.0" y="277.4" font-size="9.0" fill="#dcb457" font-weight="bold">Co<tspan font-size="5.04" dy="-3.3">2+</tspan></text>
<text x="168.8" y="274.5" font-size="9.0" fill="#2a8db4" font-weight="bold">Co<tspan font-size="5.04" dy="-3.3">0</tspan></text>
<text x="123.6" y="363.5" font-size="9.0" fill="#dcb457" font-weight="bold">Co<tspan font-size="5.04" dy="-3.3">2+</tspan></text>
<text x="169.4" y="372.0" font-size="9.0" fill="#2a8db4" font-weight="bold">Co<tspan font-size="5.04" dy="-3.3">0</tspan></text>
<line x1="146.5" y1="280.2" x2="142.92" y2="278.81" stroke="#111" stroke-width="0.8"/>
<path d="M139.00,277.30 L143.64,276.95 L142.20,280.68 Z" fill="#111"/>
<line x1="161.8" y1="275.3" x2="163.88" y2="274.50" stroke="#111" stroke-width="0.8"/>
<path d="M167.80,273.00 L164.59,276.37 L163.16,272.64 Z" fill="#111"/>
<line x1="147.5" y1="366.2" x2="143.75" y2="364.84" stroke="#111" stroke-width="0.8"/>
<path d="M139.80,363.40 L144.43,362.96 L143.06,366.71 Z" fill="#111"/>
<line x1="162.5" y1="373.2" x2="165.28" y2="372.12" stroke="#111" stroke-width="0.8"/>
<path d="M169.20,370.60 L166.01,373.98 L164.56,370.25 Z" fill="#111"/>
<rect x="217.5" y="235.5" width="161.00" height="191.30" fill="none" stroke="#141414" stroke-width="1.3"/>
<line x1="227.50" y1="426.8" x2="227.50" y2="429.8" stroke="#141414" stroke-width="1.1"/>
<line x1="264.50" y1="426.8" x2="264.50" y2="429.8" stroke="#141414" stroke-width="1.1"/>
<line x1="302.50" y1="426.8" x2="302.50" y2="429.8" stroke="#141414" stroke-width="1.1"/>
<line x1="340.50" y1="426.8" x2="340.50" y2="429.8" stroke="#141414" stroke-width="1.1"/>
<line x1="378.50" y1="426.8" x2="378.50" y2="429.8" stroke="#141414" stroke-width="1.1"/>
<line x1="245.50" y1="426.8" x2="245.50" y2="428.8" stroke="#141414" stroke-width="1.1"/>
<line x1="283.50" y1="426.8" x2="283.50" y2="428.8" stroke="#141414" stroke-width="1.1"/>
<line x1="321.50" y1="426.8" x2="321.50" y2="428.8" stroke="#141414" stroke-width="1.1"/>
<line x1="359.50" y1="426.8" x2="359.50" y2="428.8" stroke="#141414" stroke-width="1.1"/>
<text x="197" y="250" font-size="15" fill="#222" font-weight="normal" text-anchor="start" >d)</text>
<text x="227.0" y="439.2" font-size="10" fill="#1e1e1e" font-weight="normal" text-anchor="middle" stroke="#1e1e1e" stroke-width="0.2" >1048</text>
<text x="264.875" y="439.2" font-size="10" fill="#1e1e1e" font-weight="normal" text-anchor="middle" stroke="#1e1e1e" stroke-width="0.2" >1040</text>
<text x="302.75" y="439.2" font-size="10" fill="#1e1e1e" font-weight="normal" text-anchor="middle" stroke="#1e1e1e" stroke-width="0.2" >1032</text>
<text x="340.625" y="439.2" font-size="10" fill="#1e1e1e" font-weight="normal" text-anchor="middle" stroke="#1e1e1e" stroke-width="0.2" >1024</text>
<text x="378.5" y="439.2" font-size="10" fill="#1e1e1e" font-weight="normal" text-anchor="middle" stroke="#1e1e1e" stroke-width="0.2" >1016</text>
<text x="300" y="451.2" font-size="10.55" fill="#1c1c1c" font-weight="bold" text-anchor="middle" >Binding energy (eV)</text>
<text x="207.6" y="333.9" font-size="10.6" fill="#1c1c1c" font-weight="bold" text-anchor="middle" transform="rotate(-90 207.6 333.9)">Intensity (a.u.)</text>
<path d="M218.3 335.8L218.9 344.0L219.4 341.3L220.0 336.6L220.5 342.8L221.1 323.6L221.6 332.1L222.2 328.7L222.7 342.7L223.3 334.4L223.8 317.6L224.4 339.7L224.9 323.6L225.5 335.3L226.0 326.4L226.6 331.3L227.1 333.9L227.7 330.6L228.2 322.4L228.8 338.6L229.3 331.3L229.9 328.1L230.4 332.8L231.0 323.7L231.5 339.3L232.1 327.7L232.6 327.8L233.2 326.6L233.7 316.6L234.3 313.3L234.8 321.3L235.4 320.5L235.9 325.4L236.5 317.1L237.0 304.3L237.6 313.7L238.1 314.0L238.7 313.6L239.2 307.5L239.8 295.4L240.3 311.2L240.9 297.6L241.4 306.8L242.0 292.5L242.5 310.2L243.1 301.1L243.6 316.2L244.2 323.1L244.7 321.2L245.3 306.9L245.8 310.4L246.4 312.6L246.9 324.7L247.5 323.7L248.0 323.3L248.6 325.1L249.1 327.5L249.7 328.4L250.2 335.9L250.8 323.8L251.3 325.7L251.9 311.6L252.4 315.1L253.0 319.5L253.5 316.0L254.1 325.8L254.6 331.4L255.2 321.0L255.7 320.6L256.3 320.4L256.8 324.8L257.4 320.0L257.9 326.7L258.5 325.7L259.0 325.9L259.6 328.8L260.1 323.5L260.7 324.2L261.2 335.4L261.8 322.7L262.3 328.5L262.9 323.2L263.4 319.5L264.0 319.4L264.5 316.8L265.1 322.5L265.6 318.1L266.2 319.3L266.7 330.7L267.3 321.1L267.8 329.9L268.4 323.7L268.9 327.8L269.5 317.3L270.0 322.5L270.6 334.0L271.1 327.1L271.7 328.2L272.2 322.7L272.8 327.0L273.3 312.8L273.9 314.8L274.4 323.7L275.0 326.3L275.5 317.6L276.1 319.0L276.6 317.7L277.2 318.8L277.7 311.6L278.3 309.9L278.8 319.2L279.4 307.5L279.9 312.7L280.5 314.9L281.0 312.0L281.6 320.9L282.1 316.0L282.7 318.5L283.2 311.8L283.8 313.6L284.3 322.3L284.9 321.1L285.4 315.2L286.0 320.9L286.5 319.5L287.1 319.2L287.6 329.2L288.2 315.1L288.7 320.7L289.3 320.6L289.8 315.9L290.4 309.3L290.9 322.2L291.5 319.0L292.0 317.4L292.6 317.1L293.1 317.0L293.7 310.5L294.2 318.7L294.8 304.2L295.3 316.2L295.9 305.8L296.4 313.7L297.0 321.1L297.5 314.1L298.1 312.5L298.6 319.3L299.2 313.7L299.7 312.6L300.3 312.6L300.8 325.8L301.4 319.8L301.9 318.4L302.5 306.6L303.0 319.1L303.6 305.6L304.1 317.9L304.7 306.6L305.2 327.3L305.8 302.4L306.3 322.7L306.9 319.6L307.4 301.7L308.0 312.1L308.5 323.8L309.1 321.5L309.6 301.8L310.2 309.7L310.7 305.0L311.3 305.9L311.8 308.5L312.4 325.8L312.9 313.7L313.5 311.1L314.0 310.2L314.6 317.1L315.1 317.2L315.7 305.8L316.2 322.4L316.8 304.4L317.3 309.9L317.9 314.9L318.4 323.6L319.0 309.1L319.5 313.4L320.1 320.4L320.6 315.5L321.2 319.0L321.7 318.2L322.3 312.7L322.8 315.1L323.4 317.0L323.9 310.3L324.5 321.6L325.0 298.1L325.6 303.7L326.1 320.1L326.7 312.9L327.2 305.3L327.8 312.3L328.3 317.1L328.9 305.5L329.4 314.7L330.0 308.3L330.5 308.2L331.1 308.4L331.6 316.6L332.2 300.8L332.7 305.9L333.3 313.0L333.8 299.7L334.4 297.0L334.9 311.9L335.5 307.8L336.0 306.6L336.6 308.5L337.1 300.5L337.7 320.2L338.2 300.1L338.8 303.7L339.3 296.6L339.9 303.4L340.4 316.8L341.0 306.0L341.5 309.7L342.1 301.7L342.6 317.3L343.2 305.2L343.7 294.6L344.3 307.8L344.8 298.7L345.4 304.1L345.9 299.1L346.5 298.0L347.0 294.7L347.6 284.7L348.1 277.4L348.7 291.4L349.2 280.0L349.8 279.3L350.3 270.4L350.9 258.1L351.4 258.2L352.0 274.2L352.5 256.8L353.1 258.1L353.6 249.8L354.2 256.6L354.7 258.8L355.3 262.0L355.8 265.9L356.4 265.3L356.9 269.4L357.5 277.1L358.0 283.1L358.6 283.4L359.1 299.7L359.7 291.7L360.2 293.8L360.8 290.1L361.3 303.5L361.9 290.5L362.4 293.8L363.0 296.6L363.5 302.2L364.1 297.0L364.6 305.0L365.2 301.0L365.7 296.4L366.3 300.5L366.8 306.9L367.4 298.6L367.9 297.2L368.5 302.9L369.0 305.4L369.6 304.4L370.1 300.1L370.7 301.7L371.2 302.1L371.8 304.7L372.3 306.8L372.9 300.5L373.4 304.9L374.0 299.6L374.5 302.5L375.1 297.6L375.6 298.1L376.2 301.7L376.7 297.5L377.3 303.0L377.8 298.4" fill="none" stroke="#b8c0c0" stroke-width="0.55" stroke-linejoin="round" />
<path d="M226.6 329.5L227.2 329.3L227.8 329.1L228.4 328.9L229.0 328.6L229.6 328.3L230.2 327.9L230.8 327.5L231.4 326.9L232.0 326.1L232.6 325.2L233.2 324.0L233.8 322.6L234.4 320.9L235.0 319.0L235.6 317.0L236.2 314.8L236.8 312.6L237.4 310.4L238.0 308.4L238.6 306.6L239.2 305.0L239.8 303.7L240.4 302.9L241.0 302.5L241.6 302.9L242.2 303.9L242.8 305.6L243.4 307.7L244.0 310.0L244.6 312.5L245.2 314.8L245.8 316.9L246.4 318.7L247.0 320.2L247.6 321.4L248.2 322.4L248.8 323.0L249.4 323.5L250.0 323.9L250.6 324.1L251.2 324.2L251.8 324.2L252.4 324.2L253.0 324.2L253.6 324.2L254.2 324.1L254.8 324.1M333.4 308.8L334.0 308.6L334.6 308.5L335.2 308.3L335.8 308.1L336.4 308.0L337.0 307.8L337.6 307.6L338.2 307.4L338.8 307.2L339.4 307.0L340.0 306.7L340.6 306.5L341.2 306.1L341.8 305.7L342.4 305.3L343.0 304.7L343.6 303.9L344.2 302.9L344.8 301.7L345.4 300.2L346.0 298.3L346.6 296.0L347.2 293.2L347.8 290.1L348.4 286.5L349.0 282.7L349.6 278.7L350.2 274.7L350.8 271.0L351.4 267.5L352.0 264.6L352.6 262.4L353.2 260.9L353.8 260.5L354.4 261.1L355.0 262.9L355.6 265.7L356.2 269.2L356.8 273.2L357.4 277.3L358.0 281.3L358.6 285.1L359.2 288.5L359.8 291.5L360.4 293.9L361.0 296.0L361.6 297.6L362.2 298.8L362.8 299.7L363.4 300.3L364.0 300.8L364.6 301.1L365.2 301.3L365.8 301.4L366.4 301.5L367.0 301.5L367.6 301.5L368.2 301.5L368.8 301.5L369.4 301.5L370.0 301.4L370.6 301.3L371.2 301.3L371.8 301.2L372.4 301.1L373.0 301.1L373.6 301.0" fill="none" stroke="#111" stroke-width="1.9" stroke-linejoin="round"/>
<path d="M228.4 329.4L229.0 329.2L229.6 328.9L230.2 328.6L230.8 328.2L231.4 327.7L232.0 327.1L232.6 326.4L233.2 325.5L233.8 324.5L234.4 323.5L235.0 322.4L235.6 321.3L236.2 320.4L236.8 319.7L237.4 319.4L238.0 319.5L238.6 319.9L239.2 320.6L239.8 321.4L240.4 322.3L241.0 323.1L241.6 323.9L242.2 324.5L242.8 325.0L243.4 325.4L244.0 325.6L244.6 325.8L245.2 325.9L245.8 325.9L246.4 325.9" fill="none" stroke="#e8844a" stroke-width="1.7" stroke-linejoin="round"/>
<path d="M227.2 329.6L227.8 329.5L228.4 329.3L229.0 329.1L229.6 329.0L230.2 328.8L230.8 328.6L231.4 328.4L232.0 328.1L232.6 327.7L233.2 327.3L233.8 326.8L234.4 326.1L235.0 325.2L235.6 324.1L236.2 322.7L236.8 321.0L237.4 319.0L238.0 316.8L238.6 314.5L239.2 312.1L239.8 309.9L240.4 308.0L241.0 306.7L241.6 306.2L242.2 306.5L242.8 307.6L243.4 309.2L244.0 311.2L244.6 313.3L245.2 315.4L245.8 317.4L246.4 319.1L247.0 320.6L247.6 321.7L248.2 322.6L248.8 323.3L249.4 323.8L250.0 324.1L250.6 324.3L251.2 324.4L251.8 324.4L252.4 324.4L253.0 324.4L253.6 324.3L254.2 324.3L254.8 324.2L255.4 324.1L256.0 324.0" fill="none" stroke="#5b30ea" stroke-width="1.7" stroke-linejoin="round"/>
<path d="M338.8 307.9L339.4 307.8L340.0 307.6L340.6 307.4L341.2 307.2L341.8 306.9L342.4 306.5L343.0 306.1L343.6 305.6L344.2 304.9L344.8 304.0L345.4 303.1L346.0 301.9L346.6 300.6L347.2 299.1L347.8 297.6L348.4 296.1L349.0 294.7L349.6 293.6L350.2 292.8L350.8 292.5L351.4 292.7L352.0 293.4L352.6 294.4L353.2 295.6L353.8 296.9L354.4 298.2L355.0 299.3L355.6 300.4L356.2 301.3L356.8 302.0L357.4 302.5L358.0 302.9L358.6 303.2L359.2 303.3L359.8 303.4L360.4 303.5L361.0 303.5L361.6 303.4L362.2 303.4" fill="none" stroke="#e8844a" stroke-width="1.7" stroke-linejoin="round"/>
<path d="M333.4 309.0L334.0 308.8L334.6 308.7L335.2 308.6L335.8 308.4L336.4 308.3L337.0 308.1L337.6 308.0L338.2 307.8L338.8 307.6L339.4 307.5L340.0 307.3L340.6 307.1L341.2 306.9L341.8 306.7L342.4 306.4L343.0 306.1L343.6 305.8L344.2 305.4L344.8 304.9L345.4 304.2L346.0 303.3L346.6 302.3L347.2 300.9L347.8 299.1L348.4 297.0L349.0 294.4L349.6 291.4L350.2 288.1L350.8 284.5L351.4 280.7L352.0 277.0L352.6 273.7L353.2 270.9L353.8 269.0L354.4 268.3L355.0 268.8L355.6 270.4L356.2 273.0L356.8 276.1L357.4 279.5L358.0 283.1L358.6 286.5L359.2 289.6L359.8 292.3L360.4 294.6L361.0 296.5L361.6 298.1L362.2 299.2L362.8 300.1L363.4 300.7L364.0 301.1L364.6 301.4L365.2 301.6L365.8 301.7L366.4 301.7L367.0 301.8L367.6 301.8L368.2 301.7L368.8 301.7L369.4 301.6L370.0 301.6L370.6 301.5L371.2 301.4L371.8 301.4L372.4 301.3L373.0 301.2L373.6 301.1L374.2 301.0L374.8 300.9L375.4 300.8" fill="none" stroke="#5b30ea" stroke-width="1.7" stroke-linejoin="round"/>
<path d="M218.2 331.8L218.8 331.6L219.4 331.5L220.0 331.4L220.6 331.3L221.2 331.2L221.8 331.1L222.4 330.9L223.0 330.8L223.6 330.7L224.2 330.6L224.8 330.5L225.4 330.4L226.0 330.2L226.6 330.1L227.2 330.0L227.8 329.9L228.4 329.8L229.0 329.7L229.6 329.6L230.2 329.4L230.8 329.3L231.4 329.2L232.0 329.1L232.6 329.0L233.2 328.9L233.8 328.7L234.4 328.6L235.0 328.5L235.6 328.4L236.2 328.3L236.8 328.2L237.4 328.0L238.0 327.9L238.6 327.8L239.2 327.7L239.8 327.6L240.4 327.5L241.0 327.3L241.6 327.2L242.2 327.1L242.8 327.0L243.4 326.9L244.0 326.8L244.6 326.6L245.2 326.5L245.8 326.4L246.4 326.3L247.0 326.2L247.6 326.1L248.2 325.9L248.8 325.8L249.4 325.7L250.0 325.6L250.6 325.5L251.2 325.4L251.8 325.2L252.4 325.1L253.0 325.0L253.6 324.9L254.2 324.8L254.8 324.7L255.4 324.5L256.0 324.4L256.6 324.3L257.2 324.2L257.8 324.1L258.4 324.0L259.0 323.8L259.6 323.7L260.2 323.6L260.8 323.5L261.4 323.4L262.0 323.3L262.6 323.1L263.2 323.0L263.8 322.9L264.4 322.8L265.0 322.7L265.6 322.6L266.2 322.4L266.8 322.3L267.4 322.2L268.0 322.1L268.6 322.0L269.2 321.9L269.8 321.7L270.4 321.6L271.0 321.5L271.6 321.4L272.2 321.3L272.8 321.2L273.4 321.0L274.0 320.9L274.6 320.8L275.2 320.7L275.8 320.6L276.4 320.5L277.0 320.3L277.6 320.2L278.2 320.1L278.8 320.0L279.4 319.9L280.0 319.8L280.6 319.6L281.2 319.5L281.8 319.4L282.4 319.3L283.0 319.2L283.6 319.1L284.2 319.0L284.8 318.8L285.4 318.7L286.0 318.6L286.6 318.5L287.2 318.4L287.8 318.3L288.4 318.1L289.0 318.0L289.6 317.9L290.2 317.8L290.8 317.7L291.4 317.6L292.0 317.4L292.6 317.3L293.2 317.2L293.8 317.1L294.4 317.0L295.0 316.9L295.6 316.7L296.2 316.6L296.8 316.5L297.4 316.4L298.0 316.3L298.6 316.2L299.2 316.0L299.8 315.9L300.4 315.8L301.0 315.7L301.6 315.6L302.2 315.5L302.8 315.3L303.4 315.2L304.0 315.1L304.6 315.0L305.2 314.9L305.8 314.8L306.4 314.6L307.0 314.5L307.6 314.4L308.2 314.3L308.8 314.2L309.4 314.1L310.0 313.9L310.6 313.8L311.2 313.7L311.8 313.6L312.4 313.5L313.0 313.4L313.6 313.2L314.2 313.1L314.8 313.0L315.4 312.9L316.0 312.8L316.6 312.7L317.2 312.5L317.8 312.4L318.4 312.3L319.0 312.2L319.6 312.1L320.2 312.0L320.8 311.8L321.4 311.7L322.0 311.6L322.6 311.5L323.2 311.4L323.8 311.3L324.4 311.1L325.0 311.0L325.6 310.9L326.2 310.8L326.8 310.7L327.4 310.6L328.0 310.4L328.6 310.3L329.2 310.2L329.8 310.1L330.4 310.0L331.0 309.9L331.6 309.7L332.2 309.6L332.8 309.5L333.4 309.4L334.0 309.3L334.6 309.2L335.2 309.0L335.8 308.9L336.4 308.8L337.0 308.7L337.6 308.6L338.2 308.5L338.8 308.3L339.4 308.2L340.0 308.1L340.6 308.0L341.2 307.9L341.8 307.8L342.4 307.7L343.0 307.5L343.6 307.4L344.2 307.3L344.8 307.2L345.4 307.1L346.0 307.0L346.6 306.8L347.2 306.7L347.8 306.6L348.4 306.5L349.0 306.4L349.6 306.3L350.2 306.1L350.8 306.0L351.4 305.9L352.0 305.8L352.6 305.7L353.2 305.6L353.8 305.4L354.4 305.3L355.0 305.2L355.6 305.1L356.2 305.0L356.8 304.9L357.4 304.7L358.0 304.6L358.6 304.5L359.2 304.4L359.8 304.3L360.4 304.2L361.0 304.0L361.6 303.9L362.2 303.8L362.8 303.7L363.4 303.6L364.0 303.5L364.6 303.3L365.2 303.2L365.8 303.1L366.4 303.0L367.0 302.9L367.6 302.8L368.2 302.6L368.8 302.5L369.4 302.4L370.0 302.3L370.6 302.2L371.2 302.1L371.8 301.9L372.4 301.8L373.0 301.7L373.6 301.6L374.2 301.5L374.8 301.4L375.4 301.2L376.0 301.1L376.6 301.0L377.2 300.9L377.8 300.8" fill="none" stroke="#e8844a" stroke-width="2.0" stroke-linejoin="round" />
<text x="221.2" y="246.3" font-size="8.2" fill="#1c1c1c" font-weight="bold" text-anchor="start" stroke="#1c1c1c" stroke-width="0.25" >Pt-CoZn@NC-800-10%</text>
<path d="M218.2 392.6L218.8 392.5L219.4 392.2L220.0 392.4L220.6 393.3L221.2 395.3L221.8 393.8L222.4 391.9L223.0 392.6L223.6 391.8L224.2 392.1L224.8 392.1L225.4 391.8L226.0 393.2L226.6 391.9L227.2 391.1L227.8 392.7L228.4 391.8L229.0 391.8L229.6 392.5L230.2 391.7L230.8 392.0L231.4 391.0L232.0 390.2L232.6 390.4L233.2 388.5L233.8 387.7L234.4 387.1L235.0 386.5L235.6 384.3L236.2 382.0L236.8 380.9L237.4 380.1L238.0 377.7L238.6 375.4L239.2 373.1L239.8 370.9L240.4 370.5L241.0 369.3L241.6 368.1L242.2 366.0L242.8 365.4L243.4 367.9L244.0 370.0L244.6 369.8L245.2 372.0L245.8 374.0L246.4 375.0L247.0 376.8L247.6 380.2L248.2 384.3L248.8 384.7L249.4 385.2L250.0 388.0L250.6 390.5L251.2 389.3L251.8 388.8L252.4 391.5L253.0 391.0L253.6 391.3L254.2 392.8L254.8 393.3L255.4 393.0L256.0 393.0L256.6 393.1L257.2 393.3L257.8 393.9L258.4 393.4L259.0 392.4L259.6 393.8L260.2 395.6L260.8 395.1L261.4 394.0L262.0 393.2L262.6 394.8L263.2 395.6L263.8 394.0L264.4 393.5L265.0 394.2L265.6 394.1L266.2 393.4L266.8 394.4L267.4 395.5L268.0 394.6L268.6 393.2L269.2 392.9L269.8 394.0L270.4 395.0L271.0 394.8L271.6 395.0L272.2 395.4L272.8 394.2L273.4 392.2L274.0 392.0L274.6 392.9L275.2 393.6L275.8 394.8L276.4 395.9L277.0 395.7L277.6 394.0L278.2 395.6L278.8 396.6L279.4 394.9L280.0 394.5L280.6 393.8L281.2 394.5L281.8 395.6L282.4 396.3L283.0 396.8L283.6 396.4L284.2 396.5L284.8 395.8L285.4 394.6L286.0 394.8L286.6 394.3L287.2 394.3L287.8 394.9L288.4 395.5L289.0 395.7L289.6 394.0L290.2 394.1L290.8 396.3L291.4 395.1L292.0 393.7L292.6 394.9L293.2 394.6L293.8 394.2L294.4 395.2L295.0 394.7L295.6 394.8L296.2 396.0L296.8 395.0L297.4 394.8L298.0 396.4L298.6 396.2L299.2 395.8L299.8 396.4L300.4 396.0L301.0 396.2L301.6 396.7L302.2 395.4L302.8 395.5L303.4 396.7L304.0 396.9L304.6 396.0L305.2 395.7L305.8 397.1L306.4 397.0L307.0 396.9L307.6 397.6L308.2 396.8L308.8 396.4L309.4 396.3L310.0 396.5L310.6 396.7L311.2 395.6L311.8 395.7L312.4 396.0L313.0 396.3L313.6 396.7L314.2 395.7L314.8 395.0L315.4 396.0L316.0 396.8L316.6 396.6L317.2 398.0L317.8 398.7L318.4 397.0L319.0 396.7L319.6 397.7L320.2 397.4L320.8 395.4L321.4 395.2L322.0 396.4L322.6 397.8L323.2 396.5L323.8 396.2L324.4 397.3L325.0 396.9L325.6 396.8L326.2 396.3L326.8 397.2L327.4 397.2L328.0 397.1L328.6 397.0L329.2 396.0L329.8 395.9L330.4 395.8L331.0 395.9L331.6 397.1L332.2 396.4L332.8 394.3L333.4 395.1L334.0 397.3L334.6 397.9L335.2 397.6L335.8 397.7L336.4 396.2L337.0 395.4L337.6 393.9L338.2 393.3L338.8 395.2L339.4 394.3L340.0 392.1L340.6 391.6L341.2 392.4L341.8 393.0L342.4 393.3L343.0 391.9L343.6 387.1L344.2 382.2L344.8 380.5L345.4 379.5L346.0 374.8L346.6 369.9L347.2 366.6L347.8 363.1L348.4 359.5L349.0 356.4L349.6 354.2L350.2 351.3L350.8 349.0L351.4 348.9L352.0 347.0L352.6 345.3L353.2 347.7L353.8 352.1L354.4 355.3L355.0 358.9L355.6 363.1L356.2 367.6L356.8 372.0L357.4 376.1L358.0 380.6L358.6 383.9L359.2 387.4L359.8 390.3L360.4 391.0L361.0 392.4L361.6 392.9L362.2 393.9L362.8 397.6L363.4 397.8L364.0 396.8L364.6 396.8L365.2 397.2L365.8 397.1L366.4 397.2L367.0 397.4L367.6 396.8L368.2 397.2L368.8 397.6L369.4 396.4L370.0 397.9L370.6 399.3L371.2 396.8L371.8 397.5L372.4 398.7L373.0 398.2L373.6 398.7L374.2 398.1L374.8 395.7L375.4 396.3L376.0 398.4L376.6 399.2L377.2 398.6L377.8 397.8" fill="none" stroke="#c8cccc" stroke-width="0.7" stroke-linejoin="round" />
<path d="M224.8 392.6L225.4 392.5L226.0 392.5L226.6 392.5L227.2 392.4L227.8 392.4L228.4 392.3L229.0 392.2L229.6 392.0L230.2 391.8L230.8 391.5L231.4 391.2L232.0 390.7L232.6 390.2L233.2 389.5L233.8 388.6L234.4 387.5L235.0 386.3L235.6 384.8L236.2 383.2L236.8 381.4L237.4 379.5L238.0 377.5L238.6 375.5L239.2 373.7L239.8 371.9L240.4 370.5L241.0 369.3L241.6 368.4L242.2 367.9L242.8 367.8L243.4 368.2L244.0 369.1L244.6 370.4L245.2 372.0L245.8 374.0L246.4 376.1L247.0 378.2L247.6 380.3L248.2 382.3L248.8 384.1L249.4 385.8L250.0 387.3L250.6 388.5L251.2 389.6L251.8 390.4L252.4 391.1L253.0 391.7L253.6 392.2L254.2 392.5L254.8 392.8L255.4 393.0L256.0 393.2L256.6 393.3L257.2 393.5L257.8 393.6L258.4 393.6L259.0 393.7L259.6 393.8L260.2 393.8M328.6 396.4L329.2 396.3L329.8 396.3L330.4 396.3L331.0 396.3L331.6 396.3L332.2 396.2L332.8 396.2L333.4 396.2L334.0 396.1L334.6 396.1L335.2 396.0L335.8 396.0L336.4 395.9L337.0 395.8L337.6 395.6L338.2 395.4L338.8 395.2L339.4 394.9L340.0 394.4L340.6 393.9L341.2 393.1L341.8 392.1L342.4 390.8L343.0 389.2L343.6 387.2L344.2 384.7L344.8 381.9L345.4 378.7L346.0 375.1L346.6 371.2L347.2 367.2L347.8 363.3L348.4 359.5L349.0 356.1L349.6 353.0L350.2 350.5L350.8 348.4L351.4 347.0L352.0 346.3L352.6 346.6L353.2 348.0L353.8 350.4L354.4 353.9L355.0 358.0L355.6 362.5L356.2 367.1L356.8 371.7L357.4 375.9L358.0 379.8L358.6 383.2L359.2 386.2L359.8 388.6L360.4 390.6L361.0 392.1L361.6 393.3L362.2 394.3L362.8 395.0L363.4 395.5L364.0 395.9L364.6 396.3L365.2 396.5L365.8 396.7L366.4 396.9L367.0 397.0L367.6 397.1L368.2 397.3L368.8 397.4L369.4 397.5L370.0 397.5L370.6 397.6L371.2 397.7L371.8 397.8L372.4 397.8L373.0 397.9L373.6 398.0L374.2 398.0L374.8 398.1" fill="none" stroke="#111" stroke-width="1.9" stroke-linejoin="round"/>
<path d="M227.8 392.9L228.4 392.8L229.0 392.8L229.6 392.7L230.2 392.5L230.8 392.3L231.4 392.1L232.0 391.8L232.6 391.4L233.2 390.9L233.8 390.4L234.4 389.7L235.0 389.0L235.6 388.2L236.2 387.3L236.8 386.5L237.4 385.7L238.0 385.0L238.6 384.5L239.2 384.3L239.8 384.2L240.4 384.5L241.0 385.0L241.6 385.6L242.2 386.4L242.8 387.3L243.4 388.2L244.0 389.0L244.6 389.8L245.2 390.6L245.8 391.2L246.4 391.8L247.0 392.2L247.6 392.6L248.2 392.9L248.8 393.1L249.4 393.3L250.0 393.5L250.6 393.6L251.2 393.7" fill="none" stroke="#e8844a" stroke-width="1.7" stroke-linejoin="round"/>
<path d="M226.6 392.8L227.2 392.8L227.8 392.8L228.4 392.8L229.0 392.7L229.6 392.7L230.2 392.7L230.8 392.6L231.4 392.5L232.0 392.4L232.6 392.2L233.2 392.0L233.8 391.7L234.4 391.4L235.0 390.9L235.6 390.2L236.2 389.5L236.8 388.5L237.4 387.4L238.0 386.1L238.6 384.7L239.2 383.1L239.8 381.5L240.4 379.8L241.0 378.1L241.6 376.6L242.2 375.3L242.8 374.4L243.4 373.9L244.0 373.9L244.6 374.5L245.2 375.4L245.8 376.7L246.4 378.3L247.0 380.0L247.6 381.7L248.2 383.5L248.8 385.1L249.4 386.6L250.0 387.9L250.6 389.0L251.2 390.0L251.8 390.8L252.4 391.5L253.0 392.0L253.6 392.5L254.2 392.8L254.8 393.1L255.4 393.3L256.0 393.4L256.6 393.6L257.2 393.7L257.8 393.7L258.4 393.8L259.0 393.9L259.6 394.0L260.2 394.0L260.8 394.1" fill="none" stroke="#5b30ea" stroke-width="1.7" stroke-linejoin="round"/>
<path d="M334.0 396.8L334.6 396.7L335.2 396.7L335.8 396.7L336.4 396.6L337.0 396.6L337.6 396.5L338.2 396.4L338.8 396.2L339.4 396.0L340.0 395.7L340.6 395.3L341.2 394.7L341.8 393.9L342.4 392.9L343.0 391.6L343.6 390.2L344.2 388.5L344.8 386.6L345.4 384.6L346.0 382.6L346.6 380.8L347.2 379.2L347.8 378.2L348.4 377.7L349.0 378.0L349.6 378.9L350.2 380.3L350.8 382.1L351.4 384.2L352.0 386.2L352.6 388.2L353.2 390.0L353.8 391.6L354.4 392.9L355.0 394.0L355.6 394.9L356.2 395.6L356.8 396.2L357.4 396.6L358.0 396.9L358.6 397.1L359.2 397.3L359.8 397.4L360.4 397.5L361.0 397.6L361.6 397.7L362.2 397.7L362.8 397.8L363.4 397.9" fill="none" stroke="#e8844a" stroke-width="1.7" stroke-linejoin="round"/>
<path d="M329.8 396.6L330.4 396.6L331.0 396.6L331.6 396.6L332.2 396.6L332.8 396.6L333.4 396.6L334.0 396.6L334.6 396.6L335.2 396.6L335.8 396.5L336.4 396.5L337.0 396.5L337.6 396.4L338.2 396.4L338.8 396.3L339.4 396.3L340.0 396.2L340.6 396.0L341.2 395.9L341.8 395.7L342.4 395.4L343.0 395.0L343.6 394.5L344.2 393.8L344.8 392.9L345.4 391.7L346.0 390.1L346.6 388.1L347.2 385.7L347.8 382.8L348.4 379.5L349.0 375.8L349.6 371.9L350.2 367.9L350.8 364.1L351.4 360.7L352.0 358.0L352.6 356.3L353.2 355.9L353.8 356.8L354.4 358.9L355.0 361.9L355.6 365.5L356.2 369.5L356.8 373.5L357.4 377.4L358.0 381.0L358.6 384.2L359.2 387.0L359.8 389.3L360.4 391.2L361.0 392.7L361.6 393.9L362.2 394.8L362.8 395.4L363.4 395.9L364.0 396.3L364.6 396.6L365.2 396.8L365.8 397.0L366.4 397.2L367.0 397.3L367.6 397.4L368.2 397.5L368.8 397.6L369.4 397.7L370.0 397.8L370.6 397.8L371.2 397.9L371.8 397.9L372.4 398.0L373.0 398.1L373.6 398.1L374.2 398.2L374.8 398.2L375.4 398.3L376.0 398.3" fill="none" stroke="#5b30ea" stroke-width="1.7" stroke-linejoin="round"/>
<path d="M218.2 392.9L218.8 392.9L219.4 393.0L220.0 393.0L220.6 393.0L221.2 393.0L221.8 393.1L222.4 393.1L223.0 393.1L223.6 393.1L224.2 393.1L224.8 393.2L225.4 393.2L226.0 393.2L226.6 393.2L227.2 393.3L227.8 393.3L228.4 393.3L229.0 393.3L229.6 393.3L230.2 393.4L230.8 393.4L231.4 393.4L232.0 393.4L232.6 393.5L233.2 393.5L233.8 393.5L234.4 393.5L235.0 393.5L235.6 393.6L236.2 393.6L236.8 393.6L237.4 393.6L238.0 393.7L238.6 393.7L239.2 393.7L239.8 393.7L240.4 393.7L241.0 393.8L241.6 393.8L242.2 393.8L242.8 393.8L243.4 393.9L244.0 393.9L244.6 393.9L245.2 393.9L245.8 393.9L246.4 394.0L247.0 394.0L247.6 394.0L248.2 394.0L248.8 394.0L249.4 394.1L250.0 394.1L250.6 394.1L251.2 394.1L251.8 394.2L252.4 394.2L253.0 394.2L253.6 394.2L254.2 394.2L254.8 394.3L255.4 394.3L256.0 394.3L256.6 394.3L257.2 394.4L257.8 394.4L258.4 394.4L259.0 394.4L259.6 394.4L260.2 394.5L260.8 394.5L261.4 394.5L262.0 394.5L262.6 394.6L263.2 394.6L263.8 394.6L264.4 394.6L265.0 394.6L265.6 394.7L266.2 394.7L266.8 394.7L267.4 394.7L268.0 394.8L268.6 394.8L269.2 394.8L269.8 394.8L270.4 394.8L271.0 394.9L271.6 394.9L272.2 394.9L272.8 394.9L273.4 395.0L274.0 395.0L274.6 395.0L275.2 395.0L275.8 395.0L276.4 395.1L277.0 395.1L277.6 395.1L278.2 395.1L278.8 395.2L279.4 395.2L280.0 395.2L280.6 395.2L281.2 395.2L281.8 395.3L282.4 395.3L283.0 395.3L283.6 395.3L284.2 395.3L284.8 395.4L285.4 395.4L286.0 395.4L286.6 395.4L287.2 395.5L287.8 395.5L288.4 395.5L289.0 395.5L289.6 395.5L290.2 395.6L290.8 395.6L291.4 395.6L292.0 395.6L292.6 395.7L293.2 395.7L293.8 395.7L294.4 395.7L295.0 395.7L295.6 395.8L296.2 395.8L296.8 395.8L297.4 395.8L298.0 395.9L298.6 395.9L299.2 395.9L299.8 395.9L300.4 395.9L301.0 396.0L301.6 396.0L302.2 396.0L302.8 396.0L303.4 396.1L304.0 396.1L304.6 396.1L305.2 396.1L305.8 396.1L306.4 396.2L307.0 396.2L307.6 396.2L308.2 396.2L308.8 396.3L309.4 396.3L310.0 396.3L310.6 396.3L311.2 396.3L311.8 396.4L312.4 396.4L313.0 396.4L313.6 396.4L314.2 396.5L314.8 396.5L315.4 396.5L316.0 396.5L316.6 396.5L317.2 396.6L317.8 396.6L318.4 396.6L319.0 396.6L319.6 396.6L320.2 396.7L320.8 396.7L321.4 396.7L322.0 396.7L322.6 396.8L323.2 396.8L323.8 396.8L324.4 396.8L325.0 396.8L325.6 396.9L326.2 396.9L326.8 396.9L327.4 396.9L328.0 397.0L328.6 397.0L329.2 397.0L329.8 397.0L330.4 397.0L331.0 397.1L331.6 397.1L332.2 397.1L332.8 397.1L333.4 397.2L334.0 397.2L334.6 397.2L335.2 397.2L335.8 397.2L336.4 397.3L337.0 397.3L337.6 397.3L338.2 397.3L338.8 397.4L339.4 397.4L340.0 397.4L340.6 397.4L341.2 397.4L341.8 397.5L342.4 397.5L343.0 397.5L343.6 397.5L344.2 397.6L344.8 397.6L345.4 397.6L346.0 397.6L346.6 397.6L347.2 397.7L347.8 397.7L348.4 397.7L349.0 397.7L349.6 397.7L350.2 397.8L350.8 397.8L351.4 397.8L352.0 397.8L352.6 397.9L353.2 397.9L353.8 397.9L354.4 397.9L355.0 397.9L355.6 398.0L356.2 398.0L356.8 398.0L357.4 398.0L358.0 398.1L358.6 398.1L359.2 398.1L359.8 398.1L360.4 398.1L361.0 398.2L361.6 398.2L362.2 398.2L362.8 398.2L363.4 398.3L364.0 398.3L364.6 398.3L365.2 398.3L365.8 398.3L366.4 398.4L367.0 398.4L367.6 398.4L368.2 398.4L368.8 398.5L369.4 398.5L370.0 398.5L370.6 398.5L371.2 398.5L371.8 398.6L372.4 398.6L373.0 398.6L373.6 398.6L374.2 398.7L374.8 398.7L375.4 398.7L376.0 398.7L376.6 398.7L377.2 398.8L377.8 398.8" fill="none" stroke="#e8844a" stroke-width="2.0" stroke-linejoin="round" />
<text x="221.2" y="358.2" font-size="8.2" fill="#1c1c1c" font-weight="bold" text-anchor="start" stroke="#1c1c1c" stroke-width="0.25" >Pt-Zn@NC-800-10%</text>
<text x="351.1" y="245.8" font-size="8.8" fill="#1c1c1c" font-weight="bold" text-anchor="start" >Zn 2p</text>
<text x="234.8" y="292.6" font-size="8.9" fill="#111" font-weight="bold">2p<tspan font-size="5.87" dy="2.0">1/2</tspan></text>
<text x="346.6" y="256.5" font-size="8.9" fill="#111" font-weight="bold">2p<tspan font-size="5.87" dy="2.0">3/2</tspan></text>
<text x="359.5" y="271.7" font-size="9.5" fill="#6a35e0" font-weight="bold">Zn<tspan font-size="4.94" dy="-3.2">0</tspan></text>
<text x="325.6" y="289.4" font-size="9.5" fill="#e0834a" font-weight="bold">Zn<tspan font-size="4.94" dy="-3.6">2+</tspan></text>
<text x="358.6" y="357.9" font-size="9.5" fill="#6a35e0" font-weight="bold">Zn<tspan font-size="4.94" dy="-3.2">0</tspan></text>
<text x="327.2" y="376.4" font-size="9.5" fill="#e0834a" font-weight="bold">Zn<tspan font-size="4.94" dy="-3.6">2+</tspan></text>
</g></svg>
</body></html>
